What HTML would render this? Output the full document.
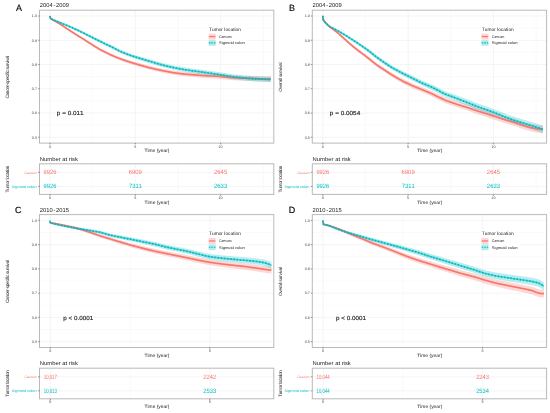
<!DOCTYPE html>
<html><head><meta charset="utf-8"><title>Kaplan-Meier curves</title>
<style>
html,body{margin:0;padding:0;background:#fff;width:550px;height:413px;overflow:hidden;}
svg{display:block;will-change:transform;}
text{font-family:"Liberation Sans",sans-serif;font-kerning:none;text-rendering:geometricPrecision;}
.gm{stroke:#f7f7f7;stroke-width:0.6}
.gM{stroke:#f1f1f1;stroke-width:0.8}
.bd{fill:none;stroke:#bababa;stroke-width:1}
.tk{stroke:#555;stroke-width:0.6}
.k{stroke:#000;stroke-width:1.5}
.p{stroke:#222;stroke-width:1.5}
</style></head>
<body>
<svg width="550" height="413" viewBox="0 0 550 413">
<rect width="550" height="413" fill="#fff"/>
<g transform="translate(0,0)">
<text transform="translate(15.9,10.9) scale(0.1,0.1)" font-size="90" fill="#000" class="k">A</text>
<text transform="translate(39.8,7) scale(0.1)" font-size="58" fill="#1a1a1a">2004<tspan dx="7">-</tspan><tspan dx="7">2009</tspan></text>
<line x1="39.5" x2="273.8" y1="28.13" y2="28.13" class="gm"/>
<line x1="39.5" x2="273.8" y1="52.38" y2="52.38" class="gm"/>
<line x1="39.5" x2="273.8" y1="76.62" y2="76.62" class="gm"/>
<line x1="39.5" x2="273.8" y1="100.88" y2="100.88" class="gm"/>
<line x1="39.5" x2="273.8" y1="125.12" y2="125.12" class="gm"/>
<line x1="92.65" x2="92.65" y1="10.2" y2="143.1" class="gm"/>
<line x1="177.95" x2="177.95" y1="10.2" y2="143.1" class="gm"/>
<line x1="263.25" x2="263.25" y1="10.2" y2="143.1" class="gm"/>
<line x1="39.5" x2="273.8" y1="16" y2="16" class="gM"/>
<line x1="39.5" x2="273.8" y1="40.25" y2="40.25" class="gM"/>
<line x1="39.5" x2="273.8" y1="64.5" y2="64.5" class="gM"/>
<line x1="39.5" x2="273.8" y1="88.75" y2="88.75" class="gM"/>
<line x1="39.5" x2="273.8" y1="113" y2="113" class="gM"/>
<line x1="39.5" x2="273.8" y1="137.25" y2="137.25" class="gM"/>
<line x1="50" x2="50" y1="10.2" y2="143.1" class="gM"/>
<line x1="135.3" x2="135.3" y1="10.2" y2="143.1" class="gM"/>
<line x1="220.6" x2="220.6" y1="10.2" y2="143.1" class="gM"/>
<polygon points="50,15.8 50.4,17.65 52.4,18.86 52.9,19.13 53.4,19.4 53.9,19.67 54.4,19.95 54.9,20.22 55.4,20.5 55.9,20.78 56.4,21.06 56.9,21.34 57.4,21.62 57.9,21.91 58.4,22.2 58.9,22.49 59.4,22.78 59.9,23.08 60.4,23.38 60.9,23.69 61.4,23.99 61.9,24.31 62.4,24.62 62.9,24.94 63.4,25.26 63.9,25.58 64.4,25.91 64.9,26.24 65.4,26.57 65.9,26.9 66.4,27.23 66.9,27.55 67.4,27.88 67.9,28.21 68.4,28.53 68.9,28.86 69.4,29.18 69.9,29.5 70.4,29.81 70.9,30.13 71.4,30.44 71.9,30.76 72.4,31.07 72.9,31.38 73.4,31.69 73.9,32 74.4,32.32 74.9,32.63 75.4,32.93 75.9,33.24 76.4,33.55 76.9,33.86 77.4,34.17 77.9,34.48 78.4,34.78 78.9,35.09 79.4,35.4 79.9,35.7 80.4,36.01 80.9,36.32 81.4,36.63 81.9,36.93 82.4,37.24 82.9,37.55 83.4,37.86 83.9,38.17 84.4,38.48 84.9,38.79 85.4,39.1 85.9,39.41 86.4,39.72 86.9,40.03 87.4,40.34 87.9,40.66 88.4,40.97 88.9,41.28 89.4,41.59 89.9,41.91 90.4,42.22 90.9,42.53 91.4,42.84 91.9,43.15 92.4,43.46 92.9,43.77 93.4,44.08 93.9,44.39 94.4,44.69 94.9,45 95.4,45.31 95.9,45.61 96.4,45.92 96.9,46.22 97.4,46.52 97.9,46.82 98.4,47.12 98.9,47.41 99.4,47.7 99.9,47.98 100.4,48.26 100.9,48.54 101.4,48.81 101.9,49.07 102.4,49.33 102.9,49.59 103.4,49.84 103.9,50.09 104.4,50.34 104.9,50.58 105.4,50.82 105.9,51.06 106.4,51.29 106.9,51.53 107.4,51.76 107.9,51.99 108.4,52.21 108.9,52.44 109.4,52.66 109.9,52.89 110.4,53.11 110.9,53.33 111.4,53.55 111.9,53.77 112.4,53.99 112.9,54.21 113.4,54.42 113.9,54.64 114.4,54.85 114.9,55.06 115.4,55.26 115.9,55.47 116.4,55.67 116.9,55.87 117.4,56.06 117.9,56.25 118.4,56.44 118.9,56.63 119.4,56.82 119.9,57 120.4,57.19 120.9,57.37 121.4,57.55 121.9,57.73 122.4,57.91 122.9,58.08 123.4,58.25 123.9,58.43 124.4,58.6 124.9,58.76 125.4,58.93 125.9,59.1 126.4,59.26 126.9,59.42 127.4,59.58 127.9,59.74 128.4,59.9 128.9,60.05 129.4,60.21 129.9,60.37 130.4,60.52 130.9,60.67 131.4,60.82 131.9,60.97 132.4,61.12 132.9,61.27 133.4,61.41 133.9,61.56 134.4,61.7 134.9,61.84 135.4,61.98 135.9,62.12 136.4,62.26 136.9,62.4 137.4,62.54 137.9,62.68 138.4,62.82 138.9,62.96 139.4,63.09 139.9,63.23 140.4,63.37 140.9,63.51 141.4,63.65 141.9,63.79 142.4,63.93 142.9,64.07 143.4,64.21 143.9,64.35 144.4,64.49 144.9,64.63 145.4,64.77 145.9,64.9 146.4,65.04 146.9,65.17 147.4,65.3 147.9,65.43 148.4,65.55 148.9,65.67 149.4,65.8 149.9,65.91 150.4,66.03 150.9,66.15 151.4,66.26 151.9,66.37 152.4,66.49 152.9,66.6 153.4,66.71 153.9,66.82 154.4,66.93 154.9,67.04 155.4,67.15 155.9,67.26 156.4,67.36 156.9,67.47 157.4,67.58 157.9,67.69 158.4,67.79 158.9,67.9 159.4,68 159.9,68.11 160.4,68.21 160.9,68.31 161.4,68.42 161.9,68.52 162.4,68.62 162.9,68.72 163.4,68.81 163.9,68.91 164.4,69.01 164.9,69.11 165.4,69.2 165.9,69.29 166.4,69.39 166.9,69.48 167.4,69.57 167.9,69.66 168.4,69.75 168.9,69.83 169.4,69.92 169.9,70 170.4,70.08 170.9,70.17 171.4,70.25 171.9,70.33 172.4,70.4 172.9,70.48 173.4,70.56 173.9,70.63 174.4,70.7 174.9,70.78 175.4,70.85 175.9,70.92 176.4,70.98 176.9,71.05 177.4,71.12 177.9,71.18 178.4,71.25 178.9,71.31 179.4,71.37 179.9,71.44 180.4,71.5 180.9,71.56 181.4,71.61 181.9,71.67 182.4,71.73 182.9,71.78 183.4,71.83 183.9,71.88 184.4,71.93 184.9,71.98 185.4,72.02 185.9,72.06 186.4,72.1 186.9,72.14 187.4,72.17 187.9,72.21 188.4,72.24 188.9,72.27 189.4,72.3 189.9,72.33 190.4,72.36 190.9,72.39 191.4,72.42 191.9,72.45 192.4,72.49 192.9,72.52 193.4,72.56 193.9,72.59 194.4,72.63 194.9,72.67 195.4,72.71 195.9,72.74 196.4,72.78 196.9,72.82 197.4,72.86 197.9,72.9 198.4,72.94 198.9,72.97 199.4,73.01 199.9,73.05 200.4,73.09 200.9,73.13 201.4,73.16 201.9,73.2 202.4,73.23 202.9,73.27 203.4,73.3 203.9,73.33 204.4,73.36 204.9,73.39 205.4,73.41 205.9,73.44 206.4,73.46 206.9,73.48 207.4,73.5 207.9,73.52 208.4,73.54 208.9,73.56 209.4,73.57 209.9,73.59 210.4,73.61 210.9,73.63 211.4,73.64 211.9,73.66 212.4,73.68 212.9,73.7 213.4,73.71 213.9,73.73 214.4,73.75 214.9,73.77 215.4,73.79 215.9,73.81 216.4,73.83 216.9,73.86 217.4,73.88 217.9,73.91 218.4,73.94 218.9,73.98 219.4,74.02 219.9,74.06 220.4,74.1 220.9,74.15 221.4,74.2 221.9,74.25 222.4,74.3 222.9,74.36 223.4,74.41 223.9,74.47 224.4,74.52 224.9,74.58 225.4,74.63 225.9,74.68 226.4,74.73 226.9,74.78 227.4,74.83 227.9,74.88 228.4,74.92 228.9,74.97 229.4,75.01 229.9,75.05 230.4,75.09 230.9,75.13 231.4,75.17 231.9,75.2 232.4,75.23 232.9,75.27 233.4,75.29 233.9,75.32 234.4,75.34 234.9,75.37 235.4,75.39 235.9,75.41 236.4,75.43 236.9,75.44 237.4,75.46 237.9,75.48 238.4,75.49 238.9,75.51 239.4,75.53 239.9,75.54 240.4,75.56 240.9,75.57 241.4,75.59 241.9,75.6 242.4,75.62 242.9,75.64 243.4,75.65 243.9,75.67 244.4,75.68 244.9,75.7 245.4,75.71 245.9,75.73 246.4,75.75 246.9,75.76 247.4,75.78 247.9,75.79 248.4,75.81 248.9,75.82 249.4,75.84 249.9,75.86 250.4,75.87 250.9,75.89 251.4,75.9 251.9,75.92 252.4,75.93 252.9,75.95 253.4,75.97 253.9,75.98 254.4,76 254.9,76.01 255.4,76.03 255.9,76.04 256.4,76.05 256.9,76.07 257.4,76.08 257.9,76.1 258.4,76.11 258.9,76.12 259.4,76.13 259.9,76.14 260.4,76.16 260.9,76.17 261.4,76.18 261.9,76.19 262.4,76.2 262.9,76.21 263.4,76.23 263.9,76.24 264.4,76.25 264.9,76.26 265.4,76.27 265.9,76.28 266.4,76.29 266.9,76.31 267.4,76.32 267.9,76.33 268.4,76.34 268.9,76.35 269.4,76.36 269.9,76.37 270.4,76.39 270.9,76.4 270.9,81.8 270.4,81.78 269.9,81.76 269.4,81.75 268.9,81.73 268.4,81.71 267.9,81.69 267.4,81.68 266.9,81.66 266.4,81.64 265.9,81.63 265.4,81.61 264.9,81.59 264.4,81.57 263.9,81.56 263.4,81.54 262.9,81.52 262.4,81.51 261.9,81.49 261.4,81.47 260.9,81.45 260.4,81.44 259.9,81.42 259.4,81.4 258.9,81.38 258.4,81.36 257.9,81.35 257.4,81.33 256.9,81.31 256.4,81.29 255.9,81.27 255.4,81.25 254.9,81.23 254.4,81.21 253.9,81.18 253.4,81.16 252.9,81.14 252.4,81.12 251.9,81.1 251.4,81.08 250.9,81.05 250.4,81.03 249.9,81.01 249.4,80.99 248.9,80.97 248.4,80.95 247.9,80.92 247.4,80.9 246.9,80.88 246.4,80.86 245.9,80.84 245.4,80.82 244.9,80.79 244.4,80.77 243.9,80.75 243.4,80.73 242.9,80.71 242.4,80.69 241.9,80.66 241.4,80.64 240.9,80.62 240.4,80.6 239.9,80.58 239.4,80.55 238.9,80.53 238.4,80.51 237.9,80.49 237.4,80.47 236.9,80.44 236.4,80.42 235.9,80.39 235.4,80.37 234.9,80.34 234.4,80.31 233.9,80.28 233.4,80.25 232.9,80.22 232.4,80.18 231.9,80.14 231.4,80.1 230.9,80.06 230.4,80.01 229.9,79.97 229.4,79.92 228.9,79.87 228.4,79.82 227.9,79.77 227.4,79.71 226.9,79.66 226.4,79.6 225.9,79.55 225.4,79.49 224.9,79.43 224.4,79.37 223.9,79.31 223.4,79.25 222.9,79.18 222.4,79.12 221.9,79.06 221.4,79.01 220.9,78.95 220.4,78.9 219.9,78.85 219.4,78.8 218.9,78.75 218.4,78.71 217.9,78.67 217.4,78.64 216.9,78.61 216.4,78.58 215.9,78.55 215.4,78.52 214.9,78.49 214.4,78.47 213.9,78.44 213.4,78.42 212.9,78.39 212.4,78.37 211.9,78.35 211.4,78.32 210.9,78.3 210.4,78.28 209.9,78.25 209.4,78.23 208.9,78.2 208.4,78.18 207.9,78.15 207.4,78.13 206.9,78.1 206.4,78.07 205.9,78.04 205.4,78.01 204.9,77.98 204.4,77.95 203.9,77.91 203.4,77.87 202.9,77.83 202.4,77.79 201.9,77.75 201.4,77.71 200.9,77.67 200.4,77.62 199.9,77.58 199.4,77.53 198.9,77.49 198.4,77.44 197.9,77.4 197.4,77.35 196.9,77.31 196.4,77.26 195.9,77.22 195.4,77.17 194.9,77.13 194.4,77.09 193.9,77.04 193.4,77 192.9,76.96 192.4,76.91 191.9,76.87 191.4,76.84 190.9,76.8 190.4,76.76 189.9,76.72 189.4,76.68 188.9,76.65 188.4,76.61 187.9,76.57 187.4,76.53 186.9,76.49 186.4,76.45 185.9,76.4 185.4,76.35 184.9,76.3 184.4,76.25 183.9,76.19 183.4,76.13 182.9,76.08 182.4,76.01 181.9,75.95 181.4,75.89 180.9,75.82 180.4,75.76 179.9,75.69 179.4,75.62 178.9,75.55 178.4,75.48 177.9,75.41 177.4,75.34 176.9,75.26 176.4,75.19 175.9,75.11 175.4,75.04 174.9,74.96 174.4,74.88 173.9,74.8 173.4,74.72 172.9,74.64 172.4,74.55 171.9,74.47 171.4,74.38 170.9,74.29 170.4,74.2 169.9,74.11 169.4,74.02 168.9,73.93 168.4,73.83 167.9,73.74 167.4,73.64 166.9,73.55 166.4,73.45 165.9,73.35 165.4,73.25 164.9,73.14 164.4,73.04 163.9,72.94 163.4,72.83 162.9,72.72 162.4,72.62 161.9,72.51 161.4,72.4 160.9,72.29 160.4,72.18 159.9,72.07 159.4,71.96 158.9,71.85 158.4,71.73 157.9,71.62 157.4,71.5 156.9,71.39 156.4,71.27 155.9,71.16 155.4,71.04 154.9,70.93 154.4,70.81 153.9,70.69 153.4,70.57 152.9,70.45 152.4,70.33 151.9,70.21 151.4,70.09 150.9,69.97 150.4,69.85 149.9,69.72 149.4,69.6 148.9,69.47 148.4,69.34 147.9,69.2 147.4,69.07 146.9,68.93 146.4,68.79 145.9,68.65 145.4,68.5 144.9,68.36 144.4,68.21 143.9,68.06 143.4,67.92 142.9,67.77 142.4,67.62 141.9,67.47 141.4,67.33 140.9,67.18 140.4,67.03 139.9,66.88 139.4,66.74 138.9,66.59 138.4,66.44 137.9,66.29 137.4,66.15 136.9,66 136.4,65.85 135.9,65.7 135.4,65.56 134.9,65.41 134.4,65.26 133.9,65.11 133.4,64.95 132.9,64.8 132.4,64.64 131.9,64.49 131.4,64.33 130.9,64.17 130.4,64.01 129.9,63.85 129.4,63.68 128.9,63.52 128.4,63.35 127.9,63.19 127.4,63.02 126.9,62.85 126.4,62.68 125.9,62.51 125.4,62.33 124.9,62.16 124.4,61.98 123.9,61.8 123.4,61.62 122.9,61.44 122.4,61.26 121.9,61.07 121.4,60.88 120.9,60.69 120.4,60.5 119.9,60.31 119.4,60.11 118.9,59.92 118.4,59.72 117.9,59.52 117.4,59.32 116.9,59.12 116.4,58.91 115.9,58.7 115.4,58.49 114.9,58.27 114.4,58.05 113.9,57.83 113.4,57.61 112.9,57.38 112.4,57.16 111.9,56.93 111.4,56.7 110.9,56.47 110.4,56.24 109.9,56.01 109.4,55.77 108.9,55.54 108.4,55.3 107.9,55.07 107.4,54.83 106.9,54.59 106.4,54.34 105.9,54.1 105.4,53.85 104.9,53.6 104.4,53.35 103.9,53.09 103.4,52.83 102.9,52.57 102.4,52.3 101.9,52.03 101.4,51.76 100.9,51.48 100.4,51.19 99.9,50.9 99.4,50.61 98.9,50.31 98.4,50.01 97.9,49.7 97.4,49.39 96.9,49.08 96.4,48.77 95.9,48.45 95.4,48.13 94.9,47.82 94.4,47.5 93.9,47.18 93.4,46.86 92.9,46.54 92.4,46.22 91.9,45.9 91.4,45.58 90.9,45.26 90.4,44.93 89.9,44.61 89.4,44.29 88.9,43.96 88.4,43.64 87.9,43.32 87.4,42.99 86.9,42.67 86.4,42.34 85.9,42.02 85.4,41.7 84.9,41.38 84.4,41.05 83.9,40.73 83.4,40.41 82.9,40.09 82.4,39.77 81.9,39.45 81.4,39.13 80.9,38.81 80.4,38.49 79.9,38.17 79.4,37.85 78.9,37.53 78.4,37.21 77.9,36.89 77.4,36.57 76.9,36.25 76.4,35.93 75.9,35.6 75.4,35.28 74.9,34.96 74.4,34.63 73.9,34.31 73.4,33.99 72.9,33.66 72.4,33.33 71.9,33.01 71.4,32.68 70.9,32.35 70.4,32.02 69.9,31.69 69.4,31.35 68.9,31.02 68.4,30.68 67.9,30.34 67.4,30 66.9,29.65 66.4,29.31 65.9,28.96 65.4,28.62 64.9,28.27 64.4,27.93 63.9,27.58 63.4,27.24 62.9,26.9 62.4,26.57 61.9,26.23 61.4,25.9 60.9,25.58 60.4,25.25 59.9,24.93 59.4,24.61 58.9,24.3 58.4,23.99 57.9,23.68 57.4,23.37 56.9,23.06 56.4,22.76 55.9,22.46 55.4,22.15 54.9,21.85 54.4,21.55 53.9,21.25 53.4,20.95 52.9,20.64 52.4,20.34 50.4,18.95 50,17" fill="#F8766D" fill-opacity="0.28"/>
<polygon points="50,15.3 50.4,17.45 52.4,18.77 52.9,18.94 53.4,19.12 53.9,19.29 54.4,19.47 54.9,19.65 55.4,19.83 55.9,20.02 56.4,20.21 56.9,20.39 57.4,20.58 57.9,20.78 58.4,20.97 58.9,21.16 59.4,21.36 59.9,21.55 60.4,21.75 60.9,21.94 61.4,22.13 61.9,22.33 62.4,22.52 62.9,22.71 63.4,22.9 63.9,23.09 64.4,23.29 64.9,23.48 65.4,23.68 65.9,23.87 66.4,24.07 66.9,24.27 67.4,24.48 67.9,24.68 68.4,24.89 68.9,25.1 69.4,25.32 69.9,25.53 70.4,25.74 70.9,25.96 71.4,26.18 71.9,26.39 72.4,26.61 72.9,26.83 73.4,27.05 73.9,27.27 74.4,27.49 74.9,27.71 75.4,27.93 75.9,28.15 76.4,28.38 76.9,28.6 77.4,28.83 77.9,29.06 78.4,29.29 78.9,29.53 79.4,29.76 79.9,30 80.4,30.24 80.9,30.48 81.4,30.72 81.9,30.96 82.4,31.2 82.9,31.44 83.4,31.68 83.9,31.92 84.4,32.16 84.9,32.41 85.4,32.65 85.9,32.89 86.4,33.13 86.9,33.38 87.4,33.62 87.9,33.86 88.4,34.11 88.9,34.35 89.4,34.6 89.9,34.84 90.4,35.09 90.9,35.34 91.4,35.58 91.9,35.83 92.4,36.08 92.9,36.32 93.4,36.57 93.9,36.82 94.4,37.06 94.9,37.31 95.4,37.56 95.9,37.8 96.4,38.05 96.9,38.3 97.4,38.54 97.9,38.79 98.4,39.03 98.9,39.28 99.4,39.52 99.9,39.77 100.4,40.01 100.9,40.25 101.4,40.49 101.9,40.73 102.4,40.97 102.9,41.21 103.4,41.45 103.9,41.68 104.4,41.92 104.9,42.15 105.4,42.38 105.9,42.62 106.4,42.85 106.9,43.08 107.4,43.31 107.9,43.54 108.4,43.77 108.9,44 109.4,44.23 109.9,44.46 110.4,44.7 110.9,44.94 111.4,45.18 111.9,45.43 112.4,45.67 112.9,45.92 113.4,46.17 113.9,46.43 114.4,46.68 114.9,46.94 115.4,47.19 115.9,47.45 116.4,47.7 116.9,47.96 117.4,48.21 117.9,48.47 118.4,48.72 118.9,48.97 119.4,49.21 119.9,49.45 120.4,49.69 120.9,49.92 121.4,50.15 121.9,50.37 122.4,50.58 122.9,50.79 123.4,50.99 123.9,51.19 124.4,51.38 124.9,51.57 125.4,51.76 125.9,51.94 126.4,52.13 126.9,52.31 127.4,52.49 127.9,52.67 128.4,52.84 128.9,53.02 129.4,53.2 129.9,53.38 130.4,53.55 130.9,53.72 131.4,53.89 131.9,54.06 132.4,54.23 132.9,54.39 133.4,54.55 133.9,54.71 134.4,54.87 134.9,55.02 135.4,55.18 135.9,55.33 136.4,55.48 136.9,55.63 137.4,55.77 137.9,55.92 138.4,56.07 138.9,56.22 139.4,56.37 139.9,56.51 140.4,56.66 140.9,56.81 141.4,56.95 141.9,57.1 142.4,57.25 142.9,57.39 143.4,57.54 143.9,57.68 144.4,57.83 144.9,57.97 145.4,58.12 145.9,58.26 146.4,58.4 146.9,58.55 147.4,58.69 147.9,58.83 148.4,58.98 148.9,59.12 149.4,59.26 149.9,59.41 150.4,59.55 150.9,59.69 151.4,59.84 151.9,59.98 152.4,60.13 152.9,60.27 153.4,60.42 153.9,60.56 154.4,60.71 154.9,60.86 155.4,61 155.9,61.15 156.4,61.3 156.9,61.44 157.4,61.59 157.9,61.74 158.4,61.88 158.9,62.02 159.4,62.16 159.9,62.3 160.4,62.44 160.9,62.57 161.4,62.7 161.9,62.83 162.4,62.96 162.9,63.09 163.4,63.21 163.9,63.33 164.4,63.45 164.9,63.57 165.4,63.69 165.9,63.81 166.4,63.92 166.9,64.04 167.4,64.15 167.9,64.26 168.4,64.37 168.9,64.48 169.4,64.59 169.9,64.69 170.4,64.8 170.9,64.91 171.4,65.01 171.9,65.12 172.4,65.23 172.9,65.33 173.4,65.44 173.9,65.54 174.4,65.64 174.9,65.75 175.4,65.85 175.9,65.95 176.4,66.04 176.9,66.14 177.4,66.23 177.9,66.33 178.4,66.42 178.9,66.51 179.4,66.59 179.9,66.68 180.4,66.77 180.9,66.85 181.4,66.94 181.9,67.02 182.4,67.1 182.9,67.19 183.4,67.27 183.9,67.35 184.4,67.44 184.9,67.52 185.4,67.6 185.9,67.68 186.4,67.75 186.9,67.83 187.4,67.9 187.9,67.98 188.4,68.05 188.9,68.12 189.4,68.18 189.9,68.25 190.4,68.31 190.9,68.38 191.4,68.44 191.9,68.5 192.4,68.57 192.9,68.63 193.4,68.69 193.9,68.75 194.4,68.81 194.9,68.87 195.4,68.93 195.9,69 196.4,69.06 196.9,69.12 197.4,69.18 197.9,69.24 198.4,69.31 198.9,69.37 199.4,69.43 199.9,69.5 200.4,69.56 200.9,69.63 201.4,69.69 201.9,69.76 202.4,69.82 202.9,69.89 203.4,69.95 203.9,70.02 204.4,70.09 204.9,70.15 205.4,70.22 205.9,70.28 206.4,70.35 206.9,70.42 207.4,70.48 207.9,70.55 208.4,70.62 208.9,70.69 209.4,70.76 209.9,70.83 210.4,70.9 210.9,70.97 211.4,71.04 211.9,71.11 212.4,71.19 212.9,71.26 213.4,71.33 213.9,71.41 214.4,71.48 214.9,71.56 215.4,71.63 215.9,71.7 216.4,71.78 216.9,71.85 217.4,71.93 217.9,72 218.4,72.08 218.9,72.15 219.4,72.23 219.9,72.3 220.4,72.38 220.9,72.45 221.4,72.53 221.9,72.6 222.4,72.68 222.9,72.75 223.4,72.83 223.9,72.91 224.4,72.98 224.9,73.06 225.4,73.14 225.9,73.22 226.4,73.29 226.9,73.37 227.4,73.45 227.9,73.53 228.4,73.6 228.9,73.68 229.4,73.76 229.9,73.83 230.4,73.91 230.9,73.98 231.4,74.05 231.9,74.12 232.4,74.19 232.9,74.26 233.4,74.33 233.9,74.39 234.4,74.45 234.9,74.51 235.4,74.56 235.9,74.61 236.4,74.67 236.9,74.72 237.4,74.77 237.9,74.82 238.4,74.86 238.9,74.91 239.4,74.96 239.9,75.01 240.4,75.06 240.9,75.1 241.4,75.15 241.9,75.2 242.4,75.24 242.9,75.29 243.4,75.33 243.9,75.38 244.4,75.42 244.9,75.47 245.4,75.51 245.9,75.55 246.4,75.59 246.9,75.63 247.4,75.67 247.9,75.71 248.4,75.74 248.9,75.78 249.4,75.82 249.9,75.85 250.4,75.89 250.9,75.92 251.4,75.96 251.9,75.99 252.4,76.03 252.9,76.06 253.4,76.1 253.9,76.13 254.4,76.16 254.9,76.2 255.4,76.23 255.9,76.26 256.4,76.29 256.9,76.31 257.4,76.34 257.9,76.36 258.4,76.39 258.9,76.41 259.4,76.43 259.9,76.45 260.4,76.47 260.9,76.48 261.4,76.5 261.9,76.52 262.4,76.53 262.9,76.55 263.4,76.56 263.9,76.58 264.4,76.59 264.9,76.61 265.4,76.63 265.9,76.64 266.4,76.66 266.9,76.67 267.4,76.69 267.9,76.7 268.4,76.72 268.9,76.73 269.4,76.75 269.9,76.77 270.4,76.78 270.9,76.8 270.9,82.2 270.4,82.18 269.9,82.15 269.4,82.13 268.9,82.11 268.4,82.09 267.9,82.07 267.4,82.05 266.9,82.03 266.4,82.01 265.9,81.99 265.4,81.97 264.9,81.94 264.4,81.92 263.9,81.9 263.4,81.88 262.9,81.86 262.4,81.84 261.9,81.82 261.4,81.8 260.9,81.77 260.4,81.75 259.9,81.73 259.4,81.7 258.9,81.68 258.4,81.65 257.9,81.62 257.4,81.59 256.9,81.56 256.4,81.53 255.9,81.49 255.4,81.46 254.9,81.42 254.4,81.38 253.9,81.34 253.4,81.3 252.9,81.26 252.4,81.22 251.9,81.18 251.4,81.14 250.9,81.1 250.4,81.06 249.9,81.02 249.4,80.98 248.9,80.93 248.4,80.89 247.9,80.85 247.4,80.81 246.9,80.76 246.4,80.72 245.9,80.67 245.4,80.62 244.9,80.58 244.4,80.53 243.9,80.48 243.4,80.43 242.9,80.38 242.4,80.33 241.9,80.27 241.4,80.22 240.9,80.17 240.4,80.11 239.9,80.06 239.4,80.01 238.9,79.95 238.4,79.9 237.9,79.85 237.4,79.79 236.9,79.74 236.4,79.68 235.9,79.62 235.4,79.56 234.9,79.5 234.4,79.44 233.9,79.37 233.4,79.3 232.9,79.23 232.4,79.16 231.9,79.08 231.4,79.01 230.9,78.93 230.4,78.85 229.9,78.77 229.4,78.69 228.9,78.6 228.4,78.52 227.9,78.44 227.4,78.35 226.9,78.27 226.4,78.19 225.9,78.1 225.4,78.02 224.9,77.94 224.4,77.86 223.9,77.77 223.4,77.69 222.9,77.61 222.4,77.52 221.9,77.44 221.4,77.36 220.9,77.28 220.4,77.2 219.9,77.12 219.4,77.04 218.9,76.96 218.4,76.87 217.9,76.79 217.4,76.71 216.9,76.63 216.4,76.55 215.9,76.47 215.4,76.39 214.9,76.31 214.4,76.23 213.9,76.15 213.4,76.07 212.9,75.99 212.4,75.91 211.9,75.83 211.4,75.76 210.9,75.68 210.4,75.6 209.9,75.52 209.4,75.45 208.9,75.37 208.4,75.3 207.9,75.22 207.4,75.15 206.9,75.07 206.4,75 205.9,74.93 205.4,74.86 204.9,74.78 204.4,74.71 203.9,74.64 203.4,74.57 202.9,74.5 202.4,74.42 201.9,74.35 201.4,74.28 200.9,74.21 200.4,74.14 199.9,74.07 199.4,74 198.9,73.93 198.4,73.86 197.9,73.79 197.4,73.72 196.9,73.65 196.4,73.58 195.9,73.51 195.4,73.45 194.9,73.38 194.4,73.31 193.9,73.24 193.4,73.18 192.9,73.11 192.4,73.04 191.9,72.97 191.4,72.9 190.9,72.83 190.4,72.76 189.9,72.69 189.4,72.62 188.9,72.54 188.4,72.47 187.9,72.39 187.4,72.31 186.9,72.23 186.4,72.15 185.9,72.06 185.4,71.98 184.9,71.89 184.4,71.8 183.9,71.72 183.4,71.63 182.9,71.54 182.4,71.45 181.9,71.36 181.4,71.26 180.9,71.17 180.4,71.08 179.9,70.99 179.4,70.9 178.9,70.8 178.4,70.71 177.9,70.61 177.4,70.51 176.9,70.41 176.4,70.31 175.9,70.2 175.4,70.1 174.9,69.99 174.4,69.88 173.9,69.77 173.4,69.66 172.9,69.55 172.4,69.43 171.9,69.32 171.4,69.21 170.9,69.09 170.4,68.98 169.9,68.87 169.4,68.75 168.9,68.64 168.4,68.52 167.9,68.4 167.4,68.28 166.9,68.17 166.4,68.05 165.9,67.92 165.4,67.8 164.9,67.68 164.4,67.55 163.9,67.42 163.4,67.29 162.9,67.16 162.4,67.03 161.9,66.89 161.4,66.76 160.9,66.62 160.4,66.48 159.9,66.33 159.4,66.19 158.9,66.04 158.4,65.89 157.9,65.74 157.4,65.59 156.9,65.43 156.4,65.28 155.9,65.12 155.4,64.97 154.9,64.81 154.4,64.66 153.9,64.51 153.4,64.35 152.9,64.2 152.4,64.05 151.9,63.9 151.4,63.75 150.9,63.59 150.4,63.44 149.9,63.29 149.4,63.14 148.9,62.99 148.4,62.84 147.9,62.69 147.4,62.54 146.9,62.39 146.4,62.24 145.9,62.09 145.4,61.93 144.9,61.78 144.4,61.63 143.9,61.48 143.4,61.32 142.9,61.17 142.4,61.02 141.9,60.86 141.4,60.71 140.9,60.55 140.4,60.4 139.9,60.25 139.4,60.09 138.9,59.94 138.4,59.78 137.9,59.62 137.4,59.47 136.9,59.31 136.4,59.15 135.9,59 135.4,58.84 134.9,58.68 134.4,58.51 133.9,58.35 133.4,58.18 132.9,58.01 132.4,57.84 131.9,57.67 131.4,57.49 130.9,57.31 130.4,57.13 129.9,56.95 129.4,56.76 128.9,56.58 128.4,56.39 127.9,56.21 127.4,56.02 126.9,55.83 126.4,55.64 125.9,55.45 125.4,55.26 124.9,55.06 124.4,54.87 123.9,54.66 123.4,54.46 122.9,54.25 122.4,54.03 121.9,53.81 121.4,53.58 120.9,53.35 120.4,53.11 119.9,52.86 119.4,52.61 118.9,52.35 118.4,52.1 117.9,51.84 117.4,51.57 116.9,51.31 116.4,51.05 115.9,50.78 115.4,50.52 114.9,50.25 114.4,49.99 113.9,49.73 113.4,49.47 112.9,49.21 112.4,48.95 111.9,48.69 111.4,48.44 110.9,48.19 110.4,47.94 109.9,47.69 109.4,47.45 108.9,47.21 108.4,46.97 107.9,46.73 107.4,46.49 106.9,46.25 106.4,46.01 105.9,45.77 105.4,45.53 104.9,45.29 104.4,45.04 103.9,44.8 103.4,44.55 102.9,44.31 102.4,44.06 101.9,43.81 101.4,43.56 100.9,43.31 100.4,43.06 99.9,42.8 99.4,42.55 98.9,42.3 98.4,42.04 97.9,41.79 97.4,41.53 96.9,41.27 96.4,41.02 95.9,40.76 95.4,40.5 94.9,40.25 94.4,39.99 93.9,39.73 93.4,39.48 92.9,39.22 92.4,38.96 91.9,38.7 91.4,38.45 90.9,38.19 90.4,37.93 89.9,37.68 89.4,37.42 88.9,37.16 88.4,36.91 87.9,36.65 87.4,36.4 86.9,36.14 86.4,35.89 85.9,35.64 85.4,35.38 84.9,35.13 84.4,34.88 83.9,34.62 83.4,34.37 82.9,34.11 82.4,33.86 81.9,33.61 81.4,33.36 80.9,33.11 80.4,32.85 79.9,32.6 79.4,32.36 78.9,32.11 78.4,31.86 77.9,31.62 77.4,31.38 76.9,31.14 76.4,30.9 75.9,30.66 75.4,30.42 74.9,30.19 74.4,29.95 73.9,29.72 73.4,29.49 72.9,29.26 72.4,29.03 71.9,28.79 71.4,28.56 70.9,28.33 70.4,28.1 69.9,27.87 69.4,27.64 68.9,27.42 68.4,27.19 67.9,26.97 67.4,26.75 66.9,26.53 66.4,26.31 65.9,26.1 65.4,25.89 64.9,25.67 64.4,25.46 63.9,25.26 63.4,25.05 62.9,24.84 62.4,24.63 61.9,24.42 61.4,24.21 60.9,24 60.4,23.79 59.9,23.57 59.4,23.36 58.9,23.15 58.4,22.93 57.9,22.72 57.4,22.51 56.9,22.29 56.4,22.08 55.9,21.87 55.4,21.67 54.9,21.46 54.4,21.25 53.9,21.05 53.4,20.84 52.9,20.64 52.4,20.43 50.4,18.95 50,16.7" fill="#00BFC4" fill-opacity="0.28"/>
<polyline points="50,16.4 50.4,18.3 52.4,19.6 52.9,19.89 53.4,20.17 53.9,20.46 54.4,20.75 54.9,21.04 55.4,21.33 55.9,21.62 56.4,21.91 56.9,22.2 57.4,22.5 57.9,22.79 58.4,23.09 58.9,23.39 59.4,23.7 59.9,24.01 60.4,24.32 60.9,24.63 61.4,24.95 61.9,25.27 62.4,25.59 62.9,25.92 63.4,26.25 63.9,26.58 64.4,26.92 64.9,27.25 65.4,27.59 65.9,27.93 66.4,28.27 66.9,28.6 67.4,28.94 67.9,29.27 68.4,29.61 68.9,29.94 69.4,30.27 69.9,30.59 70.4,30.92 70.9,31.24 71.4,31.56 71.9,31.88 72.4,32.2 72.9,32.52 73.4,32.84 73.9,33.16 74.4,33.48 74.9,33.79 75.4,34.11 75.9,34.42 76.4,34.74 76.9,35.05 77.4,35.37 77.9,35.68 78.4,36 78.9,36.31 79.4,36.62 79.9,36.94 80.4,37.25 80.9,37.56 81.4,37.88 81.9,38.19 82.4,38.5 82.9,38.82 83.4,39.13 83.9,39.45 84.4,39.77 84.9,40.08 85.4,40.4 85.9,40.72 86.4,41.03 86.9,41.35 87.4,41.67 87.9,41.99 88.4,42.3 88.9,42.62 89.4,42.94 89.9,43.26 90.4,43.58 90.9,43.89 91.4,44.21 91.9,44.52 92.4,44.84 92.9,45.15 93.4,45.47 93.9,45.78 94.4,46.1 94.9,46.41 95.4,46.72 95.9,47.03 96.4,47.34 96.9,47.65 97.4,47.96 97.9,48.26 98.4,48.56 98.9,48.86 99.4,49.15 99.9,49.44 100.4,49.73 100.9,50.01 101.4,50.28 101.9,50.55 102.4,50.82 102.9,51.08 103.4,51.34 103.9,51.59 104.4,51.84 104.9,52.09 105.4,52.34 105.9,52.58 106.4,52.82 106.9,53.06 107.4,53.29 107.9,53.53 108.4,53.76 108.9,53.99 109.4,54.22 109.9,54.45 110.4,54.67 110.9,54.9 111.4,55.13 111.9,55.35 112.4,55.57 112.9,55.8 113.4,56.02 113.9,56.23 114.4,56.45 114.9,56.66 115.4,56.88 115.9,57.08 116.4,57.29 116.9,57.49 117.4,57.69 117.9,57.89 118.4,58.08 118.9,58.28 119.4,58.47 119.9,58.66 120.4,58.84 120.9,59.03 121.4,59.21 121.9,59.4 122.4,59.58 122.9,59.76 123.4,59.94 123.9,60.12 124.4,60.29 124.9,60.46 125.4,60.63 125.9,60.8 126.4,60.97 126.9,61.13 127.4,61.3 127.9,61.46 128.4,61.63 128.9,61.79 129.4,61.95 129.9,62.11 130.4,62.26 130.9,62.42 131.4,62.58 131.9,62.73 132.4,62.88 132.9,63.03 133.4,63.18 133.9,63.33 134.4,63.48 134.9,63.62 135.4,63.77 135.9,63.91 136.4,64.06 136.9,64.2 137.4,64.34 137.9,64.49 138.4,64.63 138.9,64.77 139.4,64.92 139.9,65.06 140.4,65.2 140.9,65.35 141.4,65.49 141.9,65.63 142.4,65.78 142.9,65.92 143.4,66.06 143.9,66.21 144.4,66.35 144.9,66.49 145.4,66.63 145.9,66.77 146.4,66.91 146.9,67.05 147.4,67.18 147.9,67.31 148.4,67.44 148.9,67.57 149.4,67.7 149.9,67.82 150.4,67.94 150.9,68.06 151.4,68.18 151.9,68.29 152.4,68.41 152.9,68.53 153.4,68.64 153.9,68.76 154.4,68.87 154.9,68.98 155.4,69.09 155.9,69.21 156.4,69.32 156.9,69.43 157.4,69.54 157.9,69.65 158.4,69.76 158.9,69.87 159.4,69.98 159.9,70.09 160.4,70.2 160.9,70.3 161.4,70.41 161.9,70.51 162.4,70.62 162.9,70.72 163.4,70.82 163.9,70.92 164.4,71.02 164.9,71.12 165.4,71.22 165.9,71.32 166.4,71.42 166.9,71.51 167.4,71.61 167.9,71.7 168.4,71.79 168.9,71.88 169.4,71.97 169.9,72.06 170.4,72.14 170.9,72.23 171.4,72.31 171.9,72.4 172.4,72.48 172.9,72.56 173.4,72.64 173.9,72.72 174.4,72.79 174.9,72.87 175.4,72.94 175.9,73.01 176.4,73.09 176.9,73.16 177.4,73.23 177.9,73.3 178.4,73.36 178.9,73.43 179.4,73.5 179.9,73.56 180.4,73.63 180.9,73.69 181.4,73.75 181.9,73.81 182.4,73.87 182.9,73.93 183.4,73.98 183.9,74.04 184.4,74.09 184.9,74.14 185.4,74.19 185.9,74.23 186.4,74.27 186.9,74.31 187.4,74.35 187.9,74.39 188.4,74.42 188.9,74.46 189.4,74.49 189.9,74.53 190.4,74.56 190.9,74.59 191.4,74.63 191.9,74.66 192.4,74.7 192.9,74.74 193.4,74.78 193.9,74.82 194.4,74.86 194.9,74.9 195.4,74.94 195.9,74.98 196.4,75.02 196.9,75.07 197.4,75.11 197.9,75.15 198.4,75.19 198.9,75.23 199.4,75.27 199.9,75.32 200.4,75.36 200.9,75.4 201.4,75.44 201.9,75.48 202.4,75.51 202.9,75.55 203.4,75.59 203.9,75.62 204.4,75.65 204.9,75.68 205.4,75.71 205.9,75.74 206.4,75.76 206.9,75.79 207.4,75.81 207.9,75.84 208.4,75.86 208.9,75.88 209.4,75.9 209.9,75.92 210.4,75.94 210.9,75.96 211.4,75.98 211.9,76 212.4,76.02 212.9,76.05 213.4,76.07 213.9,76.09 214.4,76.11 214.9,76.13 215.4,76.15 215.9,76.18 216.4,76.2 216.9,76.23 217.4,76.26 217.9,76.29 218.4,76.33 218.9,76.37 219.4,76.41 219.9,76.45 220.4,76.5 220.9,76.55 221.4,76.6 221.9,76.66 222.4,76.71 222.9,76.77 223.4,76.83 223.9,76.89 224.4,76.94 224.9,77 225.4,77.06 225.9,77.11 226.4,77.17 226.9,77.22 227.4,77.27 227.9,77.32 228.4,77.37 228.9,77.42 229.4,77.46 229.9,77.51 230.4,77.55 230.9,77.59 231.4,77.63 231.9,77.67 232.4,77.71 232.9,77.74 233.4,77.77 233.9,77.8 234.4,77.83 234.9,77.85 235.4,77.88 235.9,77.9 236.4,77.92 236.9,77.94 237.4,77.96 237.9,77.98 238.4,78 238.9,78.02 239.4,78.04 239.9,78.06 240.4,78.08 240.9,78.1 241.4,78.11 241.9,78.13 242.4,78.15 242.9,78.17 243.4,78.19 243.9,78.21 244.4,78.23 244.9,78.25 245.4,78.27 245.9,78.28 246.4,78.3 246.9,78.32 247.4,78.34 247.9,78.36 248.4,78.38 248.9,78.4 249.4,78.41 249.9,78.43 250.4,78.45 250.9,78.47 251.4,78.49 251.9,78.51 252.4,78.53 252.9,78.55 253.4,78.56 253.9,78.58 254.4,78.6 254.9,78.62 255.4,78.64 255.9,78.65 256.4,78.67 256.9,78.69 257.4,78.7 257.9,78.72 258.4,78.74 258.9,78.75 259.4,78.77 259.9,78.78 260.4,78.8 260.9,78.81 261.4,78.83 261.9,78.84 262.4,78.85 262.9,78.87 263.4,78.88 263.9,78.9 264.4,78.91 264.9,78.93 265.4,78.94 265.9,78.95 266.4,78.97 266.9,78.98 267.4,79 267.9,79.01 268.4,79.03 268.9,79.04 269.4,79.05 269.9,79.07 270.4,79.08 270.9,79.1" fill="none" stroke="#F8766D" stroke-width="1.7" stroke-linejoin="round"/>
<polyline points="50,16 50.4,18.2 52.4,19.6 52.9,19.79 53.4,19.98 53.9,20.17 54.4,20.36 54.9,20.55 55.4,20.75 55.9,20.95 56.4,21.14 56.9,21.34 57.4,21.55 57.9,21.75 58.4,21.95 58.9,22.15 59.4,22.36 59.9,22.56 60.4,22.77 60.9,22.97 61.4,23.17 61.9,23.37 62.4,23.57 62.9,23.77 63.4,23.97 63.9,24.18 64.4,24.38 64.9,24.58 65.4,24.78 65.9,24.99 66.4,25.19 66.9,25.4 67.4,25.61 67.9,25.83 68.4,26.04 68.9,26.26 69.4,26.48 69.9,26.7 70.4,26.92 70.9,27.15 71.4,27.37 71.9,27.59 72.4,27.82 72.9,28.04 73.4,28.27 73.9,28.49 74.4,28.72 74.9,28.95 75.4,29.18 75.9,29.41 76.4,29.64 76.9,29.87 77.4,30.1 77.9,30.34 78.4,30.58 78.9,30.82 79.4,31.06 79.9,31.3 80.4,31.55 80.9,31.79 81.4,32.04 81.9,32.28 82.4,32.53 82.9,32.78 83.4,33.02 83.9,33.27 84.4,33.52 84.9,33.77 85.4,34.02 85.9,34.26 86.4,34.51 86.9,34.76 87.4,35.01 87.9,35.26 88.4,35.51 88.9,35.76 89.4,36.01 89.9,36.26 90.4,36.51 90.9,36.76 91.4,37.01 91.9,37.27 92.4,37.52 92.9,37.77 93.4,38.02 93.9,38.27 94.4,38.53 94.9,38.78 95.4,39.03 95.9,39.28 96.4,39.53 96.9,39.79 97.4,40.04 97.9,40.29 98.4,40.54 98.9,40.79 99.4,41.04 99.9,41.28 100.4,41.53 100.9,41.78 101.4,42.03 101.9,42.27 102.4,42.52 102.9,42.76 103.4,43 103.9,43.24 104.4,43.48 104.9,43.72 105.4,43.96 105.9,44.19 106.4,44.43 106.9,44.66 107.4,44.9 107.9,45.13 108.4,45.37 108.9,45.6 109.4,45.84 109.9,46.08 110.4,46.32 110.9,46.56 111.4,46.81 111.9,47.06 112.4,47.31 112.9,47.56 113.4,47.82 113.9,48.08 114.4,48.34 114.9,48.6 115.4,48.85 115.9,49.12 116.4,49.38 116.9,49.63 117.4,49.89 117.9,50.15 118.4,50.41 118.9,50.66 119.4,50.91 119.9,51.16 120.4,51.4 120.9,51.63 121.4,51.87 121.9,52.09 122.4,52.31 122.9,52.52 123.4,52.73 123.9,52.93 124.4,53.12 124.9,53.32 125.4,53.51 125.9,53.7 126.4,53.88 126.9,54.07 127.4,54.25 127.9,54.44 128.4,54.62 128.9,54.8 129.4,54.98 129.9,55.16 130.4,55.34 130.9,55.52 131.4,55.69 131.9,55.87 132.4,56.04 132.9,56.2 133.4,56.37 133.9,56.53 134.4,56.69 134.9,56.85 135.4,57.01 135.9,57.16 136.4,57.32 136.9,57.47 137.4,57.62 137.9,57.77 138.4,57.93 138.9,58.08 139.4,58.23 139.9,58.38 140.4,58.53 140.9,58.68 141.4,58.83 141.9,58.98 142.4,59.13 142.9,59.28 143.4,59.43 143.9,59.58 144.4,59.73 144.9,59.88 145.4,60.03 145.9,60.17 146.4,60.32 146.9,60.47 147.4,60.61 147.9,60.76 148.4,60.91 148.9,61.06 149.4,61.2 149.9,61.35 150.4,61.5 150.9,61.64 151.4,61.79 151.9,61.94 152.4,62.09 152.9,62.24 153.4,62.39 153.9,62.53 154.4,62.68 154.9,62.84 155.4,62.99 155.9,63.14 156.4,63.29 156.9,63.44 157.4,63.59 157.9,63.74 158.4,63.89 158.9,64.03 159.4,64.18 159.9,64.32 160.4,64.46 160.9,64.6 161.4,64.73 161.9,64.86 162.4,65 162.9,65.12 163.4,65.25 163.9,65.38 164.4,65.5 164.9,65.63 165.4,65.75 165.9,65.87 166.4,65.98 166.9,66.1 167.4,66.22 167.9,66.33 168.4,66.44 168.9,66.56 169.4,66.67 169.9,66.78 170.4,66.89 170.9,67 171.4,67.11 171.9,67.22 172.4,67.33 172.9,67.44 173.4,67.55 173.9,67.65 174.4,67.76 174.9,67.87 175.4,67.97 175.9,68.07 176.4,68.18 176.9,68.27 177.4,68.37 177.9,68.47 178.4,68.56 178.9,68.65 179.4,68.74 179.9,68.83 180.4,68.92 180.9,69.01 181.4,69.1 181.9,69.19 182.4,69.28 182.9,69.36 183.4,69.45 183.9,69.53 184.4,69.62 184.9,69.7 185.4,69.79 185.9,69.87 186.4,69.95 186.9,70.03 187.4,70.11 187.9,70.18 188.4,70.26 188.9,70.33 189.4,70.4 189.9,70.47 190.4,70.54 190.9,70.61 191.4,70.67 191.9,70.74 192.4,70.8 192.9,70.87 193.4,70.93 193.9,71 194.4,71.06 194.9,71.13 195.4,71.19 195.9,71.25 196.4,71.32 196.9,71.38 197.4,71.45 197.9,71.52 198.4,71.58 198.9,71.65 199.4,71.72 199.9,71.78 200.4,71.85 200.9,71.92 201.4,71.99 201.9,72.06 202.4,72.12 202.9,72.19 203.4,72.26 203.9,72.33 204.4,72.4 204.9,72.47 205.4,72.54 205.9,72.61 206.4,72.68 206.9,72.75 207.4,72.82 207.9,72.89 208.4,72.96 208.9,73.03 209.4,73.1 209.9,73.18 210.4,73.25 210.9,73.32 211.4,73.4 211.9,73.47 212.4,73.55 212.9,73.63 213.4,73.7 213.9,73.78 214.4,73.86 214.9,73.93 215.4,74.01 215.9,74.09 216.4,74.17 216.9,74.24 217.4,74.32 217.9,74.4 218.4,74.48 218.9,74.55 219.4,74.63 219.9,74.71 220.4,74.79 220.9,74.86 221.4,74.94 221.9,75.02 222.4,75.1 222.9,75.18 223.4,75.26 223.9,75.34 224.4,75.42 224.9,75.5 225.4,75.58 225.9,75.66 226.4,75.74 226.9,75.82 227.4,75.9 227.9,75.98 228.4,76.06 228.9,76.14 229.4,76.22 229.9,76.3 230.4,76.38 230.9,76.45 231.4,76.53 231.9,76.6 232.4,76.68 232.9,76.75 233.4,76.81 233.9,76.88 234.4,76.94 234.9,77 235.4,77.06 235.9,77.12 236.4,77.17 236.9,77.23 237.4,77.28 237.9,77.33 238.4,77.38 238.9,77.43 239.4,77.48 239.9,77.53 240.4,77.59 240.9,77.64 241.4,77.69 241.9,77.74 242.4,77.78 242.9,77.83 243.4,77.88 243.9,77.93 244.4,77.98 244.9,78.02 245.4,78.07 245.9,78.11 246.4,78.15 246.9,78.2 247.4,78.24 247.9,78.28 248.4,78.32 248.9,78.36 249.4,78.4 249.9,78.43 250.4,78.47 250.9,78.51 251.4,78.55 251.9,78.59 252.4,78.63 252.9,78.66 253.4,78.7 253.9,78.74 254.4,78.77 254.9,78.81 255.4,78.84 255.9,78.88 256.4,78.91 256.9,78.94 257.4,78.97 257.9,78.99 258.4,79.02 258.9,79.04 259.4,79.07 259.9,79.09 260.4,79.11 260.9,79.13 261.4,79.15 261.9,79.17 262.4,79.19 262.9,79.2 263.4,79.22 263.9,79.24 264.4,79.26 264.9,79.28 265.4,79.3 265.9,79.31 266.4,79.33 266.9,79.35 267.4,79.37 267.9,79.39 268.4,79.41 268.9,79.42 269.4,79.44 269.9,79.46 270.4,79.48 270.9,79.5" fill="none" stroke="#00BFC4" stroke-width="1.7" stroke-opacity="0.55" stroke-linejoin="round"/>
<polyline points="50,16 50.4,18.2 52.4,19.6 52.9,19.79 53.4,19.98 53.9,20.17 54.4,20.36 54.9,20.55 55.4,20.75 55.9,20.95 56.4,21.14 56.9,21.34 57.4,21.55 57.9,21.75 58.4,21.95 58.9,22.15 59.4,22.36 59.9,22.56 60.4,22.77 60.9,22.97 61.4,23.17 61.9,23.37 62.4,23.57 62.9,23.77 63.4,23.97 63.9,24.18 64.4,24.38 64.9,24.58 65.4,24.78 65.9,24.99 66.4,25.19 66.9,25.4 67.4,25.61 67.9,25.83 68.4,26.04 68.9,26.26 69.4,26.48 69.9,26.7 70.4,26.92 70.9,27.15 71.4,27.37 71.9,27.59 72.4,27.82 72.9,28.04 73.4,28.27 73.9,28.49 74.4,28.72 74.9,28.95 75.4,29.18 75.9,29.41 76.4,29.64 76.9,29.87 77.4,30.1 77.9,30.34 78.4,30.58 78.9,30.82 79.4,31.06 79.9,31.3 80.4,31.55 80.9,31.79 81.4,32.04 81.9,32.28 82.4,32.53 82.9,32.78 83.4,33.02 83.9,33.27 84.4,33.52 84.9,33.77 85.4,34.02 85.9,34.26 86.4,34.51 86.9,34.76 87.4,35.01 87.9,35.26 88.4,35.51 88.9,35.76 89.4,36.01 89.9,36.26 90.4,36.51 90.9,36.76 91.4,37.01 91.9,37.27 92.4,37.52 92.9,37.77 93.4,38.02 93.9,38.27 94.4,38.53 94.9,38.78 95.4,39.03 95.9,39.28 96.4,39.53 96.9,39.79 97.4,40.04 97.9,40.29 98.4,40.54 98.9,40.79 99.4,41.04 99.9,41.28 100.4,41.53 100.9,41.78 101.4,42.03 101.9,42.27 102.4,42.52 102.9,42.76 103.4,43 103.9,43.24 104.4,43.48 104.9,43.72 105.4,43.96 105.9,44.19 106.4,44.43 106.9,44.66 107.4,44.9 107.9,45.13 108.4,45.37 108.9,45.6 109.4,45.84 109.9,46.08 110.4,46.32 110.9,46.56 111.4,46.81 111.9,47.06 112.4,47.31 112.9,47.56 113.4,47.82 113.9,48.08 114.4,48.34 114.9,48.6 115.4,48.85 115.9,49.12 116.4,49.38 116.9,49.63 117.4,49.89 117.9,50.15 118.4,50.41 118.9,50.66 119.4,50.91 119.9,51.16 120.4,51.4 120.9,51.63 121.4,51.87 121.9,52.09 122.4,52.31 122.9,52.52 123.4,52.73 123.9,52.93 124.4,53.12 124.9,53.32 125.4,53.51 125.9,53.7 126.4,53.88 126.9,54.07 127.4,54.25 127.9,54.44 128.4,54.62 128.9,54.8 129.4,54.98 129.9,55.16 130.4,55.34 130.9,55.52 131.4,55.69 131.9,55.87 132.4,56.04 132.9,56.2 133.4,56.37 133.9,56.53 134.4,56.69 134.9,56.85 135.4,57.01 135.9,57.16 136.4,57.32 136.9,57.47 137.4,57.62 137.9,57.77 138.4,57.93 138.9,58.08 139.4,58.23 139.9,58.38 140.4,58.53 140.9,58.68 141.4,58.83 141.9,58.98 142.4,59.13 142.9,59.28 143.4,59.43 143.9,59.58 144.4,59.73 144.9,59.88 145.4,60.03 145.9,60.17 146.4,60.32 146.9,60.47 147.4,60.61 147.9,60.76 148.4,60.91 148.9,61.06 149.4,61.2 149.9,61.35 150.4,61.5 150.9,61.64 151.4,61.79 151.9,61.94 152.4,62.09 152.9,62.24 153.4,62.39 153.9,62.53 154.4,62.68 154.9,62.84 155.4,62.99 155.9,63.14 156.4,63.29 156.9,63.44 157.4,63.59 157.9,63.74 158.4,63.89 158.9,64.03 159.4,64.18 159.9,64.32 160.4,64.46 160.9,64.6 161.4,64.73 161.9,64.86 162.4,65 162.9,65.12 163.4,65.25 163.9,65.38 164.4,65.5 164.9,65.63 165.4,65.75 165.9,65.87 166.4,65.98 166.9,66.1 167.4,66.22 167.9,66.33 168.4,66.44 168.9,66.56 169.4,66.67 169.9,66.78 170.4,66.89 170.9,67 171.4,67.11 171.9,67.22 172.4,67.33 172.9,67.44 173.4,67.55 173.9,67.65 174.4,67.76 174.9,67.87 175.4,67.97 175.9,68.07 176.4,68.18 176.9,68.27 177.4,68.37 177.9,68.47 178.4,68.56 178.9,68.65 179.4,68.74 179.9,68.83 180.4,68.92 180.9,69.01 181.4,69.1 181.9,69.19 182.4,69.28 182.9,69.36 183.4,69.45 183.9,69.53 184.4,69.62 184.9,69.7 185.4,69.79 185.9,69.87 186.4,69.95 186.9,70.03 187.4,70.11 187.9,70.18 188.4,70.26 188.9,70.33 189.4,70.4 189.9,70.47 190.4,70.54 190.9,70.61 191.4,70.67 191.9,70.74 192.4,70.8 192.9,70.87 193.4,70.93 193.9,71 194.4,71.06 194.9,71.13 195.4,71.19 195.9,71.25 196.4,71.32 196.9,71.38 197.4,71.45 197.9,71.52 198.4,71.58 198.9,71.65 199.4,71.72 199.9,71.78 200.4,71.85 200.9,71.92 201.4,71.99 201.9,72.06 202.4,72.12 202.9,72.19 203.4,72.26 203.9,72.33 204.4,72.4 204.9,72.47 205.4,72.54 205.9,72.61 206.4,72.68 206.9,72.75 207.4,72.82 207.9,72.89 208.4,72.96 208.9,73.03 209.4,73.1 209.9,73.18 210.4,73.25 210.9,73.32 211.4,73.4 211.9,73.47 212.4,73.55 212.9,73.63 213.4,73.7 213.9,73.78 214.4,73.86 214.9,73.93 215.4,74.01 215.9,74.09 216.4,74.17 216.9,74.24 217.4,74.32 217.9,74.4 218.4,74.48 218.9,74.55 219.4,74.63 219.9,74.71 220.4,74.79 220.9,74.86 221.4,74.94 221.9,75.02 222.4,75.1 222.9,75.18 223.4,75.26 223.9,75.34 224.4,75.42 224.9,75.5 225.4,75.58 225.9,75.66 226.4,75.74 226.9,75.82 227.4,75.9 227.9,75.98 228.4,76.06 228.9,76.14 229.4,76.22 229.9,76.3 230.4,76.38 230.9,76.45 231.4,76.53 231.9,76.6 232.4,76.68 232.9,76.75 233.4,76.81 233.9,76.88 234.4,76.94 234.9,77 235.4,77.06 235.9,77.12 236.4,77.17 236.9,77.23 237.4,77.28 237.9,77.33 238.4,77.38 238.9,77.43 239.4,77.48 239.9,77.53 240.4,77.59 240.9,77.64 241.4,77.69 241.9,77.74 242.4,77.78 242.9,77.83 243.4,77.88 243.9,77.93 244.4,77.98 244.9,78.02 245.4,78.07 245.9,78.11 246.4,78.15 246.9,78.2 247.4,78.24 247.9,78.28 248.4,78.32 248.9,78.36 249.4,78.4 249.9,78.43 250.4,78.47 250.9,78.51 251.4,78.55 251.9,78.59 252.4,78.63 252.9,78.66 253.4,78.7 253.9,78.74 254.4,78.77 254.9,78.81 255.4,78.84 255.9,78.88 256.4,78.91 256.9,78.94 257.4,78.97 257.9,78.99 258.4,79.02 258.9,79.04 259.4,79.07 259.9,79.09 260.4,79.11 260.9,79.13 261.4,79.15 261.9,79.17 262.4,79.19 262.9,79.2 263.4,79.22 263.9,79.24 264.4,79.26 264.9,79.28 265.4,79.3 265.9,79.31 266.4,79.33 266.9,79.35 267.4,79.37 267.9,79.39 268.4,79.41 268.9,79.42 269.4,79.44 269.9,79.46 270.4,79.48 270.9,79.5" fill="none" stroke="#00B6BA" stroke-width="1.6" stroke-dasharray="1.6 1.6" stroke-linejoin="round"/>
<rect x="206.6" y="24.6" width="40" height="22" fill="#fff"/>
<text transform="translate(209,30.7) scale(0.1007,0.1)" font-size="48" fill="#222">Tumor location</text>
<rect x="208.6" y="33.6" width="7.1" height="5.9" fill="#F8766D" fill-opacity="0.3"/>
<line x1="208.9" x2="215.4" y1="36.55" y2="36.55" stroke="#F8766D" stroke-width="1.2"/>
<rect x="208.6" y="39.9" width="7.1" height="5.9" fill="#00BFC4" fill-opacity="0.3"/>
<line x1="208.9" x2="215.4" y1="42.85" y2="42.85" stroke="#00B6BA" stroke-width="1.2" stroke-dasharray="1.5 1"/>
<text transform="translate(219,37.9) scale(0.0915,0.1)" font-size="37" fill="#222">Caecum</text>
<text transform="translate(219,44.2) scale(0.1053,0.1)" font-size="39" fill="#222">Sigmoid colon</text>
<rect x="56" y="108" width="28" height="9" fill="#fff"/>
<text transform="translate(56.8,115.2) scale(0.1085,0.1)" font-size="59" fill="#222" class="p">p = 0.011</text>
<rect x="39.5" y="10.2" width="234.3" height="132.9" class="bd"/>
<line x1="38" x2="39.5" y1="16" y2="16" class="tk"/>
<text transform="translate(31.86,17.3) scale(0.1,0.1)" font-size="37" fill="#444">1.0</text>
<line x1="38" x2="39.5" y1="40.25" y2="40.25" class="tk"/>
<text transform="translate(31.86,41.55) scale(0.1,0.1)" font-size="37" fill="#444">0.9</text>
<line x1="38" x2="39.5" y1="64.5" y2="64.5" class="tk"/>
<text transform="translate(31.86,65.8) scale(0.1,0.1)" font-size="37" fill="#444">0.8</text>
<line x1="38" x2="39.5" y1="88.75" y2="88.75" class="tk"/>
<text transform="translate(31.86,90.05) scale(0.1,0.1)" font-size="37" fill="#444">0.7</text>
<line x1="38" x2="39.5" y1="113" y2="113" class="tk"/>
<text transform="translate(31.86,114.3) scale(0.1,0.1)" font-size="37" fill="#444">0.6</text>
<line x1="38" x2="39.5" y1="137.25" y2="137.25" class="tk"/>
<text transform="translate(31.86,138.55) scale(0.1,0.1)" font-size="37" fill="#444">0.5</text>
<line x1="50" x2="50" y1="143" y2="144.4" class="tk"/>
<text transform="translate(48.97,147.7) scale(0.1,0.1)" font-size="37" fill="#444">0</text>
<line x1="135.3" x2="135.3" y1="143" y2="144.4" class="tk"/>
<text transform="translate(134.27,147.7) scale(0.1,0.1)" font-size="37" fill="#444">5</text>
<line x1="220.6" x2="220.6" y1="143" y2="144.4" class="tk"/>
<text transform="translate(218.54,147.7) scale(0.1,0.1)" font-size="37" fill="#444">10</text>
<text transform="translate(144.4,152.3) scale(0.1044,0.1)" font-size="47" fill="#222">Time (year)</text>
<text transform="translate(8.9,77.1) rotate(-90) translate(-21.5,0) scale(0.1)" font-size="47" fill="#222" style="letter-spacing:-2.88px">Cancer-specific survival</text>
<text transform="translate(39.8,160.9) scale(0.1049,0.1)" font-size="56" fill="#1a1a1a">Number at risk</text>
<line x1="92.65" x2="92.65" y1="163.8" y2="194.4" class="gm"/>
<line x1="177.95" x2="177.95" y1="163.8" y2="194.4" class="gm"/>
<line x1="263.25" x2="263.25" y1="163.8" y2="194.4" class="gm"/>
<line x1="50" x2="50" y1="163.8" y2="194.4" class="gM"/>
<line x1="135.3" x2="135.3" y1="163.8" y2="194.4" class="gM"/>
<line x1="220.6" x2="220.6" y1="163.8" y2="194.4" class="gM"/>
<line x1="39.5" x2="273.8" y1="172.4" y2="172.4" class="gM"/>
<line x1="39.5" x2="273.8" y1="186.4" y2="186.4" class="gM"/>
<text transform="translate(43.6,174.4) scale(0.0913,0.1)" font-size="63" fill="#F8766D">9926</text>
<text transform="translate(128.75,174.4) scale(0.0935,0.1)" font-size="63" fill="#F8766D">6909</text>
<text transform="translate(214.05,174.4) scale(0.0935,0.1)" font-size="63" fill="#F8766D">2645</text>
<text transform="translate(43.6,188.4) scale(0.0913,0.1)" font-size="63" fill="#00BFC4">9926</text>
<text transform="translate(129.05,188.4) scale(0.0923,0.1)" font-size="63" fill="#00BFC4">7311</text>
<text transform="translate(214.05,188.4) scale(0.0935,0.1)" font-size="63" fill="#00BFC4">2633</text>
<rect x="39.5" y="163.8" width="234.3" height="30.6" class="bd"/>
<line x1="38" x2="39.5" y1="172.4" y2="172.4" class="tk"/>
<line x1="38" x2="39.5" y1="186.4" y2="186.4" class="tk"/>
<text transform="translate(24.4,173.8) scale(0.0936,0.1)" font-size="35" fill="#F8766D">Caecum</text>
<text transform="translate(11.8,187.8) scale(0.1097,0.1)" font-size="36" fill="#00BFC4">Sigmoid colon</text>
<line x1="50" x2="50" y1="194.5" y2="195.9" class="tk"/>
<text transform="translate(48.97,199) scale(0.1,0.1)" font-size="37" fill="#444">0</text>
<line x1="135.3" x2="135.3" y1="194.5" y2="195.9" class="tk"/>
<text transform="translate(134.27,199) scale(0.1,0.1)" font-size="37" fill="#444">5</text>
<line x1="220.6" x2="220.6" y1="194.5" y2="195.9" class="tk"/>
<text transform="translate(218.54,199) scale(0.1,0.1)" font-size="37" fill="#444">10</text>
<text transform="translate(144.5,203.6) scale(0.104,0.1)" font-size="47" fill="#222">Time (year)</text>
<text transform="translate(9.1,179.1) rotate(-90) translate(-13.3,0) scale(0.1)" font-size="47" fill="#222" style="letter-spacing:-3.32px">Tumor location</text>
</g>
<g transform="translate(272.8,0)">
<text transform="translate(16.3,11) scale(0.1,0.1)" font-size="90" fill="#000" class="k">B</text>
<text transform="translate(39.8,7) scale(0.1)" font-size="58" fill="#1a1a1a">2004<tspan dx="7">-</tspan><tspan dx="7">2009</tspan></text>
<line x1="39.5" x2="273.8" y1="28.13" y2="28.13" class="gm"/>
<line x1="39.5" x2="273.8" y1="52.38" y2="52.38" class="gm"/>
<line x1="39.5" x2="273.8" y1="76.62" y2="76.62" class="gm"/>
<line x1="39.5" x2="273.8" y1="100.88" y2="100.88" class="gm"/>
<line x1="39.5" x2="273.8" y1="125.12" y2="125.12" class="gm"/>
<line x1="92.65" x2="92.65" y1="10.2" y2="143.1" class="gm"/>
<line x1="177.95" x2="177.95" y1="10.2" y2="143.1" class="gm"/>
<line x1="263.25" x2="263.25" y1="10.2" y2="143.1" class="gm"/>
<line x1="39.5" x2="273.8" y1="16" y2="16" class="gM"/>
<line x1="39.5" x2="273.8" y1="40.25" y2="40.25" class="gM"/>
<line x1="39.5" x2="273.8" y1="64.5" y2="64.5" class="gM"/>
<line x1="39.5" x2="273.8" y1="88.75" y2="88.75" class="gM"/>
<line x1="39.5" x2="273.8" y1="113" y2="113" class="gM"/>
<line x1="39.5" x2="273.8" y1="137.25" y2="137.25" class="gM"/>
<line x1="50" x2="50" y1="10.2" y2="143.1" class="gM"/>
<line x1="135.3" x2="135.3" y1="10.2" y2="143.1" class="gM"/>
<line x1="220.6" x2="220.6" y1="10.2" y2="143.1" class="gM"/>
<polygon points="50.1,15.8 50.2,18.77 51.6,20.83 52.1,21.37 52.6,21.9 53.1,22.43 53.6,22.94 54.1,23.43 54.6,23.9 55.1,24.36 55.6,24.79 56.1,25.2 56.6,25.6 57.1,25.98 57.6,26.35 58.1,26.71 58.6,27.07 59.1,27.42 59.6,27.77 60.1,28.12 60.6,28.47 61.1,28.83 61.6,29.19 62.1,29.55 62.6,29.92 63.1,30.3 63.6,30.69 64.1,31.08 64.6,31.48 65.1,31.88 65.6,32.29 66.1,32.7 66.6,33.12 67.1,33.55 67.6,33.98 68.1,34.41 68.6,34.85 69.1,35.29 69.6,35.73 70.1,36.18 70.6,36.62 71.1,37.07 71.6,37.51 72.1,37.95 72.6,38.4 73.1,38.84 73.6,39.27 74.1,39.71 74.6,40.14 75.1,40.57 75.6,41 76.1,41.43 76.6,41.86 77.1,42.28 77.6,42.71 78.1,43.13 78.6,43.56 79.1,43.98 79.6,44.4 80.1,44.82 80.6,45.23 81.1,45.64 81.6,46.04 82.1,46.44 82.6,46.84 83.1,47.22 83.6,47.61 84.1,47.98 84.6,48.36 85.1,48.73 85.6,49.1 86.1,49.46 86.6,49.83 87.1,50.19 87.6,50.55 88.1,50.92 88.6,51.28 89.1,51.64 89.6,52.01 90.1,52.37 90.6,52.74 91.1,53.1 91.6,53.47 92.1,53.83 92.6,54.2 93.1,54.57 93.6,54.94 94.1,55.31 94.6,55.69 95.1,56.06 95.6,56.44 96.1,56.83 96.6,57.22 97.1,57.61 97.6,58 98.1,58.4 98.6,58.8 99.1,59.2 99.6,59.6 100.1,60.01 100.6,60.41 101.1,60.8 101.6,61.19 102.1,61.58 102.6,61.96 103.1,62.34 103.6,62.7 104.1,63.06 104.6,63.41 105.1,63.76 105.6,64.1 106.1,64.43 106.6,64.76 107.1,65.08 107.6,65.41 108.1,65.73 108.6,66.05 109.1,66.37 109.6,66.69 110.1,67 110.6,67.32 111.1,67.64 111.6,67.96 112.1,68.28 112.6,68.6 113.1,68.93 113.6,69.25 114.1,69.58 114.6,69.9 115.1,70.23 115.6,70.55 116.1,70.88 116.6,71.19 117.1,71.51 117.6,71.82 118.1,72.13 118.6,72.43 119.1,72.73 119.6,73.03 120.1,73.33 120.6,73.62 121.1,73.91 121.6,74.2 122.1,74.49 122.6,74.77 123.1,75.06 123.6,75.35 124.1,75.63 124.6,75.91 125.1,76.19 125.6,76.47 126.1,76.75 126.6,77.03 127.1,77.3 127.6,77.57 128.1,77.83 128.6,78.09 129.1,78.34 129.6,78.6 130.1,78.84 130.6,79.09 131.1,79.33 131.6,79.57 132.1,79.81 132.6,80.05 133.1,80.29 133.6,80.53 134.1,80.76 134.6,81 135.1,81.23 135.6,81.47 136.1,81.7 136.6,81.93 137.1,82.16 137.6,82.38 138.1,82.61 138.6,82.83 139.1,83.05 139.6,83.26 140.1,83.47 140.6,83.68 141.1,83.88 141.6,84.08 142.1,84.29 142.6,84.48 143.1,84.68 143.6,84.88 144.1,85.08 144.6,85.27 145.1,85.47 145.6,85.66 146.1,85.86 146.6,86.06 147.1,86.25 147.6,86.45 148.1,86.65 148.6,86.85 149.1,87.05 149.6,87.24 150.1,87.44 150.6,87.65 151.1,87.85 151.6,88.05 152.1,88.25 152.6,88.46 153.1,88.66 153.6,88.86 154.1,89.07 154.6,89.27 155.1,89.48 155.6,89.68 156.1,89.89 156.6,90.1 157.1,90.3 157.6,90.51 158.1,90.72 158.6,90.93 159.1,91.15 159.6,91.36 160.1,91.58 160.6,91.8 161.1,92.03 161.6,92.26 162.1,92.49 162.6,92.72 163.1,92.96 163.6,93.19 164.1,93.43 164.6,93.67 165.1,93.92 165.6,94.16 166.1,94.4 166.6,94.65 167.1,94.89 167.6,95.13 168.1,95.37 168.6,95.61 169.1,95.85 169.6,96.08 170.1,96.31 170.6,96.54 171.1,96.76 171.6,96.98 172.1,97.19 172.6,97.4 173.1,97.59 173.6,97.79 174.1,97.98 174.6,98.16 175.1,98.34 175.6,98.51 176.1,98.69 176.6,98.86 177.1,99.03 177.6,99.2 178.1,99.37 178.6,99.54 179.1,99.71 179.6,99.87 180.1,100.04 180.6,100.21 181.1,100.37 181.6,100.53 182.1,100.7 182.6,100.86 183.1,101.01 183.6,101.17 184.1,101.33 184.6,101.48 185.1,101.63 185.6,101.78 186.1,101.93 186.6,102.08 187.1,102.22 187.6,102.37 188.1,102.52 188.6,102.67 189.1,102.81 189.6,102.96 190.1,103.11 190.6,103.25 191.1,103.4 191.6,103.55 192.1,103.7 192.6,103.85 193.1,104.01 193.6,104.16 194.1,104.32 194.6,104.48 195.1,104.64 195.6,104.8 196.1,104.96 196.6,105.13 197.1,105.3 197.6,105.46 198.1,105.63 198.6,105.8 199.1,105.97 199.6,106.13 200.1,106.3 200.6,106.47 201.1,106.64 201.6,106.81 202.1,106.97 202.6,107.14 203.1,107.3 203.6,107.47 204.1,107.63 204.6,107.79 205.1,107.94 205.6,108.1 206.1,108.26 206.6,108.41 207.1,108.56 207.6,108.71 208.1,108.86 208.6,109.01 209.1,109.15 209.6,109.3 210.1,109.45 210.6,109.59 211.1,109.74 211.6,109.89 212.1,110.04 212.6,110.18 213.1,110.33 213.6,110.48 214.1,110.63 214.6,110.78 215.1,110.93 215.6,111.08 216.1,111.24 216.6,111.39 217.1,111.55 217.6,111.7 218.1,111.86 218.6,112.02 219.1,112.18 219.6,112.33 220.1,112.49 220.6,112.65 221.1,112.81 221.6,112.97 222.1,113.13 222.6,113.29 223.1,113.45 223.6,113.62 224.1,113.78 224.6,113.94 225.1,114.1 225.6,114.26 226.1,114.42 226.6,114.58 227.1,114.75 227.6,114.91 228.1,115.07 228.6,115.23 229.1,115.39 229.6,115.55 230.1,115.71 230.6,115.86 231.1,116.01 231.6,116.16 232.1,116.31 232.6,116.46 233.1,116.6 233.6,116.74 234.1,116.87 234.6,117.01 235.1,117.14 235.6,117.27 236.1,117.4 236.6,117.53 237.1,117.66 237.6,117.79 238.1,117.92 238.6,118.05 239.1,118.19 239.6,118.32 240.1,118.46 240.6,118.6 241.1,118.75 241.6,118.9 242.1,119.05 242.6,119.21 243.1,119.37 243.6,119.53 244.1,119.7 244.6,119.87 245.1,120.04 245.6,120.21 246.1,120.39 246.6,120.56 247.1,120.74 247.6,120.91 248.1,121.08 248.6,121.26 249.1,121.43 249.6,121.59 250.1,121.76 250.6,121.92 251.1,122.08 251.6,122.23 252.1,122.38 252.6,122.52 253.1,122.66 253.6,122.8 254.1,122.93 254.6,123.07 255.1,123.19 255.6,123.32 256.1,123.44 256.6,123.57 257.1,123.69 257.6,123.81 258.1,123.93 258.6,124.04 259.1,124.16 259.6,124.27 260.1,124.37 260.6,124.47 261.1,124.57 261.6,124.66 262.1,124.74 262.6,124.82 263.1,124.89 263.6,124.96 264.1,125.02 264.6,125.08 265.1,125.14 265.6,125.2 266.1,125.25 266.6,125.31 267.1,125.36 267.6,125.42 268.1,125.47 268.6,125.52 269.1,125.57 269.6,125.62 270.1,125.68 270.1,133.28 269.6,133.22 269.1,133.15 268.6,133.09 268.1,133.03 267.6,132.97 267.1,132.91 266.6,132.85 266.1,132.78 265.6,132.72 265.1,132.65 264.6,132.58 264.1,132.51 263.6,132.44 263.1,132.36 262.6,132.28 262.1,132.19 261.6,132.1 261.1,132 260.6,131.9 260.1,131.79 259.6,131.68 259.1,131.56 258.6,131.43 258.1,131.31 257.6,131.18 257.1,131.05 256.6,130.92 256.1,130.79 255.6,130.66 255.1,130.52 254.6,130.38 254.1,130.24 253.6,130.1 253.1,129.95 252.6,129.8 252.1,129.65 251.6,129.49 251.1,129.33 250.6,129.16 250.1,128.99 249.6,128.82 249.1,128.64 248.6,128.46 248.1,128.28 247.6,128.1 247.1,127.91 246.6,127.73 246.1,127.55 245.6,127.36 245.1,127.18 244.6,127 244.1,126.82 243.6,126.64 243.1,126.47 242.6,126.3 242.1,126.13 241.6,125.97 241.1,125.81 240.6,125.66 240.1,125.51 239.6,125.36 239.1,125.21 238.6,125.07 238.1,124.93 237.6,124.79 237.1,124.65 236.6,124.51 236.1,124.37 235.6,124.23 235.1,124.09 234.6,123.95 234.1,123.8 233.6,123.66 233.1,123.51 232.6,123.36 232.1,123.2 231.6,123.04 231.1,122.89 230.6,122.72 230.1,122.56 229.6,122.39 229.1,122.22 228.6,122.05 228.1,121.88 227.6,121.71 227.1,121.54 226.6,121.37 226.1,121.19 225.6,121.02 225.1,120.85 224.6,120.68 224.1,120.51 223.6,120.34 223.1,120.17 222.6,120 222.1,119.83 221.6,119.66 221.1,119.49 220.6,119.32 220.1,119.15 219.6,118.98 219.1,118.81 218.6,118.64 218.1,118.47 217.6,118.31 217.1,118.14 216.6,117.97 216.1,117.81 215.6,117.65 215.1,117.48 214.6,117.32 214.1,117.16 213.6,117 213.1,116.84 212.6,116.69 212.1,116.53 211.6,116.37 211.1,116.21 210.6,116.06 210.1,115.9 209.6,115.74 209.1,115.59 208.6,115.43 208.1,115.27 207.6,115.11 207.1,114.95 206.6,114.79 206.1,114.63 205.6,114.46 205.1,114.29 204.6,114.13 204.1,113.96 203.6,113.78 203.1,113.61 202.6,113.44 202.1,113.26 201.6,113.08 201.1,112.91 200.6,112.73 200.1,112.55 199.6,112.37 199.1,112.19 198.6,112.01 198.1,111.83 197.6,111.65 197.1,111.48 196.6,111.3 196.1,111.12 195.6,110.95 195.1,110.78 194.6,110.61 194.1,110.44 193.6,110.27 193.1,110.1 192.6,109.94 192.1,109.78 191.6,109.62 191.1,109.46 190.6,109.3 190.1,109.14 189.6,108.98 189.1,108.82 188.6,108.67 188.1,108.51 187.6,108.35 187.1,108.19 186.6,108.03 186.1,107.87 185.6,107.71 185.1,107.55 184.6,107.39 184.1,107.23 183.6,107.06 183.1,106.89 182.6,106.73 182.1,106.55 181.6,106.38 181.1,106.21 180.6,106.03 180.1,105.85 179.6,105.68 179.1,105.5 178.6,105.32 178.1,105.14 177.6,104.96 177.1,104.78 176.6,104.6 176.1,104.41 175.6,104.23 175.1,104.04 174.6,103.85 174.1,103.65 173.6,103.45 173.1,103.25 172.6,103.04 172.1,102.82 171.6,102.6 171.1,102.37 170.6,102.14 170.1,101.9 169.6,101.66 169.1,101.41 168.6,101.16 168.1,100.91 167.6,100.66 167.1,100.41 166.6,100.15 166.1,99.9 165.6,99.64 165.1,99.39 164.6,99.14 164.1,98.88 163.6,98.63 163.1,98.38 162.6,98.13 162.1,97.89 161.6,97.65 161.1,97.41 160.6,97.17 160.1,96.93 159.6,96.7 159.1,96.48 158.6,96.25 158.1,96.03 157.6,95.81 157.1,95.59 156.6,95.37 156.1,95.15 155.6,94.93 155.1,94.71 154.6,94.5 154.1,94.28 153.6,94.06 153.1,93.85 152.6,93.63 152.1,93.41 151.6,93.2 151.1,92.98 150.6,92.77 150.1,92.56 149.6,92.34 149.1,92.13 148.6,91.92 148.1,91.71 147.6,91.5 147.1,91.29 146.6,91.08 146.1,90.87 145.6,90.66 145.1,90.46 144.6,90.25 144.1,90.04 143.6,89.83 143.1,89.62 142.6,89.41 142.1,89.2 141.6,88.98 141.1,88.77 140.6,88.55 140.1,88.33 139.6,88.11 139.1,87.88 138.6,87.65 138.1,87.42 137.6,87.18 137.1,86.94 136.6,86.7 136.1,86.46 135.6,86.21 135.1,85.96 134.6,85.72 134.1,85.47 133.6,85.22 133.1,84.97 132.6,84.72 132.1,84.46 131.6,84.21 131.1,83.96 130.6,83.7 130.1,83.44 129.6,83.18 129.1,82.91 128.6,82.64 128.1,82.37 127.6,82.09 127.1,81.81 126.6,81.53 126.1,81.24 125.6,80.95 125.1,80.66 124.6,80.36 124.1,80.06 123.6,79.76 123.1,79.46 122.6,79.16 122.1,78.86 121.6,78.56 121.1,78.26 120.6,77.95 120.1,77.65 119.6,77.34 119.1,77.03 118.6,76.71 118.1,76.39 117.6,76.07 117.1,75.74 116.6,75.41 116.1,75.08 115.6,74.74 115.1,74.41 114.6,74.07 114.1,73.73 113.6,73.38 113.1,73.04 112.6,72.71 112.1,72.37 111.6,72.03 111.1,71.7 110.6,71.36 110.1,71.03 109.6,70.7 109.1,70.36 108.6,70.03 108.1,69.7 107.6,69.36 107.1,69.02 106.6,68.68 106.1,68.33 105.6,67.98 105.1,67.63 104.6,67.27 104.1,66.9 103.6,66.53 103.1,66.14 102.6,65.76 102.1,65.36 101.6,64.96 101.1,64.55 100.6,64.14 100.1,63.72 99.6,63.3 99.1,62.88 98.6,62.46 98.1,62.05 97.6,61.63 97.1,61.22 96.6,60.81 96.1,60.41 95.6,60.01 95.1,59.61 94.6,59.22 94.1,58.82 93.6,58.44 93.1,58.05 92.6,57.66 92.1,57.28 91.6,56.89 91.1,56.51 90.6,56.13 90.1,55.74 89.6,55.36 89.1,54.98 88.6,54.6 88.1,54.22 87.6,53.84 87.1,53.46 86.6,53.07 86.1,52.69 85.6,52.31 85.1,51.92 84.6,51.53 84.1,51.14 83.6,50.74 83.1,50.34 82.6,49.93 82.1,49.52 81.6,49.1 81.1,48.68 80.6,48.25 80.1,47.81 79.6,47.38 79.1,46.94 78.6,46.49 78.1,46.05 77.6,45.6 77.1,45.16 76.6,44.71 76.1,44.26 75.6,43.81 75.1,43.36 74.6,42.91 74.1,42.45 73.6,42 73.1,41.54 72.6,41.08 72.1,40.61 71.6,40.15 71.1,39.68 70.6,39.21 70.1,38.74 69.6,38.27 69.1,37.81 68.6,37.34 68.1,36.88 67.6,36.42 67.1,35.97 66.6,35.52 66.1,35.07 65.6,34.63 65.1,34.2 64.6,33.77 64.1,33.34 63.6,32.92 63.1,32.51 62.6,32.11 62.1,31.71 61.6,31.31 61.1,30.92 60.6,30.53 60.1,30.15 59.6,29.77 59.1,29.39 58.6,29 58.1,28.62 57.6,28.22 57.1,27.81 56.6,27.4 56.1,26.96 55.6,26.51 55.1,26.04 54.6,25.54 54.1,25.03 53.6,24.49 53.1,23.93 52.6,23.35 52.1,22.76 51.6,22.17 50.2,19.83 50.1,16.8" fill="#F8766D" fill-opacity="0.28"/>
<polygon points="50.1,15.3 50.2,18.77 51.6,20.83 52.1,21.36 52.6,21.89 53.1,22.4 53.6,22.89 54.1,23.37 54.6,23.81 55.1,24.23 55.6,24.63 56.1,24.99 56.6,25.33 57.1,25.65 57.6,25.95 58.1,26.24 58.6,26.51 59.1,26.77 59.6,27.02 60.1,27.26 60.6,27.5 61.1,27.74 61.6,27.98 62.1,28.22 62.6,28.46 63.1,28.7 63.6,28.94 64.1,29.19 64.6,29.44 65.1,29.7 65.6,29.96 66.1,30.23 66.6,30.5 67.1,30.77 67.6,31.05 68.1,31.33 68.6,31.61 69.1,31.9 69.6,32.18 70.1,32.47 70.6,32.76 71.1,33.06 71.6,33.35 72.1,33.65 72.6,33.94 73.1,34.24 73.6,34.54 74.1,34.85 74.6,35.15 75.1,35.46 75.6,35.77 76.1,36.08 76.6,36.39 77.1,36.71 77.6,37.02 78.1,37.34 78.6,37.65 79.1,37.97 79.6,38.28 80.1,38.59 80.6,38.9 81.1,39.22 81.6,39.53 82.1,39.84 82.6,40.15 83.1,40.47 83.6,40.79 84.1,41.1 84.6,41.42 85.1,41.74 85.6,42.07 86.1,42.39 86.6,42.72 87.1,43.05 87.6,43.38 88.1,43.71 88.6,44.04 89.1,44.37 89.6,44.71 90.1,45.04 90.6,45.38 91.1,45.71 91.6,46.05 92.1,46.39 92.6,46.73 93.1,47.07 93.6,47.42 94.1,47.77 94.6,48.12 95.1,48.47 95.6,48.84 96.1,49.2 96.6,49.57 97.1,49.95 97.6,50.34 98.1,50.73 98.6,51.12 99.1,51.52 99.6,51.92 100.1,52.32 100.6,52.72 101.1,53.12 101.6,53.51 102.1,53.9 102.6,54.29 103.1,54.67 103.6,55.05 104.1,55.42 104.6,55.78 105.1,56.14 105.6,56.5 106.1,56.85 106.6,57.2 107.1,57.54 107.6,57.89 108.1,58.23 108.6,58.56 109.1,58.9 109.6,59.24 110.1,59.57 110.6,59.91 111.1,60.25 111.6,60.58 112.1,60.92 112.6,61.25 113.1,61.58 113.6,61.92 114.1,62.25 114.6,62.58 115.1,62.91 115.6,63.23 116.1,63.55 116.6,63.86 117.1,64.17 117.6,64.48 118.1,64.77 118.6,65.07 119.1,65.35 119.6,65.64 120.1,65.91 120.6,66.19 121.1,66.46 121.6,66.74 122.1,67.01 122.6,67.27 123.1,67.54 123.6,67.81 124.1,68.08 124.6,68.35 125.1,68.61 125.6,68.88 126.1,69.14 126.6,69.4 127.1,69.66 127.6,69.92 128.1,70.17 128.6,70.43 129.1,70.68 129.6,70.93 130.1,71.18 130.6,71.42 131.1,71.67 131.6,71.91 132.1,72.15 132.6,72.4 133.1,72.64 133.6,72.88 134.1,73.12 134.6,73.36 135.1,73.6 135.6,73.84 136.1,74.09 136.6,74.33 137.1,74.57 137.6,74.81 138.1,75.06 138.6,75.3 139.1,75.54 139.6,75.79 140.1,76.03 140.6,76.27 141.1,76.52 141.6,76.76 142.1,77.01 142.6,77.26 143.1,77.5 143.6,77.75 144.1,77.99 144.6,78.24 145.1,78.48 145.6,78.73 146.1,78.97 146.6,79.21 147.1,79.45 147.6,79.69 148.1,79.93 148.6,80.16 149.1,80.39 149.6,80.62 150.1,80.84 150.6,81.06 151.1,81.28 151.6,81.49 152.1,81.7 152.6,81.91 153.1,82.12 153.6,82.32 154.1,82.52 154.6,82.73 155.1,82.93 155.6,83.13 156.1,83.33 156.6,83.54 157.1,83.74 157.6,83.95 158.1,84.16 158.6,84.37 159.1,84.58 159.6,84.8 160.1,85.03 160.6,85.26 161.1,85.5 161.6,85.74 162.1,85.98 162.6,86.24 163.1,86.49 163.6,86.75 164.1,87.01 164.6,87.28 165.1,87.55 165.6,87.81 166.1,88.08 166.6,88.35 167.1,88.62 167.6,88.89 168.1,89.15 168.6,89.42 169.1,89.68 169.6,89.94 170.1,90.19 170.6,90.44 171.1,90.68 171.6,90.91 172.1,91.14 172.6,91.35 173.1,91.56 173.6,91.76 174.1,91.96 174.6,92.15 175.1,92.33 175.6,92.51 176.1,92.69 176.6,92.86 177.1,93.03 177.6,93.2 178.1,93.37 178.6,93.54 179.1,93.71 179.6,93.88 180.1,94.05 180.6,94.23 181.1,94.4 181.6,94.58 182.1,94.75 182.6,94.93 183.1,95.11 183.6,95.3 184.1,95.48 184.6,95.67 185.1,95.86 185.6,96.05 186.1,96.25 186.6,96.44 187.1,96.63 187.6,96.83 188.1,97.02 188.6,97.22 189.1,97.42 189.6,97.61 190.1,97.81 190.6,98.01 191.1,98.2 191.6,98.4 192.1,98.59 192.6,98.79 193.1,98.98 193.6,99.18 194.1,99.37 194.6,99.57 195.1,99.76 195.6,99.95 196.1,100.15 196.6,100.34 197.1,100.53 197.6,100.72 198.1,100.92 198.6,101.11 199.1,101.3 199.6,101.49 200.1,101.68 200.6,101.87 201.1,102.06 201.6,102.26 202.1,102.44 202.6,102.63 203.1,102.82 203.6,103.01 204.1,103.19 204.6,103.37 205.1,103.55 205.6,103.73 206.1,103.91 206.6,104.09 207.1,104.26 207.6,104.43 208.1,104.6 208.6,104.78 209.1,104.95 209.6,105.12 210.1,105.29 210.6,105.46 211.1,105.63 211.6,105.8 212.1,105.97 212.6,106.14 213.1,106.31 213.6,106.48 214.1,106.65 214.6,106.82 215.1,107 215.6,107.17 216.1,107.35 216.6,107.53 217.1,107.71 217.6,107.88 218.1,108.06 218.6,108.25 219.1,108.43 219.6,108.61 220.1,108.79 220.6,108.97 221.1,109.16 221.6,109.34 222.1,109.53 222.6,109.71 223.1,109.9 223.6,110.08 224.1,110.27 224.6,110.46 225.1,110.65 225.6,110.85 226.1,111.04 226.6,111.24 227.1,111.44 227.6,111.65 228.1,111.86 228.6,112.07 229.1,112.28 229.6,112.48 230.1,112.69 230.6,112.9 231.1,113.11 231.6,113.31 232.1,113.51 232.6,113.71 233.1,113.9 233.6,114.09 234.1,114.28 234.6,114.47 235.1,114.65 235.6,114.84 236.1,115.02 236.6,115.2 237.1,115.38 237.6,115.56 238.1,115.73 238.6,115.91 239.1,116.08 239.6,116.26 240.1,116.43 240.6,116.6 241.1,116.77 241.6,116.93 242.1,117.1 242.6,117.26 243.1,117.41 243.6,117.57 244.1,117.72 244.6,117.87 245.1,118.02 245.6,118.17 246.1,118.32 246.6,118.47 247.1,118.62 247.6,118.76 248.1,118.91 248.6,119.06 249.1,119.2 249.6,119.35 250.1,119.5 250.6,119.64 251.1,119.79 251.6,119.93 252.1,120.08 252.6,120.22 253.1,120.37 253.6,120.51 254.1,120.65 254.6,120.8 255.1,120.94 255.6,121.09 256.1,121.23 256.6,121.37 257.1,121.52 257.6,121.66 258.1,121.81 258.6,121.95 259.1,122.1 259.6,122.25 260.1,122.4 260.6,122.55 261.1,122.7 261.6,122.85 262.1,123.01 262.6,123.17 263.1,123.33 263.6,123.49 264.1,123.65 264.6,123.81 265.1,123.98 265.6,124.14 266.1,124.31 266.6,124.47 267.1,124.64 267.6,124.8 268.1,124.97 268.6,125.13 269.1,125.3 269.6,125.47 270.1,125.63 270.1,133.23 269.6,133.06 269.1,132.88 268.6,132.71 268.1,132.53 267.6,132.36 267.1,132.18 266.6,132.01 266.1,131.83 265.6,131.66 265.1,131.49 264.6,131.31 264.1,131.14 263.6,130.97 263.1,130.8 262.6,130.63 262.1,130.46 261.6,130.3 261.1,130.14 260.6,129.97 260.1,129.81 259.6,129.66 259.1,129.5 258.6,129.34 258.1,129.19 257.6,129.03 257.1,128.88 256.6,128.73 256.1,128.57 255.6,128.42 255.1,128.27 254.6,128.12 254.1,127.96 253.6,127.81 253.1,127.66 252.6,127.5 252.1,127.35 251.6,127.19 251.1,127.04 250.6,126.88 250.1,126.73 249.6,126.57 249.1,126.42 248.6,126.26 248.1,126.11 247.6,125.95 247.1,125.79 246.6,125.64 246.1,125.48 245.6,125.32 245.1,125.16 244.6,125 244.1,124.84 243.6,124.68 243.1,124.51 242.6,124.35 242.1,124.18 241.6,124.01 241.1,123.83 240.6,123.65 240.1,123.47 239.6,123.29 239.1,123.11 238.6,122.92 238.1,122.74 237.6,122.55 237.1,122.36 236.6,122.18 236.1,121.99 235.6,121.79 235.1,121.6 234.6,121.41 234.1,121.21 233.6,121.01 233.1,120.81 232.6,120.61 232.1,120.4 231.6,120.19 231.1,119.98 230.6,119.76 230.1,119.55 229.6,119.33 229.1,119.11 228.6,118.89 228.1,118.67 227.6,118.45 227.1,118.24 226.6,118.03 226.1,117.82 225.6,117.61 225.1,117.4 224.6,117.2 224.1,117 223.6,116.81 223.1,116.61 222.6,116.41 222.1,116.22 221.6,116.03 221.1,115.83 220.6,115.64 220.1,115.45 219.6,115.25 219.1,115.06 218.6,114.87 218.1,114.68 217.6,114.49 217.1,114.3 216.6,114.11 216.1,113.92 215.6,113.74 215.1,113.55 214.6,113.37 214.1,113.18 213.6,113 213.1,112.82 212.6,112.64 212.1,112.46 211.6,112.28 211.1,112.1 210.6,111.92 210.1,111.74 209.6,111.56 209.1,111.38 208.6,111.2 208.1,111.02 207.6,110.83 207.1,110.65 206.6,110.47 206.1,110.28 205.6,110.09 205.1,109.9 204.6,109.71 204.1,109.52 203.6,109.32 203.1,109.13 202.6,108.93 202.1,108.73 201.6,108.53 201.1,108.33 200.6,108.13 200.1,107.93 199.6,107.73 199.1,107.52 198.6,107.32 198.1,107.12 197.6,106.92 197.1,106.71 196.6,106.51 196.1,106.31 195.6,106.1 195.1,105.9 194.6,105.69 194.1,105.49 193.6,105.28 193.1,105.08 192.6,104.87 192.1,104.67 191.6,104.46 191.1,104.25 190.6,104.05 190.1,103.84 189.6,103.63 189.1,103.43 188.6,103.22 188.1,103.01 187.6,102.81 187.1,102.6 186.6,102.4 186.1,102.19 185.6,101.99 185.1,101.79 184.6,101.58 184.1,101.39 183.6,101.19 183.1,100.99 182.6,100.8 182.1,100.61 181.6,100.42 181.1,100.24 180.6,100.05 180.1,99.87 179.6,99.69 179.1,99.5 178.6,99.32 178.1,99.14 177.6,98.96 177.1,98.78 176.6,98.59 176.1,98.41 175.6,98.22 175.1,98.03 174.6,97.84 174.1,97.64 173.6,97.43 173.1,97.22 172.6,97 172.1,96.77 171.6,96.53 171.1,96.29 170.6,96.04 170.1,95.78 169.6,95.51 169.1,95.24 168.6,94.97 168.1,94.7 167.6,94.42 167.1,94.14 166.6,93.86 166.1,93.58 165.6,93.3 165.1,93.02 164.6,92.74 164.1,92.46 163.6,92.19 163.1,91.92 162.6,91.65 162.1,91.39 161.6,91.13 161.1,90.87 160.6,90.63 160.1,90.38 159.6,90.15 159.1,89.91 158.6,89.69 158.1,89.46 157.6,89.24 157.1,89.02 156.6,88.81 156.1,88.59 155.6,88.38 155.1,88.16 154.6,87.95 154.1,87.74 153.6,87.52 153.1,87.3 152.6,87.09 152.1,86.87 151.6,86.64 151.1,86.42 150.6,86.19 150.1,85.96 149.6,85.72 149.1,85.48 148.6,85.24 148.1,84.99 147.6,84.74 147.1,84.49 146.6,84.24 146.1,83.98 145.6,83.73 145.1,83.47 144.6,83.21 144.1,82.95 143.6,82.7 143.1,82.44 142.6,82.18 142.1,81.92 141.6,81.66 141.1,81.41 140.6,81.15 140.1,80.89 139.6,80.63 139.1,80.38 138.6,80.12 138.1,79.86 137.6,79.61 137.1,79.35 136.6,79.1 136.1,78.84 135.6,78.59 135.1,78.33 134.6,78.08 134.1,77.82 133.6,77.57 133.1,77.31 132.6,77.06 132.1,76.8 131.6,76.55 131.1,76.29 130.6,76.03 130.1,75.77 129.6,75.51 129.1,75.25 128.6,74.98 128.1,74.72 127.6,74.45 127.1,74.18 126.6,73.9 126.1,73.63 125.6,73.35 125.1,73.07 124.6,72.79 124.1,72.51 123.6,72.23 123.1,71.95 122.6,71.67 122.1,71.38 121.6,71.1 121.1,70.81 120.6,70.52 120.1,70.23 119.6,69.94 119.1,69.64 118.6,69.34 118.1,69.04 117.6,68.72 117.1,68.41 116.6,68.08 116.1,67.76 115.6,67.42 115.1,67.08 114.6,66.74 114.1,66.4 113.6,66.05 113.1,65.7 112.6,65.35 112.1,65 111.6,64.65 111.1,64.3 110.6,63.95 110.1,63.6 109.6,63.25 109.1,62.9 108.6,62.55 108.1,62.19 107.6,61.84 107.1,61.48 106.6,61.12 106.1,60.76 105.6,60.39 105.1,60.02 104.6,59.64 104.1,59.26 103.6,58.87 103.1,58.48 102.6,58.08 102.1,57.68 101.6,57.27 101.1,56.86 100.6,56.45 100.1,56.03 99.6,55.61 99.1,55.2 98.6,54.78 98.1,54.37 97.6,53.97 97.1,53.57 96.6,53.17 96.1,52.78 95.6,52.4 95.1,52.02 94.6,51.65 94.1,51.28 93.6,50.91 93.1,50.55 92.6,50.19 92.1,49.83 91.6,49.48 91.1,49.12 90.6,48.77 90.1,48.42 89.6,48.06 89.1,47.71 88.6,47.36 88.1,47.01 87.6,46.66 87.1,46.31 86.6,45.97 86.1,45.62 85.6,45.28 85.1,44.94 84.6,44.59 84.1,44.26 83.6,43.92 83.1,43.58 82.6,43.25 82.1,42.92 81.6,42.59 81.1,42.25 80.6,41.92 80.1,41.59 79.6,41.26 79.1,40.92 78.6,40.59 78.1,40.25 77.6,39.92 77.1,39.58 76.6,39.25 76.1,38.91 75.6,38.58 75.1,38.25 74.6,37.92 74.1,37.59 73.6,37.27 73.1,36.94 72.6,36.62 72.1,36.3 71.6,35.99 71.1,35.67 70.6,35.35 70.1,35.04 69.6,34.73 69.1,34.42 68.6,34.11 68.1,33.8 67.6,33.49 67.1,33.19 66.6,32.89 66.1,32.59 65.6,32.3 65.1,32.02 64.6,31.73 64.1,31.46 63.6,31.18 63.1,30.91 62.6,30.64 62.1,30.37 61.6,30.1 61.1,29.84 60.6,29.57 60.1,29.29 59.6,29.02 59.1,28.73 58.6,28.44 58.1,28.14 57.6,27.82 57.1,27.49 56.6,27.13 56.1,26.75 55.6,26.35 55.1,25.92 54.6,25.45 54.1,24.96 53.6,24.44 53.1,23.9 52.6,23.34 52.1,22.76 51.6,22.17 50.2,19.83 50.1,16.3" fill="#00BFC4" fill-opacity="0.28"/>
<polyline points="50.1,16.3 50.2,19.3 51.6,21.5 52.1,22.07 52.6,22.63 53.1,23.18 53.6,23.71 54.1,24.23 54.6,24.72 55.1,25.2 55.6,25.65 56.1,26.08 56.6,26.5 57.1,26.9 57.6,27.29 58.1,27.66 58.6,28.04 59.1,28.4 59.6,28.77 60.1,29.14 60.6,29.5 61.1,29.87 61.6,30.25 62.1,30.63 62.6,31.02 63.1,31.41 63.6,31.81 64.1,32.21 64.6,32.62 65.1,33.04 65.6,33.46 66.1,33.89 66.6,34.32 67.1,34.76 67.6,35.2 68.1,35.65 68.6,36.1 69.1,36.55 69.6,37 70.1,37.46 70.6,37.92 71.1,38.37 71.6,38.83 72.1,39.28 72.6,39.74 73.1,40.19 73.6,40.63 74.1,41.08 74.6,41.52 75.1,41.97 75.6,42.41 76.1,42.85 76.6,43.28 77.1,43.72 77.6,44.16 78.1,44.59 78.6,45.03 79.1,45.46 79.6,45.89 80.1,46.32 80.6,46.74 81.1,47.16 81.6,47.57 82.1,47.98 82.6,48.38 83.1,48.78 83.6,49.17 84.1,49.56 84.6,49.94 85.1,50.32 85.6,50.7 86.1,51.08 86.6,51.45 87.1,51.82 87.6,52.2 88.1,52.57 88.6,52.94 89.1,53.31 89.6,53.68 90.1,54.06 90.6,54.43 91.1,54.8 91.6,55.18 92.1,55.55 92.6,55.93 93.1,56.31 93.6,56.69 94.1,57.07 94.6,57.45 95.1,57.84 95.6,58.23 96.1,58.62 96.6,59.02 97.1,59.42 97.6,59.82 98.1,60.22 98.6,60.63 99.1,61.04 99.6,61.45 100.1,61.86 100.6,62.27 101.1,62.68 101.6,63.08 102.1,63.47 102.6,63.86 103.1,64.24 103.6,64.61 104.1,64.98 104.6,65.34 105.1,65.69 105.6,66.04 106.1,66.38 106.6,66.72 107.1,67.05 107.6,67.38 108.1,67.71 108.6,68.04 109.1,68.37 109.6,68.69 110.1,69.02 110.6,69.34 111.1,69.67 111.6,70 112.1,70.33 112.6,70.66 113.1,70.99 113.6,71.32 114.1,71.65 114.6,71.99 115.1,72.32 115.6,72.65 116.1,72.98 116.6,73.3 117.1,73.63 117.6,73.95 118.1,74.26 118.6,74.57 119.1,74.88 119.6,75.18 120.1,75.49 120.6,75.79 121.1,76.08 121.6,76.38 122.1,76.67 122.6,76.97 123.1,77.26 123.6,77.55 124.1,77.85 124.6,78.14 125.1,78.43 125.6,78.71 126.1,79 126.6,79.28 127.1,79.56 127.6,79.83 128.1,80.1 128.6,80.37 129.1,80.63 129.6,80.89 130.1,81.14 130.6,81.4 131.1,81.65 131.6,81.89 132.1,82.14 132.6,82.38 133.1,82.63 133.6,82.87 134.1,83.12 134.6,83.36 135.1,83.6 135.6,83.84 136.1,84.08 136.6,84.31 137.1,84.55 137.6,84.78 138.1,85.01 138.6,85.24 139.1,85.46 139.6,85.68 140.1,85.9 140.6,86.11 141.1,86.33 141.6,86.53 142.1,86.74 142.6,86.95 143.1,87.15 143.6,87.35 144.1,87.56 144.6,87.76 145.1,87.96 145.6,88.16 146.1,88.37 146.6,88.57 147.1,88.77 147.6,88.98 148.1,89.18 148.6,89.38 149.1,89.59 149.6,89.79 150.1,90 150.6,90.21 151.1,90.42 151.6,90.62 152.1,90.83 152.6,91.04 153.1,91.25 153.6,91.46 154.1,91.67 154.6,91.88 155.1,92.1 155.6,92.31 156.1,92.52 156.6,92.73 157.1,92.94 157.6,93.16 158.1,93.37 158.6,93.59 159.1,93.81 159.6,94.03 160.1,94.26 160.6,94.49 161.1,94.72 161.6,94.95 162.1,95.19 162.6,95.43 163.1,95.67 163.6,95.91 164.1,96.16 164.6,96.41 165.1,96.65 165.6,96.9 166.1,97.15 166.6,97.4 167.1,97.65 167.6,97.9 168.1,98.14 168.6,98.39 169.1,98.63 169.6,98.87 170.1,99.11 170.6,99.34 171.1,99.57 171.6,99.79 172.1,100.01 172.6,100.22 173.1,100.42 173.6,100.62 174.1,100.81 174.6,101 175.1,101.19 175.6,101.37 176.1,101.55 176.6,101.73 177.1,101.9 177.6,102.08 178.1,102.26 178.6,102.43 179.1,102.6 179.6,102.78 180.1,102.95 180.6,103.12 181.1,103.29 181.6,103.46 182.1,103.63 182.6,103.79 183.1,103.95 183.6,104.12 184.1,104.28 184.6,104.44 185.1,104.59 185.6,104.75 186.1,104.9 186.6,105.06 187.1,105.21 187.6,105.36 188.1,105.51 188.6,105.67 189.1,105.82 189.6,105.97 190.1,106.12 190.6,106.28 191.1,106.43 191.6,106.58 192.1,106.74 192.6,106.9 193.1,107.06 193.6,107.22 194.1,107.38 194.6,107.54 195.1,107.71 195.6,107.88 196.1,108.04 196.6,108.22 197.1,108.39 197.6,108.56 198.1,108.73 198.6,108.9 199.1,109.08 199.6,109.25 200.1,109.43 200.6,109.6 201.1,109.77 201.6,109.94 202.1,110.12 202.6,110.29 203.1,110.46 203.6,110.63 204.1,110.79 204.6,110.96 205.1,111.12 205.6,111.28 206.1,111.44 206.6,111.6 207.1,111.75 207.6,111.91 208.1,112.06 208.6,112.22 209.1,112.37 209.6,112.52 210.1,112.67 210.6,112.83 211.1,112.98 211.6,113.13 212.1,113.28 212.6,113.43 213.1,113.59 213.6,113.74 214.1,113.9 214.6,114.05 215.1,114.21 215.6,114.36 216.1,114.52 216.6,114.68 217.1,114.84 217.6,115 218.1,115.17 218.6,115.33 219.1,115.49 219.6,115.66 220.1,115.82 220.6,115.99 221.1,116.15 221.6,116.32 222.1,116.48 222.6,116.65 223.1,116.81 223.6,116.98 224.1,117.14 224.6,117.31 225.1,117.48 225.6,117.64 226.1,117.81 226.6,117.97 227.1,118.14 227.6,118.31 228.1,118.48 228.6,118.64 229.1,118.81 229.6,118.97 230.1,119.13 230.6,119.29 231.1,119.45 231.6,119.6 232.1,119.76 232.6,119.91 233.1,120.05 233.6,120.2 234.1,120.34 234.6,120.48 235.1,120.61 235.6,120.75 236.1,120.88 236.6,121.02 237.1,121.15 237.6,121.29 238.1,121.43 238.6,121.56 239.1,121.7 239.6,121.84 240.1,121.98 240.6,122.13 241.1,122.28 241.6,122.44 242.1,122.59 242.6,122.75 243.1,122.92 243.6,123.09 244.1,123.26 244.6,123.43 245.1,123.61 245.6,123.79 246.1,123.97 246.6,124.15 247.1,124.33 247.6,124.5 248.1,124.68 248.6,124.86 249.1,125.03 249.6,125.21 250.1,125.38 250.6,125.54 251.1,125.7 251.6,125.86 252.1,126.01 252.6,126.16 253.1,126.31 253.6,126.45 254.1,126.59 254.6,126.72 255.1,126.86 255.6,126.99 256.1,127.12 256.6,127.24 257.1,127.37 257.6,127.5 258.1,127.62 258.6,127.74 259.1,127.86 259.6,127.97 260.1,128.08 260.6,128.18 261.1,128.28 261.6,128.38 262.1,128.47 262.6,128.55 263.1,128.63 263.6,128.7 264.1,128.77 264.6,128.83 265.1,128.9 265.6,128.96 266.1,129.02 266.6,129.08 267.1,129.14 267.6,129.19 268.1,129.25 268.6,129.31 269.1,129.36 269.6,129.42 270.1,129.48" fill="none" stroke="#F8766D" stroke-width="1.7" stroke-linejoin="round"/>
<polyline points="50.1,15.8 50.2,19.3 51.6,21.5 52.1,22.06 52.6,22.61 53.1,23.15 53.6,23.67 54.1,24.16 54.6,24.63 55.1,25.07 55.6,25.49 56.1,25.87 56.6,26.23 57.1,26.57 57.6,26.89 58.1,27.19 58.6,27.47 59.1,27.75 59.6,28.02 60.1,28.28 60.6,28.54 61.1,28.79 61.6,29.04 62.1,29.3 62.6,29.55 63.1,29.8 63.6,30.06 64.1,30.32 64.6,30.59 65.1,30.86 65.6,31.13 66.1,31.41 66.6,31.69 67.1,31.98 67.6,32.27 68.1,32.56 68.6,32.86 69.1,33.16 69.6,33.46 70.1,33.76 70.6,34.06 71.1,34.36 71.6,34.67 72.1,34.97 72.6,35.28 73.1,35.59 73.6,35.91 74.1,36.22 74.6,36.54 75.1,36.86 75.6,37.18 76.1,37.5 76.6,37.82 77.1,38.15 77.6,38.47 78.1,38.8 78.6,39.12 79.1,39.44 79.6,39.77 80.1,40.09 80.6,40.41 81.1,40.74 81.6,41.06 82.1,41.38 82.6,41.7 83.1,42.03 83.6,42.35 84.1,42.68 84.6,43.01 85.1,43.34 85.6,43.67 86.1,44.01 86.6,44.34 87.1,44.68 87.6,45.02 88.1,45.36 88.6,45.7 89.1,46.04 89.6,46.39 90.1,46.73 90.6,47.07 91.1,47.42 91.6,47.77 92.1,48.11 92.6,48.46 93.1,48.81 93.6,49.17 94.1,49.52 94.6,49.88 95.1,50.25 95.6,50.62 96.1,50.99 96.6,51.37 97.1,51.76 97.6,52.15 98.1,52.55 98.6,52.95 99.1,53.36 99.6,53.76 100.1,54.17 100.6,54.58 101.1,54.99 101.6,55.39 102.1,55.79 102.6,56.19 103.1,56.58 103.6,56.96 104.1,57.34 104.6,57.71 105.1,58.08 105.6,58.44 106.1,58.8 106.6,59.16 107.1,59.51 107.6,59.86 108.1,60.21 108.6,60.55 109.1,60.9 109.6,61.24 110.1,61.59 110.6,61.93 111.1,62.27 111.6,62.62 112.1,62.96 112.6,63.3 113.1,63.64 113.6,63.98 114.1,64.32 114.6,64.66 115.1,65 115.6,65.33 116.1,65.65 116.6,65.97 117.1,66.29 117.6,66.6 118.1,66.91 118.6,67.2 119.1,67.5 119.6,67.79 120.1,68.07 120.6,68.36 121.1,68.64 121.6,68.92 122.1,69.19 122.6,69.47 123.1,69.75 123.6,70.02 124.1,70.3 124.6,70.57 125.1,70.84 125.6,71.11 126.1,71.38 126.6,71.65 127.1,71.92 127.6,72.18 128.1,72.45 128.6,72.71 129.1,72.96 129.6,73.22 130.1,73.47 130.6,73.73 131.1,73.98 131.6,74.23 132.1,74.48 132.6,74.73 133.1,74.98 133.6,75.22 134.1,75.47 134.6,75.72 135.1,75.97 135.6,76.22 136.1,76.46 136.6,76.71 137.1,76.96 137.6,77.21 138.1,77.46 138.6,77.71 139.1,77.96 139.6,78.21 140.1,78.46 140.6,78.71 141.1,78.96 141.6,79.21 142.1,79.47 142.6,79.72 143.1,79.97 143.6,80.22 144.1,80.47 144.6,80.72 145.1,80.98 145.6,81.23 146.1,81.48 146.6,81.73 147.1,81.97 147.6,82.22 148.1,82.46 148.6,82.7 149.1,82.94 149.6,83.17 150.1,83.4 150.6,83.63 151.1,83.85 151.6,84.07 152.1,84.28 152.6,84.5 153.1,84.71 153.6,84.92 154.1,85.13 154.6,85.34 155.1,85.55 155.6,85.75 156.1,85.96 156.6,86.17 157.1,86.38 157.6,86.59 158.1,86.81 158.6,87.03 159.1,87.25 159.6,87.48 160.1,87.71 160.6,87.94 161.1,88.18 161.6,88.43 162.1,88.68 162.6,88.94 163.1,89.2 163.6,89.47 164.1,89.74 164.6,90.01 165.1,90.28 165.6,90.56 166.1,90.83 166.6,91.1 167.1,91.38 167.6,91.65 168.1,91.92 168.6,92.19 169.1,92.46 169.6,92.72 170.1,92.98 170.6,93.24 171.1,93.48 171.6,93.72 172.1,93.95 172.6,94.18 173.1,94.39 173.6,94.6 174.1,94.8 174.6,94.99 175.1,95.18 175.6,95.37 176.1,95.55 176.6,95.73 177.1,95.9 177.6,96.08 178.1,96.26 178.6,96.43 179.1,96.61 179.6,96.78 180.1,96.96 180.6,97.14 181.1,97.32 181.6,97.5 182.1,97.68 182.6,97.87 183.1,98.05 183.6,98.24 184.1,98.43 184.6,98.63 185.1,98.82 185.6,99.02 186.1,99.22 186.6,99.42 187.1,99.62 187.6,99.82 188.1,100.02 188.6,100.22 189.1,100.42 189.6,100.62 190.1,100.83 190.6,101.03 191.1,101.23 191.6,101.43 192.1,101.63 192.6,101.83 193.1,102.03 193.6,102.23 194.1,102.43 194.6,102.63 195.1,102.83 195.6,103.03 196.1,103.23 196.6,103.42 197.1,103.62 197.6,103.82 198.1,104.02 198.6,104.21 199.1,104.41 199.6,104.61 200.1,104.81 200.6,105 201.1,105.2 201.6,105.39 202.1,105.59 202.6,105.78 203.1,105.97 203.6,106.17 204.1,106.35 204.6,106.54 205.1,106.73 205.6,106.91 206.1,107.1 206.6,107.28 207.1,107.46 207.6,107.63 208.1,107.81 208.6,107.99 209.1,108.16 209.6,108.34 210.1,108.51 210.6,108.69 211.1,108.86 211.6,109.04 212.1,109.21 212.6,109.39 213.1,109.56 213.6,109.74 214.1,109.92 214.6,110.1 215.1,110.27 215.6,110.45 216.1,110.64 216.6,110.82 217.1,111 217.6,111.19 218.1,111.37 218.6,111.56 219.1,111.74 219.6,111.93 220.1,112.12 220.6,112.31 221.1,112.49 221.6,112.68 222.1,112.87 222.6,113.06 223.1,113.25 223.6,113.44 224.1,113.64 224.6,113.83 225.1,114.03 225.6,114.23 226.1,114.43 226.6,114.63 227.1,114.84 227.6,115.05 228.1,115.26 228.6,115.48 229.1,115.69 229.6,115.91 230.1,116.12 230.6,116.33 231.1,116.54 231.6,116.75 232.1,116.96 232.6,117.16 233.1,117.36 233.6,117.55 234.1,117.75 234.6,117.94 235.1,118.13 235.6,118.32 236.1,118.5 236.6,118.69 237.1,118.87 237.6,119.05 238.1,119.24 238.6,119.42 239.1,119.6 239.6,119.78 240.1,119.95 240.6,120.13 241.1,120.3 241.6,120.47 242.1,120.64 242.6,120.8 243.1,120.96 243.6,121.12 244.1,121.28 244.6,121.44 245.1,121.59 245.6,121.75 246.1,121.9 246.6,122.05 247.1,122.21 247.6,122.36 248.1,122.51 248.6,122.66 249.1,122.81 249.6,122.96 250.1,123.11 250.6,123.26 251.1,123.41 251.6,123.56 252.1,123.71 252.6,123.86 253.1,124.01 253.6,124.16 254.1,124.31 254.6,124.46 255.1,124.61 255.6,124.75 256.1,124.9 256.6,125.05 257.1,125.2 257.6,125.35 258.1,125.5 258.6,125.65 259.1,125.8 259.6,125.95 260.1,126.11 260.6,126.26 261.1,126.42 261.6,126.58 262.1,126.74 262.6,126.9 263.1,127.06 263.6,127.23 264.1,127.39 264.6,127.56 265.1,127.73 265.6,127.9 266.1,128.07 266.6,128.24 267.1,128.41 267.6,128.58 268.1,128.75 268.6,128.92 269.1,129.09 269.6,129.26 270.1,129.43" fill="none" stroke="#00BFC4" stroke-width="1.7" stroke-opacity="0.55" stroke-linejoin="round"/>
<polyline points="50.1,15.8 50.2,19.3 51.6,21.5 52.1,22.06 52.6,22.61 53.1,23.15 53.6,23.67 54.1,24.16 54.6,24.63 55.1,25.07 55.6,25.49 56.1,25.87 56.6,26.23 57.1,26.57 57.6,26.89 58.1,27.19 58.6,27.47 59.1,27.75 59.6,28.02 60.1,28.28 60.6,28.54 61.1,28.79 61.6,29.04 62.1,29.3 62.6,29.55 63.1,29.8 63.6,30.06 64.1,30.32 64.6,30.59 65.1,30.86 65.6,31.13 66.1,31.41 66.6,31.69 67.1,31.98 67.6,32.27 68.1,32.56 68.6,32.86 69.1,33.16 69.6,33.46 70.1,33.76 70.6,34.06 71.1,34.36 71.6,34.67 72.1,34.97 72.6,35.28 73.1,35.59 73.6,35.91 74.1,36.22 74.6,36.54 75.1,36.86 75.6,37.18 76.1,37.5 76.6,37.82 77.1,38.15 77.6,38.47 78.1,38.8 78.6,39.12 79.1,39.44 79.6,39.77 80.1,40.09 80.6,40.41 81.1,40.74 81.6,41.06 82.1,41.38 82.6,41.7 83.1,42.03 83.6,42.35 84.1,42.68 84.6,43.01 85.1,43.34 85.6,43.67 86.1,44.01 86.6,44.34 87.1,44.68 87.6,45.02 88.1,45.36 88.6,45.7 89.1,46.04 89.6,46.39 90.1,46.73 90.6,47.07 91.1,47.42 91.6,47.77 92.1,48.11 92.6,48.46 93.1,48.81 93.6,49.17 94.1,49.52 94.6,49.88 95.1,50.25 95.6,50.62 96.1,50.99 96.6,51.37 97.1,51.76 97.6,52.15 98.1,52.55 98.6,52.95 99.1,53.36 99.6,53.76 100.1,54.17 100.6,54.58 101.1,54.99 101.6,55.39 102.1,55.79 102.6,56.19 103.1,56.58 103.6,56.96 104.1,57.34 104.6,57.71 105.1,58.08 105.6,58.44 106.1,58.8 106.6,59.16 107.1,59.51 107.6,59.86 108.1,60.21 108.6,60.55 109.1,60.9 109.6,61.24 110.1,61.59 110.6,61.93 111.1,62.27 111.6,62.62 112.1,62.96 112.6,63.3 113.1,63.64 113.6,63.98 114.1,64.32 114.6,64.66 115.1,65 115.6,65.33 116.1,65.65 116.6,65.97 117.1,66.29 117.6,66.6 118.1,66.91 118.6,67.2 119.1,67.5 119.6,67.79 120.1,68.07 120.6,68.36 121.1,68.64 121.6,68.92 122.1,69.19 122.6,69.47 123.1,69.75 123.6,70.02 124.1,70.3 124.6,70.57 125.1,70.84 125.6,71.11 126.1,71.38 126.6,71.65 127.1,71.92 127.6,72.18 128.1,72.45 128.6,72.71 129.1,72.96 129.6,73.22 130.1,73.47 130.6,73.73 131.1,73.98 131.6,74.23 132.1,74.48 132.6,74.73 133.1,74.98 133.6,75.22 134.1,75.47 134.6,75.72 135.1,75.97 135.6,76.22 136.1,76.46 136.6,76.71 137.1,76.96 137.6,77.21 138.1,77.46 138.6,77.71 139.1,77.96 139.6,78.21 140.1,78.46 140.6,78.71 141.1,78.96 141.6,79.21 142.1,79.47 142.6,79.72 143.1,79.97 143.6,80.22 144.1,80.47 144.6,80.72 145.1,80.98 145.6,81.23 146.1,81.48 146.6,81.73 147.1,81.97 147.6,82.22 148.1,82.46 148.6,82.7 149.1,82.94 149.6,83.17 150.1,83.4 150.6,83.63 151.1,83.85 151.6,84.07 152.1,84.28 152.6,84.5 153.1,84.71 153.6,84.92 154.1,85.13 154.6,85.34 155.1,85.55 155.6,85.75 156.1,85.96 156.6,86.17 157.1,86.38 157.6,86.59 158.1,86.81 158.6,87.03 159.1,87.25 159.6,87.48 160.1,87.71 160.6,87.94 161.1,88.18 161.6,88.43 162.1,88.68 162.6,88.94 163.1,89.2 163.6,89.47 164.1,89.74 164.6,90.01 165.1,90.28 165.6,90.56 166.1,90.83 166.6,91.1 167.1,91.38 167.6,91.65 168.1,91.92 168.6,92.19 169.1,92.46 169.6,92.72 170.1,92.98 170.6,93.24 171.1,93.48 171.6,93.72 172.1,93.95 172.6,94.18 173.1,94.39 173.6,94.6 174.1,94.8 174.6,94.99 175.1,95.18 175.6,95.37 176.1,95.55 176.6,95.73 177.1,95.9 177.6,96.08 178.1,96.26 178.6,96.43 179.1,96.61 179.6,96.78 180.1,96.96 180.6,97.14 181.1,97.32 181.6,97.5 182.1,97.68 182.6,97.87 183.1,98.05 183.6,98.24 184.1,98.43 184.6,98.63 185.1,98.82 185.6,99.02 186.1,99.22 186.6,99.42 187.1,99.62 187.6,99.82 188.1,100.02 188.6,100.22 189.1,100.42 189.6,100.62 190.1,100.83 190.6,101.03 191.1,101.23 191.6,101.43 192.1,101.63 192.6,101.83 193.1,102.03 193.6,102.23 194.1,102.43 194.6,102.63 195.1,102.83 195.6,103.03 196.1,103.23 196.6,103.42 197.1,103.62 197.6,103.82 198.1,104.02 198.6,104.21 199.1,104.41 199.6,104.61 200.1,104.81 200.6,105 201.1,105.2 201.6,105.39 202.1,105.59 202.6,105.78 203.1,105.97 203.6,106.17 204.1,106.35 204.6,106.54 205.1,106.73 205.6,106.91 206.1,107.1 206.6,107.28 207.1,107.46 207.6,107.63 208.1,107.81 208.6,107.99 209.1,108.16 209.6,108.34 210.1,108.51 210.6,108.69 211.1,108.86 211.6,109.04 212.1,109.21 212.6,109.39 213.1,109.56 213.6,109.74 214.1,109.92 214.6,110.1 215.1,110.27 215.6,110.45 216.1,110.64 216.6,110.82 217.1,111 217.6,111.19 218.1,111.37 218.6,111.56 219.1,111.74 219.6,111.93 220.1,112.12 220.6,112.31 221.1,112.49 221.6,112.68 222.1,112.87 222.6,113.06 223.1,113.25 223.6,113.44 224.1,113.64 224.6,113.83 225.1,114.03 225.6,114.23 226.1,114.43 226.6,114.63 227.1,114.84 227.6,115.05 228.1,115.26 228.6,115.48 229.1,115.69 229.6,115.91 230.1,116.12 230.6,116.33 231.1,116.54 231.6,116.75 232.1,116.96 232.6,117.16 233.1,117.36 233.6,117.55 234.1,117.75 234.6,117.94 235.1,118.13 235.6,118.32 236.1,118.5 236.6,118.69 237.1,118.87 237.6,119.05 238.1,119.24 238.6,119.42 239.1,119.6 239.6,119.78 240.1,119.95 240.6,120.13 241.1,120.3 241.6,120.47 242.1,120.64 242.6,120.8 243.1,120.96 243.6,121.12 244.1,121.28 244.6,121.44 245.1,121.59 245.6,121.75 246.1,121.9 246.6,122.05 247.1,122.21 247.6,122.36 248.1,122.51 248.6,122.66 249.1,122.81 249.6,122.96 250.1,123.11 250.6,123.26 251.1,123.41 251.6,123.56 252.1,123.71 252.6,123.86 253.1,124.01 253.6,124.16 254.1,124.31 254.6,124.46 255.1,124.61 255.6,124.75 256.1,124.9 256.6,125.05 257.1,125.2 257.6,125.35 258.1,125.5 258.6,125.65 259.1,125.8 259.6,125.95 260.1,126.11 260.6,126.26 261.1,126.42 261.6,126.58 262.1,126.74 262.6,126.9 263.1,127.06 263.6,127.23 264.1,127.39 264.6,127.56 265.1,127.73 265.6,127.9 266.1,128.07 266.6,128.24 267.1,128.41 267.6,128.58 268.1,128.75 268.6,128.92 269.1,129.09 269.6,129.26 270.1,129.43" fill="none" stroke="#00B6BA" stroke-width="1.6" stroke-dasharray="1.6 1.6" stroke-linejoin="round"/>
<rect x="206.6" y="24.6" width="40" height="22" fill="#fff"/>
<text transform="translate(209,30.7) scale(0.1007,0.1)" font-size="48" fill="#222">Tumor location</text>
<rect x="208.6" y="33.6" width="7.1" height="5.9" fill="#F8766D" fill-opacity="0.3"/>
<line x1="208.9" x2="215.4" y1="36.55" y2="36.55" stroke="#F8766D" stroke-width="1.2"/>
<rect x="208.6" y="39.9" width="7.1" height="5.9" fill="#00BFC4" fill-opacity="0.3"/>
<line x1="208.9" x2="215.4" y1="42.85" y2="42.85" stroke="#00B6BA" stroke-width="1.2" stroke-dasharray="1.5 1"/>
<text transform="translate(219,37.9) scale(0.0915,0.1)" font-size="37" fill="#222">Caecum</text>
<text transform="translate(219,44.2) scale(0.1053,0.1)" font-size="39" fill="#222">Sigmoid colon</text>
<rect x="56.2" y="108" width="32" height="9" fill="#fff"/>
<text transform="translate(57,115.2) scale(0.1084,0.1)" font-size="59" fill="#222" class="p">p = 0.0054</text>
<rect x="39.5" y="10.2" width="234.3" height="132.9" class="bd"/>
<line x1="38" x2="39.5" y1="16" y2="16" class="tk"/>
<text transform="translate(31.86,17.3) scale(0.1,0.1)" font-size="37" fill="#444">1.0</text>
<line x1="38" x2="39.5" y1="40.25" y2="40.25" class="tk"/>
<text transform="translate(31.86,41.55) scale(0.1,0.1)" font-size="37" fill="#444">0.9</text>
<line x1="38" x2="39.5" y1="64.5" y2="64.5" class="tk"/>
<text transform="translate(31.86,65.8) scale(0.1,0.1)" font-size="37" fill="#444">0.8</text>
<line x1="38" x2="39.5" y1="88.75" y2="88.75" class="tk"/>
<text transform="translate(31.86,90.05) scale(0.1,0.1)" font-size="37" fill="#444">0.7</text>
<line x1="38" x2="39.5" y1="113" y2="113" class="tk"/>
<text transform="translate(31.86,114.3) scale(0.1,0.1)" font-size="37" fill="#444">0.6</text>
<line x1="38" x2="39.5" y1="137.25" y2="137.25" class="tk"/>
<text transform="translate(31.86,138.55) scale(0.1,0.1)" font-size="37" fill="#444">0.5</text>
<line x1="50" x2="50" y1="143" y2="144.4" class="tk"/>
<text transform="translate(48.97,147.7) scale(0.1,0.1)" font-size="37" fill="#444">0</text>
<line x1="135.3" x2="135.3" y1="143" y2="144.4" class="tk"/>
<text transform="translate(134.27,147.7) scale(0.1,0.1)" font-size="37" fill="#444">5</text>
<line x1="220.6" x2="220.6" y1="143" y2="144.4" class="tk"/>
<text transform="translate(218.54,147.7) scale(0.1,0.1)" font-size="37" fill="#444">10</text>
<text transform="translate(144.4,152.3) scale(0.1044,0.1)" font-size="47" fill="#222">Time (year)</text>
<text transform="translate(8.9,77.1) rotate(-90) translate(-14.6,0) scale(0.1)" font-size="47" fill="#222" style="letter-spacing:-1.95px">Overall survival</text>
<text transform="translate(39.8,160.9) scale(0.1049,0.1)" font-size="56" fill="#1a1a1a">Number at risk</text>
<line x1="92.65" x2="92.65" y1="163.8" y2="194.4" class="gm"/>
<line x1="177.95" x2="177.95" y1="163.8" y2="194.4" class="gm"/>
<line x1="263.25" x2="263.25" y1="163.8" y2="194.4" class="gm"/>
<line x1="50" x2="50" y1="163.8" y2="194.4" class="gM"/>
<line x1="135.3" x2="135.3" y1="163.8" y2="194.4" class="gM"/>
<line x1="220.6" x2="220.6" y1="163.8" y2="194.4" class="gM"/>
<line x1="39.5" x2="273.8" y1="172.4" y2="172.4" class="gM"/>
<line x1="39.5" x2="273.8" y1="186.4" y2="186.4" class="gM"/>
<text transform="translate(43.6,174.4) scale(0.0913,0.1)" font-size="63" fill="#F8766D">9926</text>
<text transform="translate(128.75,174.4) scale(0.0935,0.1)" font-size="63" fill="#F8766D">6909</text>
<text transform="translate(214.05,174.4) scale(0.0935,0.1)" font-size="63" fill="#F8766D">2645</text>
<text transform="translate(43.6,188.4) scale(0.0913,0.1)" font-size="63" fill="#00BFC4">9926</text>
<text transform="translate(129.05,188.4) scale(0.0923,0.1)" font-size="63" fill="#00BFC4">7311</text>
<text transform="translate(214.05,188.4) scale(0.0935,0.1)" font-size="63" fill="#00BFC4">2633</text>
<rect x="39.5" y="163.8" width="234.3" height="30.6" class="bd"/>
<line x1="38" x2="39.5" y1="172.4" y2="172.4" class="tk"/>
<line x1="38" x2="39.5" y1="186.4" y2="186.4" class="tk"/>
<text transform="translate(24.4,173.8) scale(0.0936,0.1)" font-size="35" fill="#F8766D">Caecum</text>
<text transform="translate(11.8,187.8) scale(0.1097,0.1)" font-size="36" fill="#00BFC4">Sigmoid colon</text>
<line x1="50" x2="50" y1="194.5" y2="195.9" class="tk"/>
<text transform="translate(48.97,199) scale(0.1,0.1)" font-size="37" fill="#444">0</text>
<line x1="135.3" x2="135.3" y1="194.5" y2="195.9" class="tk"/>
<text transform="translate(134.27,199) scale(0.1,0.1)" font-size="37" fill="#444">5</text>
<line x1="220.6" x2="220.6" y1="194.5" y2="195.9" class="tk"/>
<text transform="translate(218.54,199) scale(0.1,0.1)" font-size="37" fill="#444">10</text>
<text transform="translate(144.5,203.6) scale(0.104,0.1)" font-size="47" fill="#222">Time (year)</text>
<text transform="translate(9.1,179.1) rotate(-90) translate(-13.3,0) scale(0.1)" font-size="47" fill="#222" style="letter-spacing:-3.32px">Tumor location</text>
</g>
<g transform="translate(0,204.4)">
<text transform="translate(15,8.8) scale(0.1,0.1)" font-size="90" fill="#000" class="k">C</text>
<text transform="translate(39.8,7.5) scale(0.1)" font-size="58" fill="#1a1a1a">2010<tspan dx="7">-</tspan><tspan dx="7">2015</tspan></text>
<line x1="39.5" x2="273.8" y1="28.13" y2="28.13" class="gm"/>
<line x1="39.5" x2="273.8" y1="52.38" y2="52.38" class="gm"/>
<line x1="39.5" x2="273.8" y1="76.62" y2="76.62" class="gm"/>
<line x1="39.5" x2="273.8" y1="100.88" y2="100.88" class="gm"/>
<line x1="39.5" x2="273.8" y1="125.12" y2="125.12" class="gm"/>
<line x1="130.05" x2="130.05" y1="10.2" y2="143.1" class="gm"/>
<line x1="39.5" x2="273.8" y1="16" y2="16" class="gM"/>
<line x1="39.5" x2="273.8" y1="40.25" y2="40.25" class="gM"/>
<line x1="39.5" x2="273.8" y1="64.5" y2="64.5" class="gM"/>
<line x1="39.5" x2="273.8" y1="88.75" y2="88.75" class="gM"/>
<line x1="39.5" x2="273.8" y1="113" y2="113" class="gM"/>
<line x1="39.5" x2="273.8" y1="137.25" y2="137.25" class="gM"/>
<line x1="50.3" x2="50.3" y1="10.2" y2="143.1" class="gM"/>
<line x1="209.8" x2="209.8" y1="10.2" y2="143.1" class="gM"/>
<polygon points="49.9,16.4 50.5,17.92 55.9,18.47 56.4,18.55 56.9,18.64 57.4,18.72 57.9,18.81 58.4,18.89 58.9,18.98 59.4,19.07 59.9,19.16 60.4,19.24 60.9,19.33 61.4,19.42 61.9,19.51 62.4,19.6 62.9,19.68 63.4,19.77 63.9,19.86 64.4,19.95 64.9,20.05 65.4,20.14 65.9,20.23 66.4,20.32 66.9,20.42 67.4,20.51 67.9,20.61 68.4,20.71 68.9,20.8 69.4,20.9 69.9,21 70.4,21.1 70.9,21.2 71.4,21.3 71.9,21.4 72.4,21.5 72.9,21.6 73.4,21.7 73.9,21.81 74.4,21.91 74.9,22.02 75.4,22.13 75.9,22.24 76.4,22.35 76.9,22.47 77.4,22.6 77.9,22.73 78.4,22.86 78.9,23 79.4,23.14 79.9,23.28 80.4,23.43 80.9,23.58 81.4,23.73 81.9,23.88 82.4,24.04 82.9,24.19 83.4,24.35 83.9,24.51 84.4,24.66 84.9,24.82 85.4,24.98 85.9,25.14 86.4,25.3 86.9,25.45 87.4,25.61 87.9,25.77 88.4,25.94 88.9,26.1 89.4,26.26 89.9,26.42 90.4,26.59 90.9,26.75 91.4,26.92 91.9,27.08 92.4,27.25 92.9,27.42 93.4,27.58 93.9,27.75 94.4,27.91 94.9,28.08 95.4,28.25 95.9,28.41 96.4,28.58 96.9,28.74 97.4,28.91 97.9,29.07 98.4,29.23 98.9,29.39 99.4,29.55 99.9,29.7 100.4,29.86 100.9,30.01 101.4,30.16 101.9,30.31 102.4,30.46 102.9,30.61 103.4,30.76 103.9,30.91 104.4,31.05 104.9,31.2 105.4,31.35 105.9,31.49 106.4,31.64 106.9,31.79 107.4,31.93 107.9,32.08 108.4,32.23 108.9,32.37 109.4,32.52 109.9,32.67 110.4,32.81 110.9,32.96 111.4,33.1 111.9,33.25 112.4,33.39 112.9,33.54 113.4,33.69 113.9,33.83 114.4,33.98 114.9,34.12 115.4,34.27 115.9,34.41 116.4,34.56 116.9,34.7 117.4,34.85 117.9,34.99 118.4,35.14 118.9,35.28 119.4,35.42 119.9,35.57 120.4,35.71 120.9,35.86 121.4,36 121.9,36.14 122.4,36.29 122.9,36.43 123.4,36.57 123.9,36.71 124.4,36.85 124.9,36.99 125.4,37.14 125.9,37.28 126.4,37.42 126.9,37.56 127.4,37.7 127.9,37.84 128.4,37.98 128.9,38.12 129.4,38.26 129.9,38.4 130.4,38.54 130.9,38.67 131.4,38.81 131.9,38.94 132.4,39.08 132.9,39.21 133.4,39.34 133.9,39.47 134.4,39.6 134.9,39.72 135.4,39.85 135.9,39.97 136.4,40.1 136.9,40.22 137.4,40.35 137.9,40.47 138.4,40.59 138.9,40.71 139.4,40.84 139.9,40.96 140.4,41.08 140.9,41.2 141.4,41.33 141.9,41.45 142.4,41.57 142.9,41.69 143.4,41.81 143.9,41.93 144.4,42.05 144.9,42.17 145.4,42.29 145.9,42.41 146.4,42.53 146.9,42.65 147.4,42.77 147.9,42.89 148.4,43.01 148.9,43.12 149.4,43.24 149.9,43.36 150.4,43.48 150.9,43.59 151.4,43.71 151.9,43.83 152.4,43.94 152.9,44.05 153.4,44.17 153.9,44.28 154.4,44.38 154.9,44.49 155.4,44.6 155.9,44.7 156.4,44.8 156.9,44.9 157.4,45 157.9,45.1 158.4,45.19 158.9,45.29 159.4,45.39 159.9,45.48 160.4,45.58 160.9,45.68 161.4,45.77 161.9,45.87 162.4,45.96 162.9,46.06 163.4,46.15 163.9,46.25 164.4,46.35 164.9,46.44 165.4,46.54 165.9,46.63 166.4,46.73 166.9,46.82 167.4,46.92 167.9,47.02 168.4,47.11 168.9,47.21 169.4,47.3 169.9,47.4 170.4,47.5 170.9,47.59 171.4,47.69 171.9,47.78 172.4,47.88 172.9,47.98 173.4,48.07 173.9,48.17 174.4,48.26 174.9,48.36 175.4,48.46 175.9,48.55 176.4,48.65 176.9,48.74 177.4,48.84 177.9,48.94 178.4,49.03 178.9,49.13 179.4,49.22 179.9,49.32 180.4,49.42 180.9,49.51 181.4,49.61 181.9,49.7 182.4,49.8 182.9,49.9 183.4,49.99 183.9,50.09 184.4,50.19 184.9,50.28 185.4,50.38 185.9,50.48 186.4,50.58 186.9,50.68 187.4,50.78 187.9,50.88 188.4,50.98 188.9,51.08 189.4,51.18 189.9,51.29 190.4,51.39 190.9,51.5 191.4,51.6 191.9,51.7 192.4,51.81 192.9,51.91 193.4,52.02 193.9,52.12 194.4,52.23 194.9,52.33 195.4,52.44 195.9,52.54 196.4,52.64 196.9,52.74 197.4,52.85 197.9,52.94 198.4,53.04 198.9,53.14 199.4,53.23 199.9,53.33 200.4,53.42 200.9,53.51 201.4,53.6 201.9,53.69 202.4,53.78 202.9,53.86 203.4,53.95 203.9,54.04 204.4,54.13 204.9,54.21 205.4,54.3 205.9,54.39 206.4,54.47 206.9,54.56 207.4,54.64 207.9,54.72 208.4,54.8 208.9,54.88 209.4,54.96 209.9,55.03 210.4,55.1 210.9,55.17 211.4,55.24 211.9,55.31 212.4,55.38 212.9,55.45 213.4,55.51 213.9,55.58 214.4,55.64 214.9,55.7 215.4,55.77 215.9,55.83 216.4,55.89 216.9,55.96 217.4,56.02 217.9,56.08 218.4,56.15 218.9,56.21 219.4,56.27 219.9,56.33 220.4,56.4 220.9,56.46 221.4,56.52 221.9,56.58 222.4,56.64 222.9,56.69 223.4,56.75 223.9,56.81 224.4,56.86 224.9,56.92 225.4,56.97 225.9,57.03 226.4,57.08 226.9,57.14 227.4,57.19 227.9,57.24 228.4,57.3 228.9,57.35 229.4,57.41 229.9,57.46 230.4,57.51 230.9,57.57 231.4,57.62 231.9,57.67 232.4,57.72 232.9,57.78 233.4,57.83 233.9,57.88 234.4,57.93 234.9,57.98 235.4,58.03 235.9,58.07 236.4,58.12 236.9,58.17 237.4,58.21 237.9,58.26 238.4,58.31 238.9,58.35 239.4,58.4 239.9,58.45 240.4,58.49 240.9,58.54 241.4,58.58 241.9,58.63 242.4,58.68 242.9,58.73 243.4,58.78 243.9,58.83 244.4,58.88 244.9,58.93 245.4,58.99 245.9,59.04 246.4,59.1 246.9,59.16 247.4,59.23 247.9,59.29 248.4,59.36 248.9,59.42 249.4,59.49 249.9,59.56 250.4,59.63 250.9,59.7 251.4,59.77 251.9,59.84 252.4,59.91 252.9,59.98 253.4,60.05 253.9,60.12 254.4,60.2 254.9,60.27 255.4,60.34 255.9,60.41 256.4,60.48 256.9,60.55 257.4,60.62 257.9,60.69 258.4,60.76 258.9,60.83 259.4,60.91 259.9,60.98 260.4,61.05 260.9,61.12 261.4,61.19 261.9,61.26 262.4,61.33 262.9,61.4 263.4,61.47 263.9,61.53 264.4,61.6 264.9,61.66 265.4,61.73 265.9,61.79 266.4,61.85 266.9,61.91 267.4,61.97 267.9,62.02 268.4,62.08 268.9,62.13 269.4,62.18 269.9,62.23 270.4,62.29 270.9,62.34 271.4,62.39 271.4,69.19 270.9,69.13 270.4,69.07 269.9,69.01 269.4,68.95 268.9,68.89 268.4,68.83 267.9,68.77 267.4,68.7 266.9,68.64 266.4,68.57 265.9,68.5 265.4,68.43 264.9,68.36 264.4,68.29 263.9,68.21 263.4,68.14 262.9,68.06 262.4,67.99 261.9,67.91 261.4,67.83 260.9,67.75 260.4,67.67 259.9,67.59 259.4,67.51 258.9,67.44 258.4,67.36 257.9,67.28 257.4,67.2 256.9,67.12 256.4,67.04 255.9,66.96 255.4,66.88 254.9,66.8 254.4,66.72 253.9,66.65 253.4,66.57 252.9,66.49 252.4,66.41 251.9,66.33 251.4,66.25 250.9,66.17 250.4,66.09 249.9,66.02 249.4,65.94 248.9,65.86 248.4,65.79 247.9,65.71 247.4,65.64 246.9,65.57 246.4,65.5 245.9,65.43 245.4,65.37 244.9,65.3 244.4,65.24 243.9,65.18 243.4,65.12 242.9,65.07 242.4,65.01 241.9,64.95 241.4,64.9 240.9,64.84 240.4,64.79 239.9,64.74 239.4,64.68 238.9,64.63 238.4,64.57 237.9,64.52 237.4,64.46 236.9,64.41 236.4,64.35 235.9,64.3 235.4,64.24 234.9,64.18 234.4,64.13 233.9,64.07 233.4,64.01 232.9,63.95 232.4,63.89 231.9,63.83 231.4,63.77 230.9,63.71 230.4,63.64 229.9,63.58 229.4,63.52 228.9,63.46 228.4,63.39 227.9,63.33 227.4,63.27 226.9,63.21 226.4,63.14 225.9,63.08 225.4,63.02 224.9,62.95 224.4,62.89 223.9,62.82 223.4,62.76 222.9,62.69 222.4,62.63 221.9,62.56 221.4,62.49 220.9,62.42 220.4,62.35 219.9,62.28 219.4,62.21 218.9,62.14 218.4,62.07 217.9,62 217.4,61.93 216.9,61.85 216.4,61.78 215.9,61.71 215.4,61.64 214.9,61.56 214.4,61.49 213.9,61.42 213.4,61.34 212.9,61.27 212.4,61.2 211.9,61.12 211.4,61.04 210.9,60.96 210.4,60.88 209.9,60.8 209.4,60.72 208.9,60.63 208.4,60.55 207.9,60.46 207.4,60.37 206.9,60.27 206.4,60.18 205.9,60.09 205.4,59.99 204.9,59.9 204.4,59.8 203.9,59.7 203.4,59.61 202.9,59.51 202.4,59.41 201.9,59.32 201.4,59.22 200.9,59.12 200.4,59.02 199.9,58.92 199.4,58.81 198.9,58.71 198.4,58.6 197.9,58.5 197.4,58.39 196.9,58.28 196.4,58.17 195.9,58.06 195.4,57.94 194.9,57.83 194.4,57.72 193.9,57.6 193.4,57.49 192.9,57.38 192.4,57.26 191.9,57.15 191.4,57.03 190.9,56.92 190.4,56.8 189.9,56.69 189.4,56.58 188.9,56.47 188.4,56.35 187.9,56.24 187.4,56.13 186.9,56.02 186.4,55.92 185.9,55.81 185.4,55.7 184.9,55.59 184.4,55.49 183.9,55.38 183.4,55.27 182.9,55.17 182.4,55.06 181.9,54.96 181.4,54.85 180.9,54.74 180.4,54.64 179.9,54.53 179.4,54.43 178.9,54.32 178.4,54.21 177.9,54.11 177.4,54 176.9,53.9 176.4,53.79 175.9,53.69 175.4,53.58 174.9,53.47 174.4,53.37 173.9,53.26 173.4,53.16 172.9,53.05 172.4,52.94 171.9,52.84 171.4,52.73 170.9,52.63 170.4,52.52 169.9,52.41 169.4,52.31 168.9,52.2 168.4,52.1 167.9,51.99 167.4,51.89 166.9,51.78 166.4,51.67 165.9,51.57 165.4,51.46 164.9,51.36 164.4,51.25 163.9,51.14 163.4,51.04 162.9,50.93 162.4,50.83 161.9,50.72 161.4,50.61 160.9,50.51 160.4,50.4 159.9,50.29 159.4,50.19 158.9,50.08 158.4,49.97 157.9,49.87 157.4,49.76 156.9,49.65 156.4,49.54 155.9,49.43 155.4,49.31 154.9,49.2 154.4,49.08 153.9,48.96 153.4,48.84 152.9,48.72 152.4,48.59 151.9,48.47 151.4,48.34 150.9,48.21 150.4,48.09 149.9,47.96 149.4,47.83 148.9,47.7 148.4,47.57 147.9,47.44 147.4,47.31 146.9,47.18 146.4,47.05 145.9,46.92 145.4,46.79 144.9,46.66 144.4,46.53 143.9,46.4 143.4,46.27 142.9,46.14 142.4,46 141.9,45.87 141.4,45.74 140.9,45.61 140.4,45.47 139.9,45.34 139.4,45.2 138.9,45.07 138.4,44.94 137.9,44.8 137.4,44.67 136.9,44.53 136.4,44.4 135.9,44.26 135.4,44.13 134.9,43.99 134.4,43.85 133.9,43.71 133.4,43.57 132.9,43.43 132.4,43.28 131.9,43.14 131.4,42.99 130.9,42.84 130.4,42.7 129.9,42.55 129.4,42.4 128.9,42.24 128.4,42.09 127.9,41.94 127.4,41.79 126.9,41.64 126.4,41.48 125.9,41.33 125.4,41.18 124.9,41.02 124.4,40.87 123.9,40.72 123.4,40.56 122.9,40.41 122.4,40.25 121.9,40.1 121.4,39.94 120.9,39.79 120.4,39.63 119.9,39.47 119.4,39.32 118.9,39.16 118.4,39 117.9,38.85 117.4,38.69 116.9,38.53 116.4,38.37 115.9,38.22 115.4,38.06 114.9,37.9 114.4,37.74 113.9,37.58 113.4,37.43 112.9,37.27 112.4,37.11 111.9,36.95 111.4,36.79 110.9,36.63 110.4,36.47 109.9,36.32 109.4,36.16 108.9,36 108.4,35.84 107.9,35.68 107.4,35.52 106.9,35.36 106.4,35.2 105.9,35.04 105.4,34.88 104.9,34.71 104.4,34.55 103.9,34.39 103.4,34.23 102.9,34.07 102.4,33.91 101.9,33.74 101.4,33.58 100.9,33.41 100.4,33.25 99.9,33.08 99.4,32.91 98.9,32.73 98.4,32.56 97.9,32.38 97.4,32.21 96.9,32.03 96.4,31.85 95.9,31.67 95.4,31.49 94.9,31.31 94.4,31.13 93.9,30.95 93.4,30.77 92.9,30.58 92.4,30.4 91.9,30.22 91.4,30.04 90.9,29.86 90.4,29.68 89.9,29.5 89.4,29.32 88.9,29.14 88.4,28.97 87.9,28.79 87.4,28.61 86.9,28.44 86.4,28.26 85.9,28.09 85.4,27.91 84.9,27.74 84.4,27.56 83.9,27.39 83.4,27.22 82.9,27.04 82.4,26.87 81.9,26.7 81.4,26.53 80.9,26.36 80.4,26.19 79.9,26.03 79.4,25.87 78.9,25.71 78.4,25.55 77.9,25.4 77.4,25.26 76.9,25.12 76.4,24.98 75.9,24.84 75.4,24.71 74.9,24.58 74.4,24.46 73.9,24.33 73.4,24.21 72.9,24.09 72.4,23.97 71.9,23.85 71.4,23.73 70.9,23.61 70.4,23.49 69.9,23.37 69.4,23.25 68.9,23.13 68.4,23.01 67.9,22.9 67.4,22.78 66.9,22.66 66.4,22.54 65.9,22.43 65.4,22.31 64.9,22.2 64.4,22.08 63.9,21.97 63.4,21.86 62.9,21.74 62.4,21.63 61.9,21.52 61.4,21.4 60.9,21.29 60.4,21.17 59.9,21.06 59.4,20.94 58.9,20.83 58.4,20.71 57.9,20.6 57.4,20.48 56.9,20.37 56.4,20.25 55.9,20.13 50.5,19.08 49.9,17.4" fill="#F8766D" fill-opacity="0.28"/>
<polygon points="49.9,15.9 50.5,17.92 55.9,19.09 56.4,19.18 56.9,19.26 57.4,19.35 57.9,19.44 58.4,19.52 58.9,19.61 59.4,19.7 59.9,19.79 60.4,19.87 60.9,19.96 61.4,20.05 61.9,20.14 62.4,20.23 62.9,20.32 63.4,20.41 63.9,20.5 64.4,20.59 64.9,20.68 65.4,20.77 65.9,20.85 66.4,20.94 66.9,21.03 67.4,21.12 67.9,21.21 68.4,21.3 68.9,21.38 69.4,21.47 69.9,21.56 70.4,21.65 70.9,21.73 71.4,21.82 71.9,21.91 72.4,21.99 72.9,22.08 73.4,22.17 73.9,22.25 74.4,22.34 74.9,22.43 75.4,22.51 75.9,22.59 76.4,22.68 76.9,22.76 77.4,22.84 77.9,22.92 78.4,23 78.9,23.07 79.4,23.15 79.9,23.22 80.4,23.29 80.9,23.37 81.4,23.44 81.9,23.51 82.4,23.58 82.9,23.65 83.4,23.72 83.9,23.79 84.4,23.86 84.9,23.93 85.4,24 85.9,24.07 86.4,24.14 86.9,24.22 87.4,24.29 87.9,24.36 88.4,24.43 88.9,24.51 89.4,24.58 89.9,24.65 90.4,24.73 90.9,24.8 91.4,24.88 91.9,24.95 92.4,25.03 92.9,25.1 93.4,25.18 93.9,25.25 94.4,25.33 94.9,25.41 95.4,25.48 95.9,25.56 96.4,25.65 96.9,25.73 97.4,25.82 97.9,25.91 98.4,26 98.9,26.1 99.4,26.2 99.9,26.31 100.4,26.42 100.9,26.54 101.4,26.66 101.9,26.79 102.4,26.92 102.9,27.05 103.4,27.19 103.9,27.32 104.4,27.46 104.9,27.59 105.4,27.73 105.9,27.87 106.4,28 106.9,28.14 107.4,28.28 107.9,28.41 108.4,28.54 108.9,28.67 109.4,28.8 109.9,28.92 110.4,29.04 110.9,29.16 111.4,29.27 111.9,29.38 112.4,29.49 112.9,29.59 113.4,29.69 113.9,29.78 114.4,29.88 114.9,29.97 115.4,30.06 115.9,30.16 116.4,30.25 116.9,30.34 117.4,30.43 117.9,30.52 118.4,30.61 118.9,30.7 119.4,30.79 119.9,30.88 120.4,30.98 120.9,31.07 121.4,31.16 121.9,31.25 122.4,31.35 122.9,31.44 123.4,31.53 123.9,31.63 124.4,31.72 124.9,31.82 125.4,31.91 125.9,32.01 126.4,32.1 126.9,32.2 127.4,32.29 127.9,32.39 128.4,32.48 128.9,32.58 129.4,32.67 129.9,32.77 130.4,32.86 130.9,32.96 131.4,33.06 131.9,33.15 132.4,33.25 132.9,33.34 133.4,33.44 133.9,33.53 134.4,33.63 134.9,33.72 135.4,33.82 135.9,33.92 136.4,34.01 136.9,34.11 137.4,34.2 137.9,34.3 138.4,34.39 138.9,34.49 139.4,34.58 139.9,34.68 140.4,34.78 140.9,34.87 141.4,34.97 141.9,35.06 142.4,35.16 142.9,35.25 143.4,35.35 143.9,35.45 144.4,35.54 144.9,35.64 145.4,35.73 145.9,35.83 146.4,35.93 146.9,36.02 147.4,36.12 147.9,36.21 148.4,36.31 148.9,36.4 149.4,36.5 149.9,36.6 150.4,36.69 150.9,36.79 151.4,36.89 151.9,36.99 152.4,37.09 152.9,37.19 153.4,37.3 153.9,37.4 154.4,37.51 154.9,37.62 155.4,37.73 155.9,37.84 156.4,37.96 156.9,38.08 157.4,38.2 157.9,38.32 158.4,38.44 158.9,38.56 159.4,38.68 159.9,38.8 160.4,38.92 160.9,39.04 161.4,39.17 161.9,39.29 162.4,39.41 162.9,39.53 163.4,39.65 163.9,39.76 164.4,39.88 164.9,39.99 165.4,40.11 165.9,40.22 166.4,40.32 166.9,40.43 167.4,40.54 167.9,40.64 168.4,40.74 168.9,40.84 169.4,40.94 169.9,41.04 170.4,41.13 170.9,41.23 171.4,41.33 171.9,41.42 172.4,41.52 172.9,41.62 173.4,41.71 173.9,41.81 174.4,41.9 174.9,42 175.4,42.1 175.9,42.19 176.4,42.29 176.9,42.39 177.4,42.48 177.9,42.58 178.4,42.68 178.9,42.77 179.4,42.87 179.9,42.96 180.4,43.06 180.9,43.16 181.4,43.25 181.9,43.35 182.4,43.45 182.9,43.54 183.4,43.64 183.9,43.74 184.4,43.84 184.9,43.94 185.4,44.04 185.9,44.14 186.4,44.24 186.9,44.34 187.4,44.45 187.9,44.56 188.4,44.67 188.9,44.78 189.4,44.89 189.9,45.01 190.4,45.12 190.9,45.24 191.4,45.36 191.9,45.47 192.4,45.59 192.9,45.71 193.4,45.83 193.9,45.95 194.4,46.07 194.9,46.19 195.4,46.31 195.9,46.43 196.4,46.55 196.9,46.67 197.4,46.79 197.9,46.91 198.4,47.03 198.9,47.15 199.4,47.27 199.9,47.39 200.4,47.5 200.9,47.62 201.4,47.74 201.9,47.86 202.4,47.98 202.9,48.1 203.4,48.22 203.9,48.34 204.4,48.46 204.9,48.58 205.4,48.69 205.9,48.81 206.4,48.92 206.9,49.03 207.4,49.14 207.9,49.25 208.4,49.35 208.9,49.44 209.4,49.53 209.9,49.61 210.4,49.69 210.9,49.77 211.4,49.84 211.9,49.9 212.4,49.96 212.9,50.02 213.4,50.08 213.9,50.13 214.4,50.19 214.9,50.24 215.4,50.29 215.9,50.35 216.4,50.4 216.9,50.45 217.4,50.5 217.9,50.55 218.4,50.6 218.9,50.66 219.4,50.71 219.9,50.76 220.4,50.81 220.9,50.86 221.4,50.91 221.9,50.96 222.4,51.01 222.9,51.05 223.4,51.1 223.9,51.15 224.4,51.2 224.9,51.24 225.4,51.29 225.9,51.34 226.4,51.38 226.9,51.43 227.4,51.48 227.9,51.52 228.4,51.57 228.9,51.61 229.4,51.66 229.9,51.71 230.4,51.75 230.9,51.8 231.4,51.84 231.9,51.89 232.4,51.93 232.9,51.97 233.4,52.02 233.9,52.06 234.4,52.1 234.9,52.14 235.4,52.18 235.9,52.22 236.4,52.26 236.9,52.3 237.4,52.34 237.9,52.38 238.4,52.42 238.9,52.45 239.4,52.49 239.9,52.53 240.4,52.57 240.9,52.6 241.4,52.64 241.9,52.68 242.4,52.72 242.9,52.76 243.4,52.8 243.9,52.84 244.4,52.88 244.9,52.92 245.4,52.96 245.9,53 246.4,53.04 246.9,53.08 247.4,53.13 247.9,53.17 248.4,53.22 248.9,53.26 249.4,53.31 249.9,53.35 250.4,53.4 250.9,53.44 251.4,53.49 251.9,53.54 252.4,53.58 252.9,53.63 253.4,53.68 253.9,53.72 254.4,53.77 254.9,53.82 255.4,53.87 255.9,53.93 256.4,53.98 256.9,54.04 257.4,54.1 257.9,54.16 258.4,54.23 258.9,54.3 259.4,54.37 259.9,54.44 260.4,54.52 260.9,54.6 261.4,54.68 261.9,54.77 262.4,54.86 262.9,54.95 263.4,55.05 263.9,55.16 264.4,55.27 264.9,55.4 265.4,55.53 265.9,55.67 266.4,55.82 266.9,55.98 267.4,56.16 267.9,56.34 268.4,56.53 268.9,56.72 269.4,56.92 269.9,57.13 270.4,57.34 270.9,57.55 271.4,57.76 271.4,64.16 270.9,63.94 270.4,63.72 269.9,63.51 269.4,63.29 268.9,63.09 268.4,62.88 267.9,62.69 267.4,62.5 266.9,62.32 266.4,62.15 265.9,61.99 265.4,61.84 264.9,61.7 264.4,61.57 263.9,61.45 263.4,61.34 262.9,61.23 262.4,61.13 261.9,61.03 261.4,60.94 260.9,60.85 260.4,60.76 259.9,60.67 259.4,60.59 258.9,60.51 258.4,60.43 257.9,60.36 257.4,60.29 256.9,60.22 256.4,60.16 255.9,60.1 255.4,60.04 254.9,59.98 254.4,59.92 253.9,59.86 253.4,59.81 252.9,59.75 252.4,59.7 251.9,59.65 251.4,59.59 250.9,59.54 250.4,59.48 249.9,59.43 249.4,59.38 248.9,59.32 248.4,59.27 247.9,59.22 247.4,59.17 246.9,59.12 246.4,59.07 245.9,59.02 245.4,58.97 244.9,58.92 244.4,58.87 243.9,58.82 243.4,58.78 242.9,58.73 242.4,58.68 241.9,58.64 241.4,58.59 240.9,58.55 240.4,58.5 239.9,58.45 239.4,58.41 238.9,58.36 238.4,58.32 237.9,58.27 237.4,58.22 236.9,58.18 236.4,58.13 235.9,58.08 235.4,58.04 234.9,57.99 234.4,57.94 233.9,57.89 233.4,57.84 232.9,57.79 232.4,57.74 231.9,57.69 231.4,57.63 230.9,57.58 230.4,57.53 229.9,57.47 229.4,57.42 228.9,57.37 228.4,57.31 227.9,57.26 227.4,57.2 226.9,57.15 226.4,57.1 225.9,57.04 225.4,56.99 224.9,56.93 224.4,56.88 223.9,56.82 223.4,56.77 222.9,56.71 222.4,56.65 221.9,56.6 221.4,56.54 220.9,56.48 220.4,56.42 219.9,56.37 219.4,56.31 218.9,56.25 218.4,56.19 217.9,56.13 217.4,56.07 216.9,56.01 216.4,55.95 215.9,55.89 215.4,55.83 214.9,55.77 214.4,55.7 213.9,55.64 213.4,55.58 212.9,55.51 212.4,55.45 211.9,55.38 211.4,55.3 210.9,55.23 210.4,55.14 209.9,55.06 209.4,54.96 208.9,54.87 208.4,54.76 207.9,54.66 207.4,54.54 206.9,54.43 206.4,54.31 205.9,54.19 205.4,54.06 204.9,53.94 204.4,53.81 203.9,53.68 203.4,53.56 202.9,53.43 202.4,53.3 201.9,53.17 201.4,53.04 200.9,52.92 200.4,52.79 199.9,52.66 199.4,52.53 198.9,52.4 198.4,52.27 197.9,52.15 197.4,52.02 196.9,51.89 196.4,51.76 195.9,51.63 195.4,51.51 194.9,51.38 194.4,51.25 193.9,51.12 193.4,50.99 192.9,50.87 192.4,50.74 191.9,50.61 191.4,50.48 190.9,50.36 190.4,50.23 189.9,50.11 189.4,49.98 188.9,49.86 188.4,49.74 187.9,49.62 187.4,49.51 186.9,49.39 186.4,49.28 185.9,49.17 185.4,49.06 184.9,48.95 184.4,48.84 183.9,48.73 183.4,48.63 182.9,48.52 182.4,48.41 181.9,48.31 181.4,48.2 180.9,48.1 180.4,47.99 179.9,47.89 179.4,47.78 178.9,47.68 178.4,47.57 177.9,47.46 177.4,47.36 176.9,47.25 176.4,47.15 175.9,47.04 175.4,46.94 174.9,46.83 174.4,46.73 173.9,46.62 173.4,46.52 172.9,46.41 172.4,46.3 171.9,46.2 171.4,46.09 170.9,45.99 170.4,45.88 169.9,45.77 169.4,45.67 168.9,45.56 168.4,45.45 167.9,45.34 167.4,45.23 166.9,45.11 166.4,45 165.9,44.88 165.4,44.76 164.9,44.64 164.4,44.51 163.9,44.39 163.4,44.26 162.9,44.13 162.4,44 161.9,43.87 161.4,43.74 160.9,43.61 160.4,43.48 159.9,43.35 159.4,43.22 158.9,43.09 158.4,42.95 157.9,42.82 157.4,42.7 156.9,42.57 156.4,42.44 155.9,42.31 155.4,42.19 154.9,42.07 154.4,41.95 153.9,41.83 153.4,41.72 152.9,41.6 152.4,41.49 151.9,41.38 151.4,41.27 150.9,41.16 150.4,41.06 149.9,40.95 149.4,40.84 148.9,40.74 148.4,40.63 147.9,40.52 147.4,40.42 146.9,40.31 146.4,40.21 145.9,40.1 145.4,39.99 144.9,39.89 144.4,39.78 143.9,39.67 143.4,39.57 142.9,39.46 142.4,39.36 141.9,39.25 141.4,39.14 140.9,39.04 140.4,38.93 139.9,38.83 139.4,38.72 138.9,38.61 138.4,38.51 137.9,38.4 137.4,38.3 136.9,38.19 136.4,38.08 135.9,37.98 135.4,37.87 134.9,37.76 134.4,37.66 133.9,37.55 133.4,37.44 132.9,37.34 132.4,37.23 131.9,37.13 131.4,37.02 130.9,36.91 130.4,36.81 129.9,36.7 129.4,36.59 128.9,36.49 128.4,36.38 127.9,36.27 127.4,36.17 126.9,36.06 126.4,35.96 125.9,35.85 125.4,35.74 124.9,35.64 124.4,35.53 123.9,35.42 123.4,35.32 122.9,35.21 122.4,35.11 121.9,35 121.4,34.9 120.9,34.8 120.4,34.69 119.9,34.59 119.4,34.49 118.9,34.38 118.4,34.28 117.9,34.18 117.4,34.08 116.9,33.97 116.4,33.87 115.9,33.77 115.4,33.66 114.9,33.56 114.4,33.45 113.9,33.35 113.4,33.24 112.9,33.13 112.4,33.01 111.9,32.9 111.4,32.77 110.9,32.65 110.4,32.52 109.9,32.39 109.4,32.25 108.9,32.11 108.4,31.97 107.9,31.83 107.4,31.68 106.9,31.53 106.4,31.38 105.9,31.23 105.4,31.08 104.9,30.93 104.4,30.78 103.9,30.64 103.4,30.49 102.9,30.34 102.4,30.2 101.9,30.05 101.4,29.91 100.9,29.78 100.4,29.65 99.9,29.52 99.4,29.4 98.9,29.28 98.4,29.17 97.9,29.06 97.4,28.96 96.9,28.86 96.4,28.76 95.9,28.67 95.4,28.57 94.9,28.48 94.4,28.39 93.9,28.3 93.4,28.21 92.9,28.12 92.4,28.03 91.9,27.94 91.4,27.85 90.9,27.76 90.4,27.67 89.9,27.59 89.4,27.5 88.9,27.41 88.4,27.32 87.9,27.23 87.4,27.15 86.9,27.06 86.4,26.97 85.9,26.89 85.4,26.8 84.9,26.72 84.4,26.63 83.9,26.54 83.4,26.46 82.9,26.37 82.4,26.29 81.9,26.2 81.4,26.11 80.9,26.02 80.4,25.94 79.9,25.85 79.4,25.76 78.9,25.67 78.4,25.57 77.9,25.48 77.4,25.38 76.9,25.29 76.4,25.19 75.9,25.09 75.4,24.99 74.9,24.88 74.4,24.78 73.9,24.68 73.4,24.57 72.9,24.47 72.4,24.36 71.9,24.26 71.4,24.15 70.9,24.05 70.4,23.94 69.9,23.83 69.4,23.73 68.9,23.62 68.4,23.51 67.9,23.41 67.4,23.3 66.9,23.19 66.4,23.08 65.9,22.97 65.4,22.86 64.9,22.75 64.4,22.64 63.9,22.53 63.4,22.42 62.9,22.3 62.4,22.19 61.9,22.08 61.4,21.97 60.9,21.85 60.4,21.74 59.9,21.63 59.4,21.51 58.9,21.4 58.4,21.29 57.9,21.17 57.4,21.06 56.9,20.94 56.4,20.83 55.9,20.71 50.5,19.08 49.9,16.9" fill="#00BFC4" fill-opacity="0.28"/>
<polyline points="49.9,16.9 50.5,18.5 55.9,19.3 56.4,19.4 56.9,19.5 57.4,19.6 57.9,19.7 58.4,19.8 58.9,19.91 59.4,20.01 59.9,20.11 60.4,20.21 60.9,20.31 61.4,20.41 61.9,20.51 62.4,20.61 62.9,20.71 63.4,20.82 63.9,20.92 64.4,21.02 64.9,21.12 65.4,21.23 65.9,21.33 66.4,21.43 66.9,21.54 67.4,21.65 67.9,21.75 68.4,21.86 68.9,21.97 69.4,22.08 69.9,22.18 70.4,22.29 70.9,22.4 71.4,22.51 71.9,22.62 72.4,22.73 72.9,22.85 73.4,22.96 73.9,23.07 74.4,23.18 74.9,23.3 75.4,23.42 75.9,23.54 76.4,23.67 76.9,23.79 77.4,23.93 77.9,24.06 78.4,24.21 78.9,24.35 79.4,24.5 79.9,24.65 80.4,24.81 80.9,24.97 81.4,25.13 81.9,25.29 82.4,25.46 82.9,25.62 83.4,25.78 83.9,25.95 84.4,26.11 84.9,26.28 85.4,26.45 85.9,26.61 86.4,26.78 86.9,26.95 87.4,27.11 87.9,27.28 88.4,27.45 88.9,27.62 89.4,27.79 89.9,27.96 90.4,28.13 90.9,28.31 91.4,28.48 91.9,28.65 92.4,28.83 92.9,29 93.4,29.17 93.9,29.35 94.4,29.52 94.9,29.7 95.4,29.87 95.9,30.04 96.4,30.21 96.9,30.39 97.4,30.56 97.9,30.73 98.4,30.89 98.9,31.06 99.4,31.23 99.9,31.39 100.4,31.55 100.9,31.71 101.4,31.87 101.9,32.03 102.4,32.18 102.9,32.34 103.4,32.49 103.9,32.65 104.4,32.8 104.9,32.96 105.4,33.11 105.9,33.26 106.4,33.42 106.9,33.57 107.4,33.73 107.9,33.88 108.4,34.03 108.9,34.18 109.4,34.34 109.9,34.49 110.4,34.64 110.9,34.8 111.4,34.95 111.9,35.1 112.4,35.25 112.9,35.4 113.4,35.56 113.9,35.71 114.4,35.86 114.9,36.01 115.4,36.16 115.9,36.31 116.4,36.46 116.9,36.62 117.4,36.77 117.9,36.92 118.4,37.07 118.9,37.22 119.4,37.37 119.9,37.52 120.4,37.67 120.9,37.82 121.4,37.97 121.9,38.12 122.4,38.27 122.9,38.42 123.4,38.57 123.9,38.71 124.4,38.86 124.9,39.01 125.4,39.16 125.9,39.3 126.4,39.45 126.9,39.6 127.4,39.74 127.9,39.89 128.4,40.04 128.9,40.18 129.4,40.33 129.9,40.47 130.4,40.62 130.9,40.76 131.4,40.9 131.9,41.04 132.4,41.18 132.9,41.32 133.4,41.45 133.9,41.59 134.4,41.72 134.9,41.86 135.4,41.99 135.9,42.12 136.4,42.25 136.9,42.38 137.4,42.51 137.9,42.64 138.4,42.76 138.9,42.89 139.4,43.02 139.9,43.15 140.4,43.28 140.9,43.4 141.4,43.53 141.9,43.66 142.4,43.79 142.9,43.91 143.4,44.04 143.9,44.17 144.4,44.29 144.9,44.42 145.4,44.54 145.9,44.67 146.4,44.79 146.9,44.92 147.4,45.04 147.9,45.16 148.4,45.29 148.9,45.41 149.4,45.54 149.9,45.66 150.4,45.78 150.9,45.9 151.4,46.03 151.9,46.15 152.4,46.27 152.9,46.39 153.4,46.5 153.9,46.62 154.4,46.73 154.9,46.84 155.4,46.95 155.9,47.06 156.4,47.17 156.9,47.27 157.4,47.38 157.9,47.48 158.4,47.58 158.9,47.69 159.4,47.79 159.9,47.89 160.4,47.99 160.9,48.09 161.4,48.19 161.9,48.29 162.4,48.39 162.9,48.49 163.4,48.6 163.9,48.7 164.4,48.8 164.9,48.9 165.4,49 165.9,49.1 166.4,49.2 166.9,49.3 167.4,49.4 167.9,49.5 168.4,49.6 168.9,49.71 169.4,49.81 169.9,49.91 170.4,50.01 170.9,50.11 171.4,50.21 171.9,50.31 172.4,50.41 172.9,50.51 173.4,50.61 173.9,50.71 174.4,50.82 174.9,50.92 175.4,51.02 175.9,51.12 176.4,51.22 176.9,51.32 177.4,51.42 177.9,51.52 178.4,51.62 178.9,51.72 179.4,51.82 179.9,51.93 180.4,52.03 180.9,52.13 181.4,52.23 181.9,52.33 182.4,52.43 182.9,52.53 183.4,52.63 183.9,52.73 184.4,52.84 184.9,52.94 185.4,53.04 185.9,53.14 186.4,53.25 186.9,53.35 187.4,53.46 187.9,53.56 188.4,53.67 188.9,53.77 189.4,53.88 189.9,53.99 190.4,54.1 190.9,54.21 191.4,54.32 191.9,54.43 192.4,54.54 192.9,54.64 193.4,54.75 193.9,54.86 194.4,54.97 194.9,55.08 195.4,55.19 195.9,55.3 196.4,55.41 196.9,55.51 197.4,55.62 197.9,55.72 198.4,55.82 198.9,55.92 199.4,56.02 199.9,56.12 200.4,56.22 200.9,56.31 201.4,56.41 201.9,56.5 202.4,56.59 202.9,56.69 203.4,56.78 203.9,56.87 204.4,56.96 204.9,57.05 205.4,57.15 205.9,57.24 206.4,57.33 206.9,57.41 207.4,57.5 207.9,57.59 208.4,57.67 208.9,57.76 209.4,57.84 209.9,57.92 210.4,57.99 210.9,58.07 211.4,58.14 211.9,58.22 212.4,58.29 212.9,58.36 213.4,58.43 213.9,58.5 214.4,58.57 214.9,58.63 215.4,58.7 215.9,58.77 216.4,58.84 216.9,58.91 217.4,58.97 217.9,59.04 218.4,59.11 218.9,59.18 219.4,59.24 219.9,59.31 220.4,59.37 220.9,59.44 221.4,59.5 221.9,59.57 222.4,59.63 222.9,59.69 223.4,59.75 223.9,59.82 224.4,59.88 224.9,59.94 225.4,59.99 225.9,60.05 226.4,60.11 226.9,60.17 227.4,60.23 227.9,60.29 228.4,60.35 228.9,60.4 229.4,60.46 229.9,60.52 230.4,60.58 230.9,60.64 231.4,60.69 231.9,60.75 232.4,60.81 232.9,60.86 233.4,60.92 233.9,60.97 234.4,61.03 234.9,61.08 235.4,61.13 235.9,61.18 236.4,61.24 236.9,61.29 237.4,61.34 237.9,61.39 238.4,61.44 238.9,61.49 239.4,61.54 239.9,61.59 240.4,61.64 240.9,61.69 241.4,61.74 241.9,61.79 242.4,61.84 242.9,61.9 243.4,61.95 243.9,62 244.4,62.06 244.9,62.12 245.4,62.18 245.9,62.24 246.4,62.3 246.9,62.37 247.4,62.43 247.9,62.5 248.4,62.57 248.9,62.64 249.4,62.71 249.9,62.79 250.4,62.86 250.9,62.94 251.4,63.01 251.9,63.09 252.4,63.16 252.9,63.24 253.4,63.31 253.9,63.38 254.4,63.46 254.9,63.53 255.4,63.61 255.9,63.68 256.4,63.76 256.9,63.83 257.4,63.91 257.9,63.98 258.4,64.06 258.9,64.13 259.4,64.21 259.9,64.28 260.4,64.36 260.9,64.43 261.4,64.51 261.9,64.58 262.4,64.66 262.9,64.73 263.4,64.8 263.9,64.87 264.4,64.94 264.9,65.01 265.4,65.08 265.9,65.15 266.4,65.21 266.9,65.27 267.4,65.33 267.9,65.39 268.4,65.45 268.9,65.51 269.4,65.57 269.9,65.62 270.4,65.68 270.9,65.73 271.4,65.79" fill="none" stroke="#F8766D" stroke-width="1.7" stroke-linejoin="round"/>
<polyline points="49.9,16.4 50.5,18.5 55.9,19.9 56.4,20 56.9,20.1 57.4,20.2 57.9,20.3 58.4,20.4 58.9,20.51 59.4,20.61 59.9,20.71 60.4,20.81 60.9,20.91 61.4,21.01 61.9,21.11 62.4,21.21 62.9,21.31 63.4,21.41 63.9,21.51 64.4,21.61 64.9,21.71 65.4,21.81 65.9,21.91 66.4,22.01 66.9,22.11 67.4,22.21 67.9,22.31 68.4,22.4 68.9,22.5 69.4,22.6 69.9,22.7 70.4,22.79 70.9,22.89 71.4,22.99 71.9,23.08 72.4,23.18 72.9,23.27 73.4,23.37 73.9,23.47 74.4,23.56 74.9,23.65 75.4,23.75 75.9,23.84 76.4,23.93 76.9,24.02 77.4,24.11 77.9,24.2 78.4,24.28 78.9,24.37 79.4,24.45 79.9,24.53 80.4,24.61 80.9,24.69 81.4,24.77 81.9,24.85 82.4,24.93 82.9,25.01 83.4,25.09 83.9,25.17 84.4,25.25 84.9,25.32 85.4,25.4 85.9,25.48 86.4,25.56 86.9,25.64 87.4,25.72 87.9,25.8 88.4,25.88 88.9,25.96 89.4,26.04 89.9,26.12 90.4,26.2 90.9,26.28 91.4,26.36 91.9,26.45 92.4,26.53 92.9,26.61 93.4,26.69 93.9,26.78 94.4,26.86 94.9,26.94 95.4,27.03 95.9,27.12 96.4,27.2 96.9,27.29 97.4,27.39 97.9,27.48 98.4,27.59 98.9,27.69 99.4,27.8 99.9,27.92 100.4,28.04 100.9,28.16 101.4,28.29 101.9,28.42 102.4,28.56 102.9,28.7 103.4,28.84 103.9,28.98 104.4,29.12 104.9,29.26 105.4,29.41 105.9,29.55 106.4,29.69 106.9,29.84 107.4,29.98 107.9,30.12 108.4,30.26 108.9,30.39 109.4,30.53 109.9,30.66 110.4,30.78 110.9,30.9 111.4,31.02 111.9,31.14 112.4,31.25 112.9,31.36 113.4,31.46 113.9,31.57 114.4,31.67 114.9,31.77 115.4,31.86 115.9,31.96 116.4,32.06 116.9,32.16 117.4,32.25 117.9,32.35 118.4,32.45 118.9,32.54 119.4,32.64 119.9,32.74 120.4,32.83 120.9,32.93 121.4,33.03 121.9,33.13 122.4,33.23 122.9,33.33 123.4,33.43 123.9,33.53 124.4,33.63 124.9,33.73 125.4,33.83 125.9,33.93 126.4,34.03 126.9,34.13 127.4,34.23 127.9,34.33 128.4,34.43 128.9,34.53 129.4,34.63 129.9,34.73 130.4,34.84 130.9,34.94 131.4,35.04 131.9,35.14 132.4,35.24 132.9,35.34 133.4,35.44 133.9,35.54 134.4,35.64 134.9,35.74 135.4,35.84 135.9,35.95 136.4,36.05 136.9,36.15 137.4,36.25 137.9,36.35 138.4,36.45 138.9,36.55 139.4,36.65 139.9,36.75 140.4,36.85 140.9,36.96 141.4,37.06 141.9,37.16 142.4,37.26 142.9,37.36 143.4,37.46 143.9,37.56 144.4,37.66 144.9,37.76 145.4,37.86 145.9,37.96 146.4,38.07 146.9,38.17 147.4,38.27 147.9,38.37 148.4,38.47 148.9,38.57 149.4,38.67 149.9,38.77 150.4,38.88 150.9,38.98 151.4,39.08 151.9,39.19 152.4,39.29 152.9,39.4 153.4,39.51 153.9,39.62 154.4,39.73 154.9,39.84 155.4,39.96 155.9,40.08 156.4,40.2 156.9,40.32 157.4,40.45 157.9,40.57 158.4,40.7 158.9,40.82 159.4,40.95 159.9,41.07 160.4,41.2 160.9,41.33 161.4,41.45 161.9,41.58 162.4,41.71 162.9,41.83 163.4,41.95 163.9,42.08 164.4,42.2 164.9,42.32 165.4,42.43 165.9,42.55 166.4,42.66 166.9,42.77 167.4,42.88 167.9,42.99 168.4,43.09 168.9,43.2 169.4,43.3 169.9,43.4 170.4,43.51 170.9,43.61 171.4,43.71 171.9,43.81 172.4,43.91 172.9,44.01 173.4,44.11 173.9,44.21 174.4,44.32 174.9,44.42 175.4,44.52 175.9,44.62 176.4,44.72 176.9,44.82 177.4,44.92 177.9,45.02 178.4,45.12 178.9,45.22 179.4,45.32 179.9,45.43 180.4,45.53 180.9,45.63 181.4,45.73 181.9,45.83 182.4,45.93 182.9,46.03 183.4,46.13 183.9,46.24 184.4,46.34 184.9,46.44 185.4,46.55 185.9,46.65 186.4,46.76 186.9,46.87 187.4,46.98 187.9,47.09 188.4,47.2 188.9,47.32 189.4,47.44 189.9,47.56 190.4,47.68 190.9,47.8 191.4,47.92 191.9,48.04 192.4,48.17 192.9,48.29 193.4,48.41 193.9,48.54 194.4,48.66 194.9,48.78 195.4,48.91 195.9,49.03 196.4,49.16 196.9,49.28 197.4,49.4 197.9,49.53 198.4,49.65 198.9,49.77 199.4,49.9 199.9,50.02 200.4,50.15 200.9,50.27 201.4,50.39 201.9,50.52 202.4,50.64 202.9,50.76 203.4,50.89 203.9,51.01 204.4,51.13 204.9,51.26 205.4,51.38 205.9,51.5 206.4,51.62 206.9,51.73 207.4,51.84 207.9,51.95 208.4,52.05 208.9,52.15 209.4,52.25 209.9,52.34 210.4,52.42 210.9,52.5 211.4,52.57 211.9,52.64 212.4,52.7 212.9,52.77 213.4,52.83 213.9,52.89 214.4,52.95 214.9,53 215.4,53.06 215.9,53.12 216.4,53.17 216.9,53.23 217.4,53.28 217.9,53.34 218.4,53.4 218.9,53.45 219.4,53.51 219.9,53.56 220.4,53.62 220.9,53.67 221.4,53.72 221.9,53.78 222.4,53.83 222.9,53.88 223.4,53.93 223.9,53.99 224.4,54.04 224.9,54.09 225.4,54.14 225.9,54.19 226.4,54.24 226.9,54.29 227.4,54.34 227.9,54.39 228.4,54.44 228.9,54.49 229.4,54.54 229.9,54.59 230.4,54.64 230.9,54.69 231.4,54.74 231.9,54.79 232.4,54.83 232.9,54.88 233.4,54.93 233.9,54.97 234.4,55.02 234.9,55.06 235.4,55.11 235.9,55.15 236.4,55.2 236.9,55.24 237.4,55.28 237.9,55.32 238.4,55.37 238.9,55.41 239.4,55.45 239.9,55.49 240.4,55.53 240.9,55.58 241.4,55.62 241.9,55.66 242.4,55.7 242.9,55.74 243.4,55.79 243.9,55.83 244.4,55.87 244.9,55.92 245.4,55.96 245.9,56.01 246.4,56.05 246.9,56.1 247.4,56.15 247.9,56.2 248.4,56.24 248.9,56.29 249.4,56.34 249.9,56.39 250.4,56.44 250.9,56.49 251.4,56.54 251.9,56.59 252.4,56.64 252.9,56.69 253.4,56.74 253.9,56.79 254.4,56.85 254.9,56.9 255.4,56.95 255.9,57.01 256.4,57.07 256.9,57.13 257.4,57.19 257.9,57.26 258.4,57.33 258.9,57.4 259.4,57.48 259.9,57.56 260.4,57.64 260.9,57.72 261.4,57.81 261.9,57.9 262.4,57.99 262.9,58.09 263.4,58.19 263.9,58.3 264.4,58.42 264.9,58.55 265.4,58.68 265.9,58.83 266.4,58.98 266.9,59.15 267.4,59.33 267.9,59.51 268.4,59.7 268.9,59.9 269.4,60.11 269.9,60.32 270.4,60.53 270.9,60.74 271.4,60.96" fill="none" stroke="#00BFC4" stroke-width="1.7" stroke-opacity="0.55" stroke-linejoin="round"/>
<polyline points="49.9,16.4 50.5,18.5 55.9,19.9 56.4,20 56.9,20.1 57.4,20.2 57.9,20.3 58.4,20.4 58.9,20.51 59.4,20.61 59.9,20.71 60.4,20.81 60.9,20.91 61.4,21.01 61.9,21.11 62.4,21.21 62.9,21.31 63.4,21.41 63.9,21.51 64.4,21.61 64.9,21.71 65.4,21.81 65.9,21.91 66.4,22.01 66.9,22.11 67.4,22.21 67.9,22.31 68.4,22.4 68.9,22.5 69.4,22.6 69.9,22.7 70.4,22.79 70.9,22.89 71.4,22.99 71.9,23.08 72.4,23.18 72.9,23.27 73.4,23.37 73.9,23.47 74.4,23.56 74.9,23.65 75.4,23.75 75.9,23.84 76.4,23.93 76.9,24.02 77.4,24.11 77.9,24.2 78.4,24.28 78.9,24.37 79.4,24.45 79.9,24.53 80.4,24.61 80.9,24.69 81.4,24.77 81.9,24.85 82.4,24.93 82.9,25.01 83.4,25.09 83.9,25.17 84.4,25.25 84.9,25.32 85.4,25.4 85.9,25.48 86.4,25.56 86.9,25.64 87.4,25.72 87.9,25.8 88.4,25.88 88.9,25.96 89.4,26.04 89.9,26.12 90.4,26.2 90.9,26.28 91.4,26.36 91.9,26.45 92.4,26.53 92.9,26.61 93.4,26.69 93.9,26.78 94.4,26.86 94.9,26.94 95.4,27.03 95.9,27.12 96.4,27.2 96.9,27.29 97.4,27.39 97.9,27.48 98.4,27.59 98.9,27.69 99.4,27.8 99.9,27.92 100.4,28.04 100.9,28.16 101.4,28.29 101.9,28.42 102.4,28.56 102.9,28.7 103.4,28.84 103.9,28.98 104.4,29.12 104.9,29.26 105.4,29.41 105.9,29.55 106.4,29.69 106.9,29.84 107.4,29.98 107.9,30.12 108.4,30.26 108.9,30.39 109.4,30.53 109.9,30.66 110.4,30.78 110.9,30.9 111.4,31.02 111.9,31.14 112.4,31.25 112.9,31.36 113.4,31.46 113.9,31.57 114.4,31.67 114.9,31.77 115.4,31.86 115.9,31.96 116.4,32.06 116.9,32.16 117.4,32.25 117.9,32.35 118.4,32.45 118.9,32.54 119.4,32.64 119.9,32.74 120.4,32.83 120.9,32.93 121.4,33.03 121.9,33.13 122.4,33.23 122.9,33.33 123.4,33.43 123.9,33.53 124.4,33.63 124.9,33.73 125.4,33.83 125.9,33.93 126.4,34.03 126.9,34.13 127.4,34.23 127.9,34.33 128.4,34.43 128.9,34.53 129.4,34.63 129.9,34.73 130.4,34.84 130.9,34.94 131.4,35.04 131.9,35.14 132.4,35.24 132.9,35.34 133.4,35.44 133.9,35.54 134.4,35.64 134.9,35.74 135.4,35.84 135.9,35.95 136.4,36.05 136.9,36.15 137.4,36.25 137.9,36.35 138.4,36.45 138.9,36.55 139.4,36.65 139.9,36.75 140.4,36.85 140.9,36.96 141.4,37.06 141.9,37.16 142.4,37.26 142.9,37.36 143.4,37.46 143.9,37.56 144.4,37.66 144.9,37.76 145.4,37.86 145.9,37.96 146.4,38.07 146.9,38.17 147.4,38.27 147.9,38.37 148.4,38.47 148.9,38.57 149.4,38.67 149.9,38.77 150.4,38.88 150.9,38.98 151.4,39.08 151.9,39.19 152.4,39.29 152.9,39.4 153.4,39.51 153.9,39.62 154.4,39.73 154.9,39.84 155.4,39.96 155.9,40.08 156.4,40.2 156.9,40.32 157.4,40.45 157.9,40.57 158.4,40.7 158.9,40.82 159.4,40.95 159.9,41.07 160.4,41.2 160.9,41.33 161.4,41.45 161.9,41.58 162.4,41.71 162.9,41.83 163.4,41.95 163.9,42.08 164.4,42.2 164.9,42.32 165.4,42.43 165.9,42.55 166.4,42.66 166.9,42.77 167.4,42.88 167.9,42.99 168.4,43.09 168.9,43.2 169.4,43.3 169.9,43.4 170.4,43.51 170.9,43.61 171.4,43.71 171.9,43.81 172.4,43.91 172.9,44.01 173.4,44.11 173.9,44.21 174.4,44.32 174.9,44.42 175.4,44.52 175.9,44.62 176.4,44.72 176.9,44.82 177.4,44.92 177.9,45.02 178.4,45.12 178.9,45.22 179.4,45.32 179.9,45.43 180.4,45.53 180.9,45.63 181.4,45.73 181.9,45.83 182.4,45.93 182.9,46.03 183.4,46.13 183.9,46.24 184.4,46.34 184.9,46.44 185.4,46.55 185.9,46.65 186.4,46.76 186.9,46.87 187.4,46.98 187.9,47.09 188.4,47.2 188.9,47.32 189.4,47.44 189.9,47.56 190.4,47.68 190.9,47.8 191.4,47.92 191.9,48.04 192.4,48.17 192.9,48.29 193.4,48.41 193.9,48.54 194.4,48.66 194.9,48.78 195.4,48.91 195.9,49.03 196.4,49.16 196.9,49.28 197.4,49.4 197.9,49.53 198.4,49.65 198.9,49.77 199.4,49.9 199.9,50.02 200.4,50.15 200.9,50.27 201.4,50.39 201.9,50.52 202.4,50.64 202.9,50.76 203.4,50.89 203.9,51.01 204.4,51.13 204.9,51.26 205.4,51.38 205.9,51.5 206.4,51.62 206.9,51.73 207.4,51.84 207.9,51.95 208.4,52.05 208.9,52.15 209.4,52.25 209.9,52.34 210.4,52.42 210.9,52.5 211.4,52.57 211.9,52.64 212.4,52.7 212.9,52.77 213.4,52.83 213.9,52.89 214.4,52.95 214.9,53 215.4,53.06 215.9,53.12 216.4,53.17 216.9,53.23 217.4,53.28 217.9,53.34 218.4,53.4 218.9,53.45 219.4,53.51 219.9,53.56 220.4,53.62 220.9,53.67 221.4,53.72 221.9,53.78 222.4,53.83 222.9,53.88 223.4,53.93 223.9,53.99 224.4,54.04 224.9,54.09 225.4,54.14 225.9,54.19 226.4,54.24 226.9,54.29 227.4,54.34 227.9,54.39 228.4,54.44 228.9,54.49 229.4,54.54 229.9,54.59 230.4,54.64 230.9,54.69 231.4,54.74 231.9,54.79 232.4,54.83 232.9,54.88 233.4,54.93 233.9,54.97 234.4,55.02 234.9,55.06 235.4,55.11 235.9,55.15 236.4,55.2 236.9,55.24 237.4,55.28 237.9,55.32 238.4,55.37 238.9,55.41 239.4,55.45 239.9,55.49 240.4,55.53 240.9,55.58 241.4,55.62 241.9,55.66 242.4,55.7 242.9,55.74 243.4,55.79 243.9,55.83 244.4,55.87 244.9,55.92 245.4,55.96 245.9,56.01 246.4,56.05 246.9,56.1 247.4,56.15 247.9,56.2 248.4,56.24 248.9,56.29 249.4,56.34 249.9,56.39 250.4,56.44 250.9,56.49 251.4,56.54 251.9,56.59 252.4,56.64 252.9,56.69 253.4,56.74 253.9,56.79 254.4,56.85 254.9,56.9 255.4,56.95 255.9,57.01 256.4,57.07 256.9,57.13 257.4,57.19 257.9,57.26 258.4,57.33 258.9,57.4 259.4,57.48 259.9,57.56 260.4,57.64 260.9,57.72 261.4,57.81 261.9,57.9 262.4,57.99 262.9,58.09 263.4,58.19 263.9,58.3 264.4,58.42 264.9,58.55 265.4,58.68 265.9,58.83 266.4,58.98 266.9,59.15 267.4,59.33 267.9,59.51 268.4,59.7 268.9,59.9 269.4,60.11 269.9,60.32 270.4,60.53 270.9,60.74 271.4,60.96" fill="none" stroke="#00B6BA" stroke-width="1.6" stroke-dasharray="1.6 1.6" stroke-linejoin="round"/>
<rect x="206.6" y="24.6" width="40" height="22" fill="#fff"/>
<text transform="translate(209,30.7) scale(0.1007,0.1)" font-size="48" fill="#222">Tumor location</text>
<rect x="208.6" y="33.6" width="7.1" height="5.9" fill="#F8766D" fill-opacity="0.3"/>
<line x1="208.9" x2="215.4" y1="36.55" y2="36.55" stroke="#F8766D" stroke-width="1.2"/>
<rect x="208.6" y="39.9" width="7.1" height="5.9" fill="#00BFC4" fill-opacity="0.3"/>
<line x1="208.9" x2="215.4" y1="42.85" y2="42.85" stroke="#00B6BA" stroke-width="1.2" stroke-dasharray="1.5 1"/>
<text transform="translate(219,37.9) scale(0.0915,0.1)" font-size="37" fill="#222">Caecum</text>
<text transform="translate(219,44.2) scale(0.1053,0.1)" font-size="39" fill="#222">Sigmoid colon</text>
<rect x="62.4" y="108" width="31.6" height="9" fill="#fff"/>
<text transform="translate(63.2,115.8) scale(0.1069,0.1)" font-size="59" fill="#222" class="p">p &lt; 0.0001</text>
<rect x="39.5" y="10.2" width="234.3" height="132.9" class="bd"/>
<line x1="38" x2="39.5" y1="16" y2="16" class="tk"/>
<text transform="translate(31.86,17.3) scale(0.1,0.1)" font-size="37" fill="#444">1.0</text>
<line x1="38" x2="39.5" y1="40.25" y2="40.25" class="tk"/>
<text transform="translate(31.86,41.55) scale(0.1,0.1)" font-size="37" fill="#444">0.9</text>
<line x1="38" x2="39.5" y1="64.5" y2="64.5" class="tk"/>
<text transform="translate(31.86,65.8) scale(0.1,0.1)" font-size="37" fill="#444">0.8</text>
<line x1="38" x2="39.5" y1="88.75" y2="88.75" class="tk"/>
<text transform="translate(31.86,90.05) scale(0.1,0.1)" font-size="37" fill="#444">0.7</text>
<line x1="38" x2="39.5" y1="113" y2="113" class="tk"/>
<text transform="translate(31.86,114.3) scale(0.1,0.1)" font-size="37" fill="#444">0.6</text>
<line x1="38" x2="39.5" y1="137.25" y2="137.25" class="tk"/>
<text transform="translate(31.86,138.55) scale(0.1,0.1)" font-size="37" fill="#444">0.5</text>
<line x1="50.3" x2="50.3" y1="143" y2="144.4" class="tk"/>
<text transform="translate(49.27,147.7) scale(0.1,0.1)" font-size="37" fill="#444">0</text>
<line x1="209.8" x2="209.8" y1="143" y2="144.4" class="tk"/>
<text transform="translate(208.77,147.7) scale(0.1,0.1)" font-size="37" fill="#444">5</text>
<text transform="translate(144.4,152.3) scale(0.1044,0.1)" font-size="47" fill="#222">Time (year)</text>
<text transform="translate(8.9,77.1) rotate(-90) translate(-21.5,0) scale(0.1)" font-size="47" fill="#222" style="letter-spacing:-2.88px">Cancer-specific survival</text>
<text transform="translate(39.8,160.9) scale(0.1049,0.1)" font-size="56" fill="#1a1a1a">Number at risk</text>
<line x1="130.05" x2="130.05" y1="163.8" y2="194.4" class="gm"/>
<line x1="50.3" x2="50.3" y1="163.8" y2="194.4" class="gM"/>
<line x1="209.8" x2="209.8" y1="163.8" y2="194.4" class="gM"/>
<line x1="39.5" x2="273.8" y1="172.4" y2="172.4" class="gM"/>
<line x1="39.5" x2="273.8" y1="186.4" y2="186.4" class="gM"/>
<text transform="translate(43.75,174.4) scale(0.068,0.1)" font-size="63" fill="#F8766D">10,017</text>
<text transform="translate(203.35,174.4) scale(0.092,0.1)" font-size="63" fill="#F8766D">2242</text>
<text transform="translate(43.75,188.4) scale(0.068,0.1)" font-size="63" fill="#00BFC4">10,013</text>
<text transform="translate(203.35,188.4) scale(0.092,0.1)" font-size="63" fill="#00BFC4">2533</text>
<rect x="39.5" y="163.8" width="234.3" height="30.6" class="bd"/>
<line x1="38" x2="39.5" y1="172.4" y2="172.4" class="tk"/>
<line x1="38" x2="39.5" y1="186.4" y2="186.4" class="tk"/>
<text transform="translate(24.4,173.8) scale(0.0936,0.1)" font-size="35" fill="#F8766D">Caecum</text>
<text transform="translate(11.8,187.8) scale(0.1097,0.1)" font-size="36" fill="#00BFC4">Sigmoid colon</text>
<line x1="50.3" x2="50.3" y1="194.5" y2="195.9" class="tk"/>
<text transform="translate(49.27,199) scale(0.1,0.1)" font-size="37" fill="#444">0</text>
<line x1="209.8" x2="209.8" y1="194.5" y2="195.9" class="tk"/>
<text transform="translate(208.77,199) scale(0.1,0.1)" font-size="37" fill="#444">5</text>
<text transform="translate(144.5,203.6) scale(0.104,0.1)" font-size="47" fill="#222">Time (year)</text>
<text transform="translate(9.1,179.1) rotate(-90) translate(-13.3,0) scale(0.1)" font-size="47" fill="#222" style="letter-spacing:-3.32px">Tumor location</text>
</g>
<g transform="translate(272.8,204.4)">
<text transform="translate(16,8.8) scale(0.1,0.1)" font-size="90" fill="#000" class="k">D</text>
<text transform="translate(39.8,7.5) scale(0.1)" font-size="58" fill="#1a1a1a">2010<tspan dx="7">-</tspan><tspan dx="7">2015</tspan></text>
<line x1="39.5" x2="273.8" y1="28.13" y2="28.13" class="gm"/>
<line x1="39.5" x2="273.8" y1="52.38" y2="52.38" class="gm"/>
<line x1="39.5" x2="273.8" y1="76.62" y2="76.62" class="gm"/>
<line x1="39.5" x2="273.8" y1="100.88" y2="100.88" class="gm"/>
<line x1="39.5" x2="273.8" y1="125.12" y2="125.12" class="gm"/>
<line x1="130.05" x2="130.05" y1="10.2" y2="143.1" class="gm"/>
<line x1="39.5" x2="273.8" y1="16" y2="16" class="gM"/>
<line x1="39.5" x2="273.8" y1="40.25" y2="40.25" class="gM"/>
<line x1="39.5" x2="273.8" y1="64.5" y2="64.5" class="gM"/>
<line x1="39.5" x2="273.8" y1="88.75" y2="88.75" class="gM"/>
<line x1="39.5" x2="273.8" y1="113" y2="113" class="gM"/>
<line x1="39.5" x2="273.8" y1="137.25" y2="137.25" class="gM"/>
<line x1="50.3" x2="50.3" y1="10.2" y2="143.1" class="gM"/>
<line x1="209.8" x2="209.8" y1="10.2" y2="143.1" class="gM"/>
<polygon points="50.1,16.1 50.7,19.3 56.1,20.3 56.6,20.45 57.1,20.6 57.6,20.75 58.1,20.9 58.6,21.05 59.1,21.21 59.6,21.36 60.1,21.51 60.6,21.67 61.1,21.82 61.6,21.97 62.1,22.13 62.6,22.29 63.1,22.44 63.6,22.6 64.1,22.76 64.6,22.93 65.1,23.09 65.6,23.26 66.1,23.44 66.6,23.61 67.1,23.8 67.6,23.98 68.1,24.18 68.6,24.37 69.1,24.57 69.6,24.77 70.1,24.98 70.6,25.19 71.1,25.4 71.6,25.61 72.1,25.82 72.6,26.03 73.1,26.24 73.6,26.45 74.1,26.66 74.6,26.88 75.1,27.09 75.6,27.29 76.1,27.5 76.6,27.71 77.1,27.91 77.6,28.12 78.1,28.32 78.6,28.51 79.1,28.71 79.6,28.91 80.1,29.1 80.6,29.29 81.1,29.48 81.6,29.67 82.1,29.86 82.6,30.04 83.1,30.23 83.6,30.42 84.1,30.61 84.6,30.8 85.1,30.98 85.6,31.17 86.1,31.36 86.6,31.55 87.1,31.75 87.6,31.94 88.1,32.13 88.6,32.33 89.1,32.52 89.6,32.72 90.1,32.92 90.6,33.12 91.1,33.33 91.6,33.53 92.1,33.73 92.6,33.94 93.1,34.14 93.6,34.35 94.1,34.56 94.6,34.76 95.1,34.97 95.6,35.17 96.1,35.38 96.6,35.58 97.1,35.78 97.6,35.98 98.1,36.18 98.6,36.38 99.1,36.57 99.6,36.76 100.1,36.95 100.6,37.13 101.1,37.32 101.6,37.5 102.1,37.67 102.6,37.85 103.1,38.03 103.6,38.2 104.1,38.37 104.6,38.54 105.1,38.71 105.6,38.89 106.1,39.06 106.6,39.23 107.1,39.4 107.6,39.57 108.1,39.74 108.6,39.91 109.1,40.08 109.6,40.26 110.1,40.43 110.6,40.6 111.1,40.78 111.6,40.96 112.1,41.14 112.6,41.31 113.1,41.5 113.6,41.68 114.1,41.87 114.6,42.05 115.1,42.24 115.6,42.43 116.1,42.62 116.6,42.81 117.1,43.01 117.6,43.2 118.1,43.39 118.6,43.59 119.1,43.78 119.6,43.98 120.1,44.17 120.6,44.36 121.1,44.56 121.6,44.75 122.1,44.94 122.6,45.14 123.1,45.33 123.6,45.52 124.1,45.72 124.6,45.91 125.1,46.1 125.6,46.29 126.1,46.48 126.6,46.67 127.1,46.86 127.6,47.05 128.1,47.24 128.6,47.43 129.1,47.62 129.6,47.81 130.1,48 130.6,48.19 131.1,48.38 131.6,48.57 132.1,48.76 132.6,48.94 133.1,49.13 133.6,49.31 134.1,49.5 134.6,49.68 135.1,49.86 135.6,50.03 136.1,50.21 136.6,50.38 137.1,50.55 137.6,50.73 138.1,50.9 138.6,51.07 139.1,51.23 139.6,51.4 140.1,51.57 140.6,51.74 141.1,51.9 141.6,52.07 142.1,52.24 142.6,52.4 143.1,52.57 143.6,52.73 144.1,52.89 144.6,53.06 145.1,53.22 145.6,53.37 146.1,53.53 146.6,53.68 147.1,53.84 147.6,53.99 148.1,54.14 148.6,54.29 149.1,54.43 149.6,54.58 150.1,54.73 150.6,54.87 151.1,55.02 151.6,55.16 152.1,55.31 152.6,55.45 153.1,55.6 153.6,55.74 154.1,55.89 154.6,56.03 155.1,56.18 155.6,56.33 156.1,56.48 156.6,56.62 157.1,56.77 157.6,56.92 158.1,57.07 158.6,57.22 159.1,57.37 159.6,57.52 160.1,57.67 160.6,57.82 161.1,57.97 161.6,58.13 162.1,58.28 162.6,58.43 163.1,58.58 163.6,58.73 164.1,58.88 164.6,59.03 165.1,59.18 165.6,59.33 166.1,59.48 166.6,59.63 167.1,59.78 167.6,59.93 168.1,60.08 168.6,60.22 169.1,60.37 169.6,60.51 170.1,60.65 170.6,60.8 171.1,60.94 171.6,61.08 172.1,61.22 172.6,61.36 173.1,61.51 173.6,61.65 174.1,61.79 174.6,61.93 175.1,62.07 175.6,62.21 176.1,62.35 176.6,62.49 177.1,62.63 177.6,62.78 178.1,62.92 178.6,63.06 179.1,63.21 179.6,63.35 180.1,63.49 180.6,63.64 181.1,63.78 181.6,63.93 182.1,64.07 182.6,64.22 183.1,64.36 183.6,64.51 184.1,64.65 184.6,64.8 185.1,64.94 185.6,65.09 186.1,65.23 186.6,65.37 187.1,65.52 187.6,65.66 188.1,65.8 188.6,65.94 189.1,66.07 189.6,66.21 190.1,66.34 190.6,66.47 191.1,66.6 191.6,66.72 192.1,66.85 192.6,66.97 193.1,67.09 193.6,67.21 194.1,67.33 194.6,67.45 195.1,67.57 195.6,67.69 196.1,67.81 196.6,67.93 197.1,68.05 197.6,68.17 198.1,68.29 198.6,68.41 199.1,68.54 199.6,68.67 200.1,68.8 200.6,68.93 201.1,69.06 201.6,69.2 202.1,69.34 202.6,69.48 203.1,69.63 203.6,69.77 204.1,69.92 204.6,70.07 205.1,70.21 205.6,70.36 206.1,70.51 206.6,70.66 207.1,70.81 207.6,70.96 208.1,71.11 208.6,71.26 209.1,71.41 209.6,71.56 210.1,71.7 210.6,71.85 211.1,71.99 211.6,72.14 212.1,72.28 212.6,72.42 213.1,72.56 213.6,72.7 214.1,72.83 214.6,72.97 215.1,73.11 215.6,73.24 216.1,73.38 216.6,73.51 217.1,73.64 217.6,73.78 218.1,73.91 218.6,74.04 219.1,74.18 219.6,74.31 220.1,74.44 220.6,74.57 221.1,74.69 221.6,74.82 222.1,74.94 222.6,75.06 223.1,75.18 223.6,75.29 224.1,75.4 224.6,75.51 225.1,75.61 225.6,75.71 226.1,75.82 226.6,75.91 227.1,76.01 227.6,76.11 228.1,76.2 228.6,76.3 229.1,76.4 229.6,76.49 230.1,76.59 230.6,76.68 231.1,76.78 231.6,76.87 232.1,76.96 232.6,77.06 233.1,77.15 233.6,77.25 234.1,77.34 234.6,77.44 235.1,77.53 235.6,77.63 236.1,77.72 236.6,77.82 237.1,77.91 237.6,78.01 238.1,78.1 238.6,78.2 239.1,78.29 239.6,78.39 240.1,78.48 240.6,78.58 241.1,78.67 241.6,78.77 242.1,78.86 242.6,78.96 243.1,79.05 243.6,79.15 244.1,79.24 244.6,79.34 245.1,79.43 245.6,79.53 246.1,79.62 246.6,79.72 247.1,79.81 247.6,79.91 248.1,80 248.6,80.1 249.1,80.19 249.6,80.29 250.1,80.38 250.6,80.48 251.1,80.57 251.6,80.67 252.1,80.76 252.6,80.86 253.1,80.95 253.6,81.05 254.1,81.15 254.6,81.25 255.1,81.35 255.6,81.45 256.1,81.56 256.6,81.67 257.1,81.78 257.6,81.91 258.1,82.04 258.6,82.18 259.1,82.34 259.6,82.5 260.1,82.67 260.6,82.85 261.1,83.04 261.6,83.24 262.1,83.44 262.6,83.64 263.1,83.84 263.6,84.03 264.1,84.21 264.6,84.38 265.1,84.53 265.6,84.66 266.1,84.78 266.6,84.88 267.1,84.97 267.6,85.04 268.1,85.1 268.6,85.14 269.1,85.18 269.6,85.22 270.1,85.24 270.6,85.27 271.1,85.29 271.1,93.29 270.6,93.26 270.1,93.22 269.6,93.19 269.1,93.14 268.6,93.1 268.1,93.04 267.6,92.97 267.1,92.89 266.6,92.8 266.1,92.69 265.6,92.56 265.1,92.41 264.6,92.25 264.1,92.07 263.6,91.88 263.1,91.68 262.6,91.48 262.1,91.27 261.6,91.06 261.1,90.85 260.6,90.65 260.1,90.46 259.6,90.28 259.1,90.11 258.6,89.94 258.1,89.79 257.6,89.65 257.1,89.51 256.6,89.39 256.1,89.27 255.6,89.15 255.1,89.04 254.6,88.93 254.1,88.82 253.6,88.71 253.1,88.61 252.6,88.5 252.1,88.4 251.6,88.29 251.1,88.19 250.6,88.08 250.1,87.98 249.6,87.87 249.1,87.77 248.6,87.66 248.1,87.56 247.6,87.45 247.1,87.35 246.6,87.24 246.1,87.14 245.6,87.03 245.1,86.93 244.6,86.82 244.1,86.72 243.6,86.61 243.1,86.51 242.6,86.4 242.1,86.3 241.6,86.19 241.1,86.09 240.6,85.98 240.1,85.88 239.6,85.77 239.1,85.67 238.6,85.56 238.1,85.46 237.6,85.35 237.1,85.25 236.6,85.14 236.1,85.04 235.6,84.93 235.1,84.83 234.6,84.72 234.1,84.62 233.6,84.51 233.1,84.41 232.6,84.3 232.1,84.2 231.6,84.09 231.1,83.98 230.6,83.88 230.1,83.77 229.6,83.67 229.1,83.56 228.6,83.46 228.1,83.35 227.6,83.25 227.1,83.14 226.6,83.03 226.1,82.92 225.6,82.81 225.1,82.7 224.6,82.58 224.1,82.46 223.6,82.34 223.1,82.22 222.6,82.09 222.1,81.96 221.6,81.83 221.1,81.69 220.6,81.56 220.1,81.42 219.6,81.28 219.1,81.13 218.6,80.99 218.1,80.85 217.6,80.7 217.1,80.56 216.6,80.42 216.1,80.27 215.6,80.13 215.1,79.98 214.6,79.83 214.1,79.69 213.6,79.54 213.1,79.39 212.6,79.24 212.1,79.09 211.6,78.94 211.1,78.78 210.6,78.63 210.1,78.47 209.6,78.31 209.1,78.16 208.6,78 208.1,77.84 207.6,77.68 207.1,77.52 206.6,77.35 206.1,77.19 205.6,77.03 205.1,76.87 204.6,76.71 204.1,76.55 203.6,76.4 203.1,76.24 202.6,76.08 202.1,75.93 201.6,75.78 201.1,75.63 200.6,75.49 200.1,75.34 199.6,75.2 199.1,75.07 198.6,74.93 198.1,74.79 197.6,74.66 197.1,74.53 196.6,74.4 196.1,74.27 195.6,74.14 195.1,74.01 194.6,73.88 194.1,73.74 193.6,73.61 193.1,73.48 192.6,73.35 192.1,73.22 191.6,73.08 191.1,72.94 190.6,72.8 190.1,72.66 189.6,72.52 189.1,72.37 188.6,72.22 188.1,72.07 187.6,71.92 187.1,71.77 186.6,71.62 186.1,71.46 185.6,71.31 185.1,71.15 184.6,70.99 184.1,70.84 183.6,70.68 183.1,70.52 182.6,70.37 182.1,70.21 181.6,70.05 181.1,69.9 180.6,69.74 180.1,69.58 179.6,69.43 179.1,69.27 178.6,69.12 178.1,68.96 177.6,68.81 177.1,68.66 176.6,68.5 176.1,68.35 175.6,68.2 175.1,68.04 174.6,67.89 174.1,67.74 173.6,67.58 173.1,67.43 172.6,67.28 172.1,67.12 171.6,66.97 171.1,66.82 170.6,66.66 170.1,66.51 169.6,66.35 169.1,66.2 168.6,66.04 168.1,65.88 167.6,65.72 167.1,65.56 166.6,65.4 166.1,65.24 165.6,65.08 165.1,64.91 164.6,64.75 164.1,64.59 163.6,64.42 163.1,64.26 162.6,64.1 162.1,63.93 161.6,63.77 161.1,63.61 160.6,63.44 160.1,63.28 159.6,63.11 159.1,62.95 158.6,62.79 158.1,62.63 157.6,62.46 157.1,62.3 156.6,62.14 156.1,61.98 155.6,61.82 155.1,61.66 154.6,61.5 154.1,61.34 153.6,61.18 153.1,61.02 152.6,60.87 152.1,60.71 151.6,60.55 151.1,60.39 150.6,60.23 150.1,60.07 149.6,59.92 149.1,59.76 148.6,59.6 148.1,59.43 147.6,59.27 147.1,59.11 146.6,58.94 146.1,58.77 145.6,58.6 145.1,58.43 144.6,58.26 144.1,58.09 143.6,57.91 143.1,57.73 142.6,57.55 142.1,57.38 141.6,57.2 141.1,57.02 140.6,56.83 140.1,56.65 139.6,56.47 139.1,56.29 138.6,56.11 138.1,55.92 137.6,55.74 137.1,55.56 136.6,55.37 136.1,55.18 135.6,54.99 135.1,54.8 134.6,54.61 134.1,54.41 133.6,54.22 133.1,54.02 132.6,53.82 132.1,53.62 131.6,53.42 131.1,53.21 130.6,53.01 130.1,52.81 129.6,52.6 129.1,52.4 128.6,52.2 128.1,51.99 127.6,51.79 127.1,51.58 126.6,51.38 126.1,51.17 125.6,50.97 125.1,50.76 124.6,50.55 124.1,50.35 123.6,50.14 123.1,49.93 122.6,49.72 122.1,49.52 121.6,49.31 121.1,49.1 120.6,48.89 120.1,48.68 119.6,48.47 119.1,48.26 118.6,48.05 118.1,47.84 117.6,47.64 117.1,47.43 116.6,47.22 116.1,47.01 115.6,46.81 115.1,46.6 114.6,46.4 114.1,46.19 113.6,45.99 113.1,45.79 112.6,45.6 112.1,45.4 111.6,45.21 111.1,45.01 110.6,44.82 110.1,44.63 109.6,44.44 109.1,44.25 108.6,44.07 108.1,43.88 107.6,43.69 107.1,43.5 106.6,43.32 106.1,43.13 105.6,42.94 105.1,42.75 104.6,42.56 104.1,42.38 103.6,42.19 103.1,42 102.6,41.81 102.1,41.61 101.6,41.42 101.1,41.22 100.6,41.02 100.1,40.82 99.6,40.61 99.1,40.41 98.6,40.2 98.1,39.98 97.6,39.77 97.1,39.55 96.6,39.33 96.1,39.11 95.6,38.88 95.1,38.66 94.6,38.44 94.1,38.21 93.6,37.99 93.1,37.77 92.6,37.54 92.1,37.32 91.6,37.1 91.1,36.87 90.6,36.65 90.1,36.43 89.6,36.21 89.1,36 88.6,35.78 88.1,35.57 87.6,35.35 87.1,35.14 86.6,34.93 86.1,34.72 85.6,34.51 85.1,34.3 84.6,34.09 84.1,33.89 83.6,33.68 83.1,33.47 82.6,33.26 82.1,33.05 81.6,32.84 81.1,32.63 80.6,32.42 80.1,32.21 79.6,32 79.1,31.78 78.6,31.56 78.1,31.34 77.6,31.12 77.1,30.9 76.6,30.67 76.1,30.44 75.6,30.21 75.1,29.98 74.6,29.75 74.1,29.51 73.6,29.28 73.1,29.04 72.6,28.81 72.1,28.57 71.6,28.34 71.1,28.1 70.6,27.87 70.1,27.64 69.6,27.41 69.1,27.18 68.6,26.95 68.1,26.73 67.6,26.51 67.1,26.3 66.6,26.09 66.1,25.89 65.6,25.68 65.1,25.49 64.6,25.29 64.1,25.1 63.6,24.91 63.1,24.72 62.6,24.53 62.1,24.35 61.6,24.16 61.1,23.98 60.6,23.79 60.1,23.6 59.6,23.42 59.1,23.23 58.6,23.04 58.1,22.86 57.6,22.67 57.1,22.48 56.6,22.29 56.1,22.1 50.7,20.5 50.1,17.1" fill="#F8766D" fill-opacity="0.28"/>
<polygon points="50.1,15.6 50.7,19.3 56.1,20.32 56.6,20.5 57.1,20.69 57.6,20.87 58.1,21.06 58.6,21.24 59.1,21.43 59.6,21.61 60.1,21.8 60.6,21.99 61.1,22.17 61.6,22.36 62.1,22.55 62.6,22.73 63.1,22.92 63.6,23.1 64.1,23.29 64.6,23.47 65.1,23.65 65.6,23.83 66.1,24 66.6,24.18 67.1,24.35 67.6,24.51 68.1,24.68 68.6,24.84 69.1,24.99 69.6,25.15 70.1,25.3 70.6,25.46 71.1,25.61 71.6,25.76 72.1,25.91 72.6,26.06 73.1,26.21 73.6,26.36 74.1,26.51 74.6,26.65 75.1,26.8 75.6,26.95 76.1,27.1 76.6,27.24 77.1,27.38 77.6,27.53 78.1,27.67 78.6,27.81 79.1,27.95 79.6,28.08 80.1,28.22 80.6,28.36 81.1,28.49 81.6,28.62 82.1,28.76 82.6,28.89 83.1,29.02 83.6,29.16 84.1,29.29 84.6,29.42 85.1,29.56 85.6,29.69 86.1,29.82 86.6,29.96 87.1,30.09 87.6,30.22 88.1,30.36 88.6,30.49 89.1,30.63 89.6,30.77 90.1,30.9 90.6,31.04 91.1,31.18 91.6,31.31 92.1,31.45 92.6,31.59 93.1,31.73 93.6,31.86 94.1,32 94.6,32.14 95.1,32.28 95.6,32.42 96.1,32.55 96.6,32.69 97.1,32.83 97.6,32.97 98.1,33.1 98.6,33.24 99.1,33.37 99.6,33.51 100.1,33.64 100.6,33.78 101.1,33.91 101.6,34.04 102.1,34.17 102.6,34.31 103.1,34.44 103.6,34.57 104.1,34.7 104.6,34.83 105.1,34.96 105.6,35.09 106.1,35.22 106.6,35.35 107.1,35.48 107.6,35.61 108.1,35.74 108.6,35.87 109.1,36 109.6,36.13 110.1,36.26 110.6,36.39 111.1,36.52 111.6,36.65 112.1,36.78 112.6,36.91 113.1,37.04 113.6,37.16 114.1,37.29 114.6,37.42 115.1,37.55 115.6,37.67 116.1,37.8 116.6,37.92 117.1,38.05 117.6,38.18 118.1,38.3 118.6,38.43 119.1,38.56 119.6,38.68 120.1,38.81 120.6,38.94 121.1,39.06 121.6,39.19 122.1,39.32 122.6,39.45 123.1,39.58 123.6,39.71 124.1,39.84 124.6,39.98 125.1,40.11 125.6,40.25 126.1,40.38 126.6,40.52 127.1,40.66 127.6,40.8 128.1,40.94 128.6,41.08 129.1,41.22 129.6,41.36 130.1,41.5 130.6,41.64 131.1,41.78 131.6,41.92 132.1,42.05 132.6,42.19 133.1,42.33 133.6,42.47 134.1,42.61 134.6,42.74 135.1,42.88 135.6,43.01 136.1,43.15 136.6,43.28 137.1,43.41 137.6,43.55 138.1,43.68 138.6,43.81 139.1,43.94 139.6,44.07 140.1,44.21 140.6,44.34 141.1,44.47 141.6,44.6 142.1,44.74 142.6,44.87 143.1,45 143.6,45.14 144.1,45.28 144.6,45.42 145.1,45.56 145.6,45.71 146.1,45.86 146.6,46.01 147.1,46.16 147.6,46.31 148.1,46.47 148.6,46.63 149.1,46.79 149.6,46.95 150.1,47.11 150.6,47.27 151.1,47.44 151.6,47.6 152.1,47.76 152.6,47.93 153.1,48.09 153.6,48.25 154.1,48.41 154.6,48.57 155.1,48.73 155.6,48.89 156.1,49.04 156.6,49.2 157.1,49.35 157.6,49.5 158.1,49.65 158.6,49.8 159.1,49.95 159.6,50.09 160.1,50.24 160.6,50.38 161.1,50.53 161.6,50.67 162.1,50.82 162.6,50.96 163.1,51.1 163.6,51.25 164.1,51.39 164.6,51.53 165.1,51.68 165.6,51.82 166.1,51.96 166.6,52.11 167.1,52.25 167.6,52.4 168.1,52.54 168.6,52.68 169.1,52.83 169.6,52.97 170.1,53.12 170.6,53.26 171.1,53.41 171.6,53.56 172.1,53.7 172.6,53.85 173.1,53.99 173.6,54.14 174.1,54.28 174.6,54.43 175.1,54.57 175.6,54.72 176.1,54.87 176.6,55.01 177.1,55.16 177.6,55.3 178.1,55.45 178.6,55.6 179.1,55.74 179.6,55.89 180.1,56.03 180.6,56.18 181.1,56.32 181.6,56.47 182.1,56.62 182.6,56.76 183.1,56.91 183.6,57.05 184.1,57.2 184.6,57.35 185.1,57.49 185.6,57.64 186.1,57.78 186.6,57.93 187.1,58.08 187.6,58.22 188.1,58.37 188.6,58.51 189.1,58.66 189.6,58.81 190.1,58.95 190.6,59.1 191.1,59.24 191.6,59.39 192.1,59.54 192.6,59.68 193.1,59.83 193.6,59.97 194.1,60.12 194.6,60.27 195.1,60.41 195.6,60.56 196.1,60.7 196.6,60.85 197.1,61 197.6,61.15 198.1,61.3 198.6,61.45 199.1,61.6 199.6,61.75 200.1,61.9 200.6,62.06 201.1,62.22 201.6,62.38 202.1,62.54 202.6,62.7 203.1,62.87 203.6,63.03 204.1,63.2 204.6,63.37 205.1,63.53 205.6,63.7 206.1,63.87 206.6,64.04 207.1,64.21 207.6,64.37 208.1,64.54 208.6,64.7 209.1,64.86 209.6,65.02 210.1,65.18 210.6,65.33 211.1,65.47 211.6,65.62 212.1,65.75 212.6,65.89 213.1,66.01 213.6,66.14 214.1,66.26 214.6,66.37 215.1,66.49 215.6,66.6 216.1,66.71 216.6,66.82 217.1,66.93 217.6,67.04 218.1,67.15 218.6,67.25 219.1,67.36 219.6,67.47 220.1,67.57 220.6,67.67 221.1,67.78 221.6,67.87 222.1,67.97 222.6,68.07 223.1,68.16 223.6,68.24 224.1,68.33 224.6,68.41 225.1,68.49 225.6,68.57 226.1,68.65 226.6,68.72 227.1,68.79 227.6,68.86 228.1,68.94 228.6,69.01 229.1,69.08 229.6,69.15 230.1,69.22 230.6,69.29 231.1,69.36 231.6,69.43 232.1,69.5 232.6,69.57 233.1,69.64 233.6,69.71 234.1,69.78 234.6,69.85 235.1,69.92 235.6,69.99 236.1,70.06 236.6,70.13 237.1,70.2 237.6,70.27 238.1,70.34 238.6,70.41 239.1,70.48 239.6,70.55 240.1,70.62 240.6,70.69 241.1,70.76 241.6,70.83 242.1,70.9 242.6,70.97 243.1,71.04 243.6,71.11 244.1,71.18 244.6,71.25 245.1,71.32 245.6,71.39 246.1,71.46 246.6,71.53 247.1,71.6 247.6,71.68 248.1,71.75 248.6,71.82 249.1,71.89 249.6,71.96 250.1,72.03 250.6,72.1 251.1,72.17 251.6,72.24 252.1,72.31 252.6,72.38 253.1,72.45 253.6,72.52 254.1,72.59 254.6,72.66 255.1,72.73 255.6,72.81 256.1,72.88 256.6,72.96 257.1,73.03 257.6,73.11 258.1,73.19 258.6,73.28 259.1,73.36 259.6,73.45 260.1,73.55 260.6,73.64 261.1,73.74 261.6,73.85 262.1,73.95 262.6,74.07 263.1,74.18 263.6,74.31 264.1,74.44 264.6,74.59 265.1,74.75 265.6,74.92 266.1,75.12 266.6,75.34 267.1,75.58 267.6,75.84 268.1,76.13 268.6,76.44 269.1,76.77 269.6,77.12 270.1,77.48 270.6,77.85 271.1,78.22 271.1,85.82 270.6,85.44 270.1,85.06 269.6,84.69 269.1,84.34 268.6,84 268.1,83.68 267.6,83.38 267.1,83.11 266.6,82.86 266.1,82.63 265.6,82.42 265.1,82.24 264.6,82.07 264.1,81.92 263.6,81.77 263.1,81.64 262.6,81.51 262.1,81.39 261.6,81.28 261.1,81.16 260.6,81.05 260.1,80.95 259.6,80.85 259.1,80.75 258.6,80.65 258.1,80.56 257.6,80.47 257.1,80.38 256.6,80.29 256.1,80.21 255.6,80.13 255.1,80.04 254.6,79.96 254.1,79.88 253.6,79.8 253.1,79.72 252.6,79.64 252.1,79.56 251.6,79.48 251.1,79.4 250.6,79.32 250.1,79.24 249.6,79.16 249.1,79.08 248.6,79 248.1,78.92 247.6,78.84 247.1,78.77 246.6,78.69 246.1,78.61 245.6,78.53 245.1,78.45 244.6,78.37 244.1,78.29 243.6,78.21 243.1,78.13 242.6,78.05 242.1,77.97 241.6,77.89 241.1,77.81 240.6,77.73 240.1,77.65 239.6,77.57 239.1,77.49 238.6,77.41 238.1,77.33 237.6,77.25 237.1,77.17 236.6,77.09 236.1,77.01 235.6,76.93 235.1,76.85 234.6,76.77 234.1,76.69 233.6,76.61 233.1,76.53 232.6,76.45 232.1,76.37 231.6,76.29 231.1,76.21 230.6,76.13 230.1,76.05 229.6,75.97 229.1,75.89 228.6,75.81 228.1,75.73 227.6,75.65 227.1,75.57 226.6,75.49 226.1,75.4 225.6,75.32 225.1,75.23 224.6,75.14 224.1,75.05 223.6,74.95 223.1,74.85 222.6,74.75 222.1,74.65 221.6,74.54 221.1,74.43 220.6,74.32 220.1,74.21 219.6,74.09 219.1,73.98 218.6,73.86 218.1,73.74 217.6,73.63 217.1,73.51 216.6,73.39 216.1,73.27 215.6,73.15 215.1,73.03 214.6,72.9 214.1,72.77 213.6,72.64 213.1,72.51 212.6,72.37 212.1,72.23 211.6,72.08 211.1,71.93 210.6,71.77 210.1,71.61 209.6,71.45 209.1,71.28 208.6,71.11 208.1,70.93 207.6,70.76 207.1,70.58 206.6,70.4 206.1,70.22 205.6,70.05 205.1,69.87 204.6,69.69 204.1,69.51 203.6,69.34 203.1,69.16 202.6,68.98 202.1,68.81 201.6,68.64 201.1,68.47 200.6,68.3 200.1,68.13 199.6,67.97 199.1,67.81 198.6,67.65 198.1,67.48 197.6,67.33 197.1,67.17 196.6,67.01 196.1,66.85 195.6,66.69 195.1,66.54 194.6,66.38 194.1,66.22 193.6,66.07 193.1,65.91 192.6,65.75 192.1,65.6 191.6,65.44 191.1,65.28 190.6,65.13 190.1,64.97 189.6,64.81 189.1,64.66 188.6,64.5 188.1,64.34 187.6,64.19 187.1,64.03 186.6,63.87 186.1,63.72 185.6,63.56 185.1,63.4 184.6,63.25 184.1,63.09 183.6,62.93 183.1,62.77 182.6,62.62 182.1,62.46 181.6,62.3 181.1,62.15 180.6,61.99 180.1,61.83 179.6,61.68 179.1,61.52 178.6,61.36 178.1,61.21 177.6,61.05 177.1,60.89 176.6,60.73 176.1,60.58 175.6,60.42 175.1,60.26 174.6,60.11 174.1,59.95 173.6,59.79 173.1,59.64 172.6,59.48 172.1,59.32 171.6,59.16 171.1,59.01 170.6,58.85 170.1,58.69 169.6,58.54 169.1,58.38 168.6,58.23 168.1,58.07 167.6,57.91 167.1,57.76 166.6,57.6 166.1,57.45 165.6,57.29 165.1,57.14 164.6,56.98 164.1,56.83 163.6,56.67 163.1,56.52 162.6,56.36 162.1,56.2 161.6,56.05 161.1,55.89 160.6,55.74 160.1,55.58 159.6,55.42 159.1,55.27 158.6,55.11 158.1,54.95 157.6,54.79 157.1,54.62 156.6,54.46 156.1,54.29 155.6,54.12 155.1,53.95 154.6,53.78 154.1,53.61 153.6,53.44 153.1,53.26 152.6,53.09 152.1,52.91 151.6,52.74 151.1,52.56 150.6,52.39 150.1,52.21 149.6,52.04 149.1,51.87 148.6,51.69 148.1,51.52 147.6,51.35 147.1,51.19 146.6,51.02 146.1,50.86 145.6,50.7 145.1,50.54 144.6,50.38 144.1,50.23 143.6,50.08 143.1,49.93 142.6,49.78 142.1,49.64 141.6,49.49 141.1,49.35 140.6,49.2 140.1,49.06 139.6,48.91 139.1,48.77 138.6,48.62 138.1,48.48 137.6,48.33 137.1,48.19 136.6,48.04 136.1,47.89 135.6,47.75 135.1,47.6 134.6,47.45 134.1,47.3 133.6,47.15 133.1,47 132.6,46.85 132.1,46.7 131.6,46.54 131.1,46.39 130.6,46.24 130.1,46.08 129.6,45.93 129.1,45.78 128.6,45.62 128.1,45.47 127.6,45.32 127.1,45.17 126.6,45.01 126.1,44.86 125.6,44.71 125.1,44.56 124.6,44.41 124.1,44.27 123.6,44.12 123.1,43.97 122.6,43.83 122.1,43.69 121.6,43.54 121.1,43.4 120.6,43.26 120.1,43.12 119.6,42.98 119.1,42.84 118.6,42.7 118.1,42.56 117.6,42.42 117.1,42.28 116.6,42.14 116.1,41.99 115.6,41.85 115.1,41.71 114.6,41.57 114.1,41.43 113.6,41.29 113.1,41.14 112.6,41 112.1,40.86 111.6,40.71 111.1,40.57 110.6,40.42 110.1,40.28 109.6,40.13 109.1,39.99 108.6,39.84 108.1,39.7 107.6,39.55 107.1,39.41 106.6,39.26 106.1,39.12 105.6,38.97 105.1,38.82 104.6,38.68 104.1,38.53 103.6,38.38 103.1,38.24 102.6,38.09 102.1,37.94 101.6,37.8 101.1,37.65 100.6,37.5 100.1,37.35 99.6,37.2 99.1,37.05 98.6,36.9 98.1,36.74 97.6,36.59 97.1,36.44 96.6,36.28 96.1,36.13 95.6,35.97 95.1,35.82 94.6,35.66 94.1,35.51 93.6,35.35 93.1,35.2 92.6,35.04 92.1,34.89 91.6,34.73 91.1,34.58 90.6,34.42 90.1,34.27 89.6,34.12 89.1,33.96 88.6,33.81 88.1,33.65 87.6,33.5 87.1,33.35 86.6,33.2 86.1,33.04 85.6,32.89 85.1,32.74 84.6,32.59 84.1,32.44 83.6,32.28 83.1,32.13 82.6,31.98 82.1,31.83 81.6,31.67 81.1,31.52 80.6,31.37 80.1,31.21 79.6,31.06 79.1,30.9 78.6,30.74 78.1,30.58 77.6,30.42 77.1,30.25 76.6,30.09 76.1,29.92 75.6,29.76 75.1,29.59 74.6,29.42 74.1,29.25 73.6,29.08 73.1,28.91 72.6,28.73 72.1,28.56 71.6,28.39 71.1,28.22 70.6,28.04 70.1,27.87 69.6,27.69 69.1,27.51 68.6,27.33 68.1,27.14 67.6,26.95 67.1,26.76 66.6,26.57 66.1,26.37 65.6,26.17 65.1,25.96 64.6,25.76 64.1,25.55 63.6,25.34 63.1,25.12 62.6,24.91 62.1,24.69 61.6,24.48 61.1,24.26 60.6,24.05 60.1,23.83 59.6,23.61 59.1,23.39 58.6,23.18 58.1,22.96 57.6,22.74 57.1,22.52 56.6,22.3 56.1,22.08 50.7,20.5 50.1,16.6" fill="#00BFC4" fill-opacity="0.28"/>
<polyline points="50.1,16.6 50.7,19.9 56.1,21.2 56.6,21.37 57.1,21.54 57.6,21.71 58.1,21.88 58.6,22.05 59.1,22.22 59.6,22.39 60.1,22.56 60.6,22.73 61.1,22.9 61.6,23.07 62.1,23.24 62.6,23.41 63.1,23.58 63.6,23.76 64.1,23.93 64.6,24.11 65.1,24.29 65.6,24.47 66.1,24.66 66.6,24.85 67.1,25.05 67.6,25.25 68.1,25.45 68.6,25.66 69.1,25.87 69.6,26.09 70.1,26.31 70.6,26.53 71.1,26.75 71.6,26.97 72.1,27.19 72.6,27.42 73.1,27.64 73.6,27.86 74.1,28.09 74.6,28.31 75.1,28.53 75.6,28.75 76.1,28.97 76.6,29.19 77.1,29.4 77.6,29.62 78.1,29.83 78.6,30.04 79.1,30.25 79.6,30.45 80.1,30.65 80.6,30.86 81.1,31.06 81.6,31.26 82.1,31.45 82.6,31.65 83.1,31.85 83.6,32.05 84.1,32.25 84.6,32.44 85.1,32.64 85.6,32.84 86.1,33.04 86.6,33.24 87.1,33.44 87.6,33.65 88.1,33.85 88.6,34.05 89.1,34.26 89.6,34.47 90.1,34.68 90.6,34.89 91.1,35.1 91.6,35.31 92.1,35.53 92.6,35.74 93.1,35.96 93.6,36.17 94.1,36.39 94.6,36.6 95.1,36.81 95.6,37.03 96.1,37.24 96.6,37.45 97.1,37.67 97.6,37.87 98.1,38.08 98.6,38.29 99.1,38.49 99.6,38.69 100.1,38.88 100.6,39.08 101.1,39.27 101.6,39.46 102.1,39.64 102.6,39.83 103.1,40.01 103.6,40.19 104.1,40.37 104.6,40.55 105.1,40.73 105.6,40.91 106.1,41.09 106.6,41.27 107.1,41.45 107.6,41.63 108.1,41.81 108.6,41.99 109.1,42.17 109.6,42.35 110.1,42.53 110.6,42.71 111.1,42.9 111.6,43.08 112.1,43.27 112.6,43.46 113.1,43.64 113.6,43.84 114.1,44.03 114.6,44.22 115.1,44.42 115.6,44.62 116.1,44.82 116.6,45.02 117.1,45.22 117.6,45.42 118.1,45.62 118.6,45.82 119.1,46.02 119.6,46.22 120.1,46.43 120.6,46.63 121.1,46.83 121.6,47.03 122.1,47.23 122.6,47.43 123.1,47.63 123.6,47.83 124.1,48.03 124.6,48.23 125.1,48.43 125.6,48.63 126.1,48.83 126.6,49.02 127.1,49.22 127.6,49.42 128.1,49.62 128.6,49.81 129.1,50.01 129.6,50.21 130.1,50.41 130.6,50.6 131.1,50.8 131.6,50.99 132.1,51.19 132.6,51.38 133.1,51.57 133.6,51.77 134.1,51.95 134.6,52.14 135.1,52.33 135.6,52.51 136.1,52.7 136.6,52.88 137.1,53.06 137.6,53.23 138.1,53.41 138.6,53.59 139.1,53.76 139.6,53.94 140.1,54.11 140.6,54.29 141.1,54.46 141.6,54.63 142.1,54.81 142.6,54.98 143.1,55.15 143.6,55.32 144.1,55.49 144.6,55.66 145.1,55.82 145.6,55.99 146.1,56.15 146.6,56.31 147.1,56.47 147.6,56.63 148.1,56.79 148.6,56.94 149.1,57.09 149.6,57.25 150.1,57.4 150.6,57.55 151.1,57.7 151.6,57.86 152.1,58.01 152.6,58.16 153.1,58.31 153.6,58.46 154.1,58.62 154.6,58.77 155.1,58.92 155.6,59.07 156.1,59.23 156.6,59.38 157.1,59.54 157.6,59.69 158.1,59.85 158.6,60 159.1,60.16 159.6,60.32 160.1,60.47 160.6,60.63 161.1,60.79 161.6,60.95 162.1,61.11 162.6,61.26 163.1,61.42 163.6,61.58 164.1,61.74 164.6,61.89 165.1,62.05 165.6,62.21 166.1,62.36 166.6,62.52 167.1,62.67 167.6,62.83 168.1,62.98 168.6,63.13 169.1,63.28 169.6,63.43 170.1,63.58 170.6,63.73 171.1,63.88 171.6,64.03 172.1,64.17 172.6,64.32 173.1,64.47 173.6,64.61 174.1,64.76 174.6,64.91 175.1,65.06 175.6,65.2 176.1,65.35 176.6,65.5 177.1,65.65 177.6,65.79 178.1,65.94 178.6,66.09 179.1,66.24 179.6,66.39 180.1,66.54 180.6,66.69 181.1,66.84 181.6,66.99 182.1,67.14 182.6,67.29 183.1,67.44 183.6,67.59 184.1,67.74 184.6,67.89 185.1,68.05 185.6,68.2 186.1,68.35 186.6,68.5 187.1,68.64 187.6,68.79 188.1,68.94 188.6,69.08 189.1,69.22 189.6,69.36 190.1,69.5 190.6,69.64 191.1,69.77 191.6,69.9 192.1,70.03 192.6,70.16 193.1,70.29 193.6,70.41 194.1,70.54 194.6,70.66 195.1,70.79 195.6,70.91 196.1,71.04 196.6,71.16 197.1,71.29 197.6,71.41 198.1,71.54 198.6,71.67 199.1,71.8 199.6,71.94 200.1,72.07 200.6,72.21 201.1,72.35 201.6,72.49 202.1,72.64 202.6,72.78 203.1,72.93 203.6,73.08 204.1,73.24 204.6,73.39 205.1,73.54 205.6,73.7 206.1,73.85 206.6,74.01 207.1,74.16 207.6,74.32 208.1,74.47 208.6,74.63 209.1,74.78 209.6,74.94 210.1,75.09 210.6,75.24 211.1,75.39 211.6,75.54 212.1,75.68 212.6,75.83 213.1,75.97 213.6,76.12 214.1,76.26 214.6,76.4 215.1,76.54 215.6,76.68 216.1,76.82 216.6,76.96 217.1,77.1 217.6,77.24 218.1,77.38 218.6,77.52 219.1,77.66 219.6,77.79 220.1,77.93 220.6,78.06 221.1,78.19 221.6,78.32 222.1,78.45 222.6,78.58 223.1,78.7 223.6,78.82 224.1,78.93 224.6,79.05 225.1,79.16 225.6,79.26 226.1,79.37 226.6,79.47 227.1,79.58 227.6,79.68 228.1,79.78 228.6,79.88 229.1,79.98 229.6,80.08 230.1,80.18 230.6,80.28 231.1,80.38 231.6,80.48 232.1,80.58 232.6,80.68 233.1,80.78 233.6,80.88 234.1,80.98 234.6,81.08 235.1,81.18 235.6,81.28 236.1,81.38 236.6,81.48 237.1,81.58 237.6,81.68 238.1,81.78 238.6,81.88 239.1,81.98 239.6,82.08 240.1,82.18 240.6,82.28 241.1,82.38 241.6,82.48 242.1,82.58 242.6,82.68 243.1,82.78 243.6,82.88 244.1,82.98 244.6,83.08 245.1,83.18 245.6,83.28 246.1,83.38 246.6,83.48 247.1,83.58 247.6,83.68 248.1,83.78 248.6,83.88 249.1,83.98 249.6,84.08 250.1,84.18 250.6,84.28 251.1,84.38 251.6,84.48 252.1,84.58 252.6,84.68 253.1,84.78 253.6,84.88 254.1,84.98 254.6,85.09 255.1,85.19 255.6,85.3 256.1,85.41 256.6,85.53 257.1,85.65 257.6,85.78 258.1,85.92 258.6,86.06 259.1,86.22 259.6,86.39 260.1,86.57 260.6,86.75 261.1,86.95 261.6,87.15 262.1,87.35 262.6,87.56 263.1,87.76 263.6,87.96 264.1,88.14 264.6,88.31 265.1,88.47 265.6,88.61 266.1,88.73 266.6,88.84 267.1,88.93 267.6,89 268.1,89.07 268.6,89.12 269.1,89.16 269.6,89.2 270.1,89.23 270.6,89.27 271.1,89.29" fill="none" stroke="#F8766D" stroke-width="1.7" stroke-linejoin="round"/>
<polyline points="50.1,16.1 50.7,19.9 56.1,21.2 56.6,21.4 57.1,21.6 57.6,21.81 58.1,22.01 58.6,22.21 59.1,22.41 59.6,22.61 60.1,22.81 60.6,23.02 61.1,23.22 61.6,23.42 62.1,23.62 62.6,23.82 63.1,24.02 63.6,24.22 64.1,24.42 64.6,24.61 65.1,24.81 65.6,25 66.1,25.19 66.6,25.37 67.1,25.55 67.6,25.73 68.1,25.91 68.6,26.08 69.1,26.25 69.6,26.42 70.1,26.59 70.6,26.75 71.1,26.91 71.6,27.07 72.1,27.24 72.6,27.4 73.1,27.56 73.6,27.72 74.1,27.88 74.6,28.04 75.1,28.2 75.6,28.35 76.1,28.51 76.6,28.67 77.1,28.82 77.6,28.97 78.1,29.12 78.6,29.27 79.1,29.42 79.6,29.57 80.1,29.72 80.6,29.86 81.1,30.01 81.6,30.15 82.1,30.29 82.6,30.44 83.1,30.58 83.6,30.72 84.1,30.86 84.6,31.01 85.1,31.15 85.6,31.29 86.1,31.43 86.6,31.58 87.1,31.72 87.6,31.86 88.1,32.01 88.6,32.15 89.1,32.3 89.6,32.44 90.1,32.59 90.6,32.73 91.1,32.88 91.6,33.02 92.1,33.17 92.6,33.32 93.1,33.46 93.6,33.61 94.1,33.76 94.6,33.9 95.1,34.05 95.6,34.2 96.1,34.34 96.6,34.49 97.1,34.63 97.6,34.78 98.1,34.92 98.6,35.07 99.1,35.21 99.6,35.35 100.1,35.5 100.6,35.64 101.1,35.78 101.6,35.92 102.1,36.06 102.6,36.2 103.1,36.34 103.6,36.48 104.1,36.61 104.6,36.75 105.1,36.89 105.6,37.03 106.1,37.17 106.6,37.31 107.1,37.44 107.6,37.58 108.1,37.72 108.6,37.86 109.1,37.99 109.6,38.13 110.1,38.27 110.6,38.41 111.1,38.54 111.6,38.68 112.1,38.82 112.6,38.95 113.1,39.09 113.6,39.23 114.1,39.36 114.6,39.49 115.1,39.63 115.6,39.76 116.1,39.9 116.6,40.03 117.1,40.16 117.6,40.3 118.1,40.43 118.6,40.56 119.1,40.7 119.6,40.83 120.1,40.96 120.6,41.1 121.1,41.23 121.6,41.37 122.1,41.5 122.6,41.64 123.1,41.78 123.6,41.92 124.1,42.06 124.6,42.2 125.1,42.34 125.6,42.48 126.1,42.62 126.6,42.77 127.1,42.91 127.6,43.06 128.1,43.2 128.6,43.35 129.1,43.5 129.6,43.64 130.1,43.79 130.6,43.94 131.1,44.08 131.6,44.23 132.1,44.38 132.6,44.52 133.1,44.67 133.6,44.81 134.1,44.95 134.6,45.1 135.1,45.24 135.6,45.38 136.1,45.52 136.6,45.66 137.1,45.8 137.6,45.94 138.1,46.08 138.6,46.22 139.1,46.36 139.6,46.49 140.1,46.63 140.6,46.77 141.1,46.91 141.6,47.05 142.1,47.19 142.6,47.33 143.1,47.47 143.6,47.61 144.1,47.76 144.6,47.9 145.1,48.05 145.6,48.2 146.1,48.36 146.6,48.51 147.1,48.67 147.6,48.83 148.1,49 148.6,49.16 149.1,49.33 149.6,49.49 150.1,49.66 150.6,49.83 151.1,50 151.6,50.17 152.1,50.34 152.6,50.51 153.1,50.67 153.6,50.84 154.1,51.01 154.6,51.18 155.1,51.34 155.6,51.5 156.1,51.67 156.6,51.83 157.1,51.99 157.6,52.14 158.1,52.3 158.6,52.45 159.1,52.61 159.6,52.76 160.1,52.91 160.6,53.06 161.1,53.21 161.6,53.36 162.1,53.51 162.6,53.66 163.1,53.81 163.6,53.96 164.1,54.11 164.6,54.26 165.1,54.41 165.6,54.56 166.1,54.7 166.6,54.85 167.1,55 167.6,55.15 168.1,55.3 168.6,55.45 169.1,55.61 169.6,55.76 170.1,55.91 170.6,56.06 171.1,56.21 171.6,56.36 172.1,56.51 172.6,56.66 173.1,56.81 173.6,56.97 174.1,57.12 174.6,57.27 175.1,57.42 175.6,57.57 176.1,57.72 176.6,57.87 177.1,58.02 177.6,58.18 178.1,58.33 178.6,58.48 179.1,58.63 179.6,58.78 180.1,58.93 180.6,59.08 181.1,59.24 181.6,59.39 182.1,59.54 182.6,59.69 183.1,59.84 183.6,59.99 184.1,60.14 184.6,60.3 185.1,60.45 185.6,60.6 186.1,60.75 186.6,60.9 187.1,61.05 187.6,61.2 188.1,61.36 188.6,61.51 189.1,61.66 189.6,61.81 190.1,61.96 190.6,62.11 191.1,62.26 191.6,62.41 192.1,62.57 192.6,62.72 193.1,62.87 193.6,63.02 194.1,63.17 194.6,63.32 195.1,63.47 195.6,63.63 196.1,63.78 196.6,63.93 197.1,64.08 197.6,64.24 198.1,64.39 198.6,64.55 199.1,64.7 199.6,64.86 200.1,65.02 200.6,65.18 201.1,65.34 201.6,65.51 202.1,65.67 202.6,65.84 203.1,66.01 203.6,66.18 204.1,66.36 204.6,66.53 205.1,66.7 205.6,66.87 206.1,67.05 206.6,67.22 207.1,67.39 207.6,67.56 208.1,67.74 208.6,67.9 209.1,68.07 209.6,68.23 210.1,68.39 210.6,68.55 211.1,68.7 211.6,68.85 212.1,68.99 212.6,69.13 213.1,69.26 213.6,69.39 214.1,69.52 214.6,69.64 215.1,69.76 215.6,69.87 216.1,69.99 216.6,70.11 217.1,70.22 217.6,70.33 218.1,70.45 218.6,70.56 219.1,70.67 219.6,70.78 220.1,70.89 220.6,71 221.1,71.1 221.6,71.21 222.1,71.31 222.6,71.41 223.1,71.51 223.6,71.6 224.1,71.69 224.6,71.78 225.1,71.86 225.6,71.94 226.1,72.02 226.6,72.1 227.1,72.18 227.6,72.26 228.1,72.33 228.6,72.41 229.1,72.48 229.6,72.56 230.1,72.63 230.6,72.71 231.1,72.79 231.6,72.86 232.1,72.94 232.6,73.01 233.1,73.08 233.6,73.16 234.1,73.24 234.6,73.31 235.1,73.39 235.6,73.46 236.1,73.54 236.6,73.61 237.1,73.69 237.6,73.76 238.1,73.83 238.6,73.91 239.1,73.99 239.6,74.06 240.1,74.14 240.6,74.21 241.1,74.29 241.6,74.36 242.1,74.44 242.6,74.51 243.1,74.59 243.6,74.66 244.1,74.74 244.6,74.81 245.1,74.89 245.6,74.96 246.1,75.04 246.6,75.11 247.1,75.19 247.6,75.26 248.1,75.34 248.6,75.41 249.1,75.49 249.6,75.56 250.1,75.64 250.6,75.71 251.1,75.79 251.6,75.86 252.1,75.94 252.6,76.01 253.1,76.09 253.6,76.16 254.1,76.24 254.6,76.31 255.1,76.39 255.6,76.47 256.1,76.54 256.6,76.62 257.1,76.71 257.6,76.79 258.1,76.88 258.6,76.96 259.1,77.06 259.6,77.15 260.1,77.25 260.6,77.35 261.1,77.45 261.6,77.56 262.1,77.67 262.6,77.79 263.1,77.91 263.6,78.04 264.1,78.18 264.6,78.33 265.1,78.49 265.6,78.67 266.1,78.87 266.6,79.1 267.1,79.34 267.6,79.61 268.1,79.91 268.6,80.22 269.1,80.55 269.6,80.91 270.1,81.27 270.6,81.64 271.1,82.02" fill="none" stroke="#00BFC4" stroke-width="1.7" stroke-opacity="0.55" stroke-linejoin="round"/>
<polyline points="50.1,16.1 50.7,19.9 56.1,21.2 56.6,21.4 57.1,21.6 57.6,21.81 58.1,22.01 58.6,22.21 59.1,22.41 59.6,22.61 60.1,22.81 60.6,23.02 61.1,23.22 61.6,23.42 62.1,23.62 62.6,23.82 63.1,24.02 63.6,24.22 64.1,24.42 64.6,24.61 65.1,24.81 65.6,25 66.1,25.19 66.6,25.37 67.1,25.55 67.6,25.73 68.1,25.91 68.6,26.08 69.1,26.25 69.6,26.42 70.1,26.59 70.6,26.75 71.1,26.91 71.6,27.07 72.1,27.24 72.6,27.4 73.1,27.56 73.6,27.72 74.1,27.88 74.6,28.04 75.1,28.2 75.6,28.35 76.1,28.51 76.6,28.67 77.1,28.82 77.6,28.97 78.1,29.12 78.6,29.27 79.1,29.42 79.6,29.57 80.1,29.72 80.6,29.86 81.1,30.01 81.6,30.15 82.1,30.29 82.6,30.44 83.1,30.58 83.6,30.72 84.1,30.86 84.6,31.01 85.1,31.15 85.6,31.29 86.1,31.43 86.6,31.58 87.1,31.72 87.6,31.86 88.1,32.01 88.6,32.15 89.1,32.3 89.6,32.44 90.1,32.59 90.6,32.73 91.1,32.88 91.6,33.02 92.1,33.17 92.6,33.32 93.1,33.46 93.6,33.61 94.1,33.76 94.6,33.9 95.1,34.05 95.6,34.2 96.1,34.34 96.6,34.49 97.1,34.63 97.6,34.78 98.1,34.92 98.6,35.07 99.1,35.21 99.6,35.35 100.1,35.5 100.6,35.64 101.1,35.78 101.6,35.92 102.1,36.06 102.6,36.2 103.1,36.34 103.6,36.48 104.1,36.61 104.6,36.75 105.1,36.89 105.6,37.03 106.1,37.17 106.6,37.31 107.1,37.44 107.6,37.58 108.1,37.72 108.6,37.86 109.1,37.99 109.6,38.13 110.1,38.27 110.6,38.41 111.1,38.54 111.6,38.68 112.1,38.82 112.6,38.95 113.1,39.09 113.6,39.23 114.1,39.36 114.6,39.49 115.1,39.63 115.6,39.76 116.1,39.9 116.6,40.03 117.1,40.16 117.6,40.3 118.1,40.43 118.6,40.56 119.1,40.7 119.6,40.83 120.1,40.96 120.6,41.1 121.1,41.23 121.6,41.37 122.1,41.5 122.6,41.64 123.1,41.78 123.6,41.92 124.1,42.06 124.6,42.2 125.1,42.34 125.6,42.48 126.1,42.62 126.6,42.77 127.1,42.91 127.6,43.06 128.1,43.2 128.6,43.35 129.1,43.5 129.6,43.64 130.1,43.79 130.6,43.94 131.1,44.08 131.6,44.23 132.1,44.38 132.6,44.52 133.1,44.67 133.6,44.81 134.1,44.95 134.6,45.1 135.1,45.24 135.6,45.38 136.1,45.52 136.6,45.66 137.1,45.8 137.6,45.94 138.1,46.08 138.6,46.22 139.1,46.36 139.6,46.49 140.1,46.63 140.6,46.77 141.1,46.91 141.6,47.05 142.1,47.19 142.6,47.33 143.1,47.47 143.6,47.61 144.1,47.76 144.6,47.9 145.1,48.05 145.6,48.2 146.1,48.36 146.6,48.51 147.1,48.67 147.6,48.83 148.1,49 148.6,49.16 149.1,49.33 149.6,49.49 150.1,49.66 150.6,49.83 151.1,50 151.6,50.17 152.1,50.34 152.6,50.51 153.1,50.67 153.6,50.84 154.1,51.01 154.6,51.18 155.1,51.34 155.6,51.5 156.1,51.67 156.6,51.83 157.1,51.99 157.6,52.14 158.1,52.3 158.6,52.45 159.1,52.61 159.6,52.76 160.1,52.91 160.6,53.06 161.1,53.21 161.6,53.36 162.1,53.51 162.6,53.66 163.1,53.81 163.6,53.96 164.1,54.11 164.6,54.26 165.1,54.41 165.6,54.56 166.1,54.7 166.6,54.85 167.1,55 167.6,55.15 168.1,55.3 168.6,55.45 169.1,55.61 169.6,55.76 170.1,55.91 170.6,56.06 171.1,56.21 171.6,56.36 172.1,56.51 172.6,56.66 173.1,56.81 173.6,56.97 174.1,57.12 174.6,57.27 175.1,57.42 175.6,57.57 176.1,57.72 176.6,57.87 177.1,58.02 177.6,58.18 178.1,58.33 178.6,58.48 179.1,58.63 179.6,58.78 180.1,58.93 180.6,59.08 181.1,59.24 181.6,59.39 182.1,59.54 182.6,59.69 183.1,59.84 183.6,59.99 184.1,60.14 184.6,60.3 185.1,60.45 185.6,60.6 186.1,60.75 186.6,60.9 187.1,61.05 187.6,61.2 188.1,61.36 188.6,61.51 189.1,61.66 189.6,61.81 190.1,61.96 190.6,62.11 191.1,62.26 191.6,62.41 192.1,62.57 192.6,62.72 193.1,62.87 193.6,63.02 194.1,63.17 194.6,63.32 195.1,63.47 195.6,63.63 196.1,63.78 196.6,63.93 197.1,64.08 197.6,64.24 198.1,64.39 198.6,64.55 199.1,64.7 199.6,64.86 200.1,65.02 200.6,65.18 201.1,65.34 201.6,65.51 202.1,65.67 202.6,65.84 203.1,66.01 203.6,66.18 204.1,66.36 204.6,66.53 205.1,66.7 205.6,66.87 206.1,67.05 206.6,67.22 207.1,67.39 207.6,67.56 208.1,67.74 208.6,67.9 209.1,68.07 209.6,68.23 210.1,68.39 210.6,68.55 211.1,68.7 211.6,68.85 212.1,68.99 212.6,69.13 213.1,69.26 213.6,69.39 214.1,69.52 214.6,69.64 215.1,69.76 215.6,69.87 216.1,69.99 216.6,70.11 217.1,70.22 217.6,70.33 218.1,70.45 218.6,70.56 219.1,70.67 219.6,70.78 220.1,70.89 220.6,71 221.1,71.1 221.6,71.21 222.1,71.31 222.6,71.41 223.1,71.51 223.6,71.6 224.1,71.69 224.6,71.78 225.1,71.86 225.6,71.94 226.1,72.02 226.6,72.1 227.1,72.18 227.6,72.26 228.1,72.33 228.6,72.41 229.1,72.48 229.6,72.56 230.1,72.63 230.6,72.71 231.1,72.79 231.6,72.86 232.1,72.94 232.6,73.01 233.1,73.08 233.6,73.16 234.1,73.24 234.6,73.31 235.1,73.39 235.6,73.46 236.1,73.54 236.6,73.61 237.1,73.69 237.6,73.76 238.1,73.83 238.6,73.91 239.1,73.99 239.6,74.06 240.1,74.14 240.6,74.21 241.1,74.29 241.6,74.36 242.1,74.44 242.6,74.51 243.1,74.59 243.6,74.66 244.1,74.74 244.6,74.81 245.1,74.89 245.6,74.96 246.1,75.04 246.6,75.11 247.1,75.19 247.6,75.26 248.1,75.34 248.6,75.41 249.1,75.49 249.6,75.56 250.1,75.64 250.6,75.71 251.1,75.79 251.6,75.86 252.1,75.94 252.6,76.01 253.1,76.09 253.6,76.16 254.1,76.24 254.6,76.31 255.1,76.39 255.6,76.47 256.1,76.54 256.6,76.62 257.1,76.71 257.6,76.79 258.1,76.88 258.6,76.96 259.1,77.06 259.6,77.15 260.1,77.25 260.6,77.35 261.1,77.45 261.6,77.56 262.1,77.67 262.6,77.79 263.1,77.91 263.6,78.04 264.1,78.18 264.6,78.33 265.1,78.49 265.6,78.67 266.1,78.87 266.6,79.1 267.1,79.34 267.6,79.61 268.1,79.91 268.6,80.22 269.1,80.55 269.6,80.91 270.1,81.27 270.6,81.64 271.1,82.02" fill="none" stroke="#00B6BA" stroke-width="1.6" stroke-dasharray="1.6 1.6" stroke-linejoin="round"/>
<rect x="206.6" y="24.6" width="40" height="22" fill="#fff"/>
<text transform="translate(209,30.7) scale(0.1007,0.1)" font-size="48" fill="#222">Tumor location</text>
<rect x="208.6" y="33.6" width="7.1" height="5.9" fill="#F8766D" fill-opacity="0.3"/>
<line x1="208.9" x2="215.4" y1="36.55" y2="36.55" stroke="#F8766D" stroke-width="1.2"/>
<rect x="208.6" y="39.9" width="7.1" height="5.9" fill="#00BFC4" fill-opacity="0.3"/>
<line x1="208.9" x2="215.4" y1="42.85" y2="42.85" stroke="#00B6BA" stroke-width="1.2" stroke-dasharray="1.5 1"/>
<text transform="translate(219,37.9) scale(0.0915,0.1)" font-size="37" fill="#222">Caecum</text>
<text transform="translate(219,44.2) scale(0.1053,0.1)" font-size="39" fill="#222">Sigmoid colon</text>
<rect x="62.4" y="108" width="31.6" height="9" fill="#fff"/>
<text transform="translate(63.2,115.8) scale(0.1069,0.1)" font-size="59" fill="#222" class="p">p &lt; 0.0001</text>
<rect x="39.5" y="10.2" width="234.3" height="132.9" class="bd"/>
<line x1="38" x2="39.5" y1="16" y2="16" class="tk"/>
<text transform="translate(31.86,17.3) scale(0.1,0.1)" font-size="37" fill="#444">1.0</text>
<line x1="38" x2="39.5" y1="40.25" y2="40.25" class="tk"/>
<text transform="translate(31.86,41.55) scale(0.1,0.1)" font-size="37" fill="#444">0.9</text>
<line x1="38" x2="39.5" y1="64.5" y2="64.5" class="tk"/>
<text transform="translate(31.86,65.8) scale(0.1,0.1)" font-size="37" fill="#444">0.8</text>
<line x1="38" x2="39.5" y1="88.75" y2="88.75" class="tk"/>
<text transform="translate(31.86,90.05) scale(0.1,0.1)" font-size="37" fill="#444">0.7</text>
<line x1="38" x2="39.5" y1="113" y2="113" class="tk"/>
<text transform="translate(31.86,114.3) scale(0.1,0.1)" font-size="37" fill="#444">0.6</text>
<line x1="38" x2="39.5" y1="137.25" y2="137.25" class="tk"/>
<text transform="translate(31.86,138.55) scale(0.1,0.1)" font-size="37" fill="#444">0.5</text>
<line x1="50.3" x2="50.3" y1="143" y2="144.4" class="tk"/>
<text transform="translate(49.27,147.7) scale(0.1,0.1)" font-size="37" fill="#444">0</text>
<line x1="209.8" x2="209.8" y1="143" y2="144.4" class="tk"/>
<text transform="translate(208.77,147.7) scale(0.1,0.1)" font-size="37" fill="#444">5</text>
<text transform="translate(144.4,152.3) scale(0.1044,0.1)" font-size="47" fill="#222">Time (year)</text>
<text transform="translate(8.9,77.1) rotate(-90) translate(-14.6,0) scale(0.1)" font-size="47" fill="#222" style="letter-spacing:-1.95px">Overall survival</text>
<text transform="translate(39.8,160.9) scale(0.1049,0.1)" font-size="56" fill="#1a1a1a">Number at risk</text>
<line x1="130.05" x2="130.05" y1="163.8" y2="194.4" class="gm"/>
<line x1="50.3" x2="50.3" y1="163.8" y2="194.4" class="gM"/>
<line x1="209.8" x2="209.8" y1="163.8" y2="194.4" class="gM"/>
<line x1="39.5" x2="273.8" y1="172.4" y2="172.4" class="gM"/>
<line x1="39.5" x2="273.8" y1="186.4" y2="186.4" class="gM"/>
<text transform="translate(43.75,174.4) scale(0.068,0.1)" font-size="63" fill="#F8766D">10,044</text>
<text transform="translate(203.35,174.4) scale(0.092,0.1)" font-size="63" fill="#F8766D">2243</text>
<text transform="translate(43.75,188.4) scale(0.068,0.1)" font-size="63" fill="#00BFC4">10,044</text>
<text transform="translate(203.35,188.4) scale(0.092,0.1)" font-size="63" fill="#00BFC4">2534</text>
<rect x="39.5" y="163.8" width="234.3" height="30.6" class="bd"/>
<line x1="38" x2="39.5" y1="172.4" y2="172.4" class="tk"/>
<line x1="38" x2="39.5" y1="186.4" y2="186.4" class="tk"/>
<text transform="translate(24.4,173.8) scale(0.0936,0.1)" font-size="35" fill="#F8766D">Caecum</text>
<text transform="translate(11.8,187.8) scale(0.1097,0.1)" font-size="36" fill="#00BFC4">Sigmoid colon</text>
<line x1="50.3" x2="50.3" y1="194.5" y2="195.9" class="tk"/>
<text transform="translate(49.27,199) scale(0.1,0.1)" font-size="37" fill="#444">0</text>
<line x1="209.8" x2="209.8" y1="194.5" y2="195.9" class="tk"/>
<text transform="translate(208.77,199) scale(0.1,0.1)" font-size="37" fill="#444">5</text>
<text transform="translate(144.5,203.6) scale(0.104,0.1)" font-size="47" fill="#222">Time (year)</text>
<text transform="translate(9.1,179.1) rotate(-90) translate(-13.3,0) scale(0.1)" font-size="47" fill="#222" style="letter-spacing:-3.32px">Tumor location</text>
</g>
</svg>
</body></html>
